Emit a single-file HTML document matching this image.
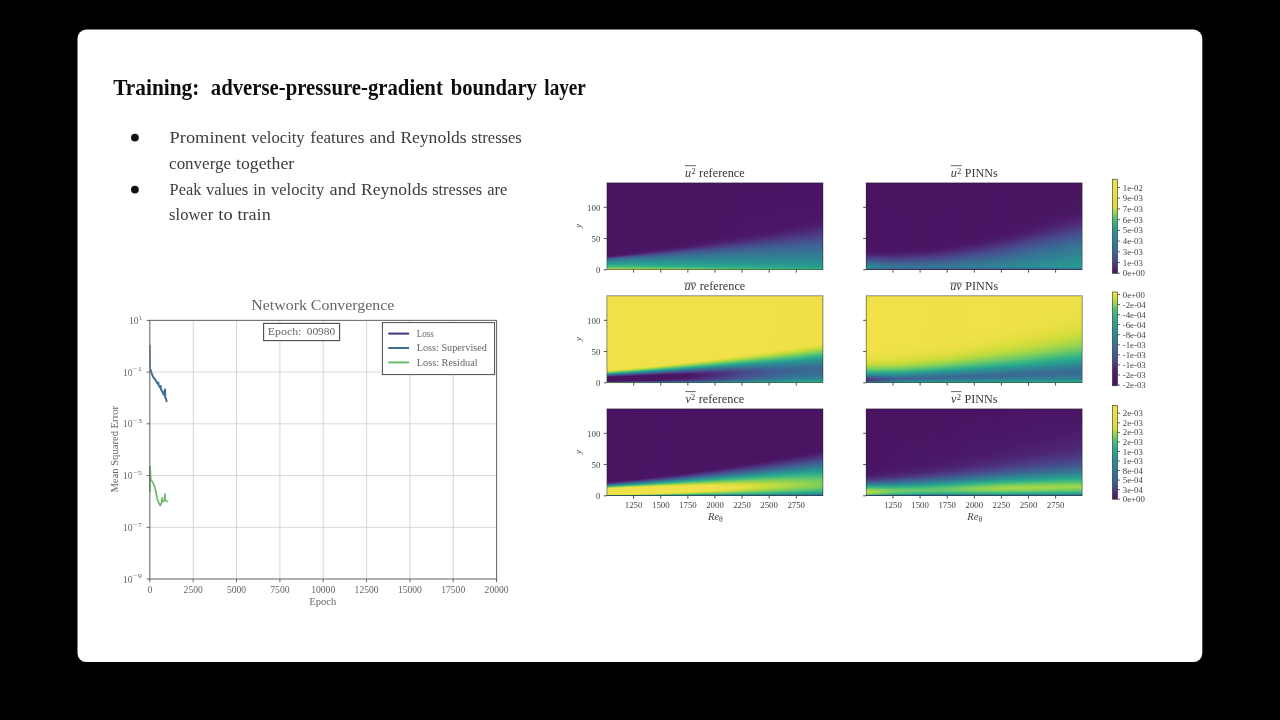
<!DOCTYPE html>
<html lang="en"><head><meta charset="utf-8"><title>Training: adverse-pressure-gradient boundary layer</title>
<style>
html,body{margin:0;padding:0;background:#000;}
body{width:1280px;height:720px;overflow:hidden;position:relative;font-family:"Liberation Serif",serif;}
svg{position:absolute;left:0;top:0;}
text{font-family:"Liberation Serif",serif;}
.b{font-weight:bold;fill:#0c0c0c;font-size:22.2px;}
.p{fill:#3c3c3c;font-size:17.6px;}
.cm{fill:#666;}
.tk{fill:#444;font-size:8.8px;}
.tt{fill:#363636;font-size:12.2px;}
</style></head><body>
<svg width="1280" height="720" viewBox="0 0 1280 720">
<rect x="77.5" y="29.6" width="1124.8" height="632.4" rx="8.8" ry="8.8" fill="#fff"/>
<text y="94.5" class="b"><tspan x="113.2" textLength="86.2" lengthAdjust="spacingAndGlyphs">Training:</tspan> <tspan x="210.8" textLength="232.0" lengthAdjust="spacingAndGlyphs">adverse-pressure-gradient</tspan> <tspan x="450.8" textLength="86.1" lengthAdjust="spacingAndGlyphs">boundary</tspan> <tspan x="544.3" textLength="41.6" lengthAdjust="spacingAndGlyphs">layer</tspan></text>
<circle cx="134.9" cy="137.6" r="3.9" fill="#111"/>
<circle cx="134.9" cy="189.6" r="3.9" fill="#111"/>
<text y="142.9" class="p"><tspan x="169.6" textLength="76.5" lengthAdjust="spacingAndGlyphs">Prominent</tspan> <tspan x="251.2" textLength="53.5" lengthAdjust="spacingAndGlyphs">velocity</tspan> <tspan x="310.2" textLength="54.1" lengthAdjust="spacingAndGlyphs">features</tspan> <tspan x="369.4" textLength="25.7" lengthAdjust="spacingAndGlyphs">and</tspan> <tspan x="400.4" textLength="66.2" lengthAdjust="spacingAndGlyphs">Reynolds</tspan> <tspan x="471.3" textLength="50.5" lengthAdjust="spacingAndGlyphs">stresses</tspan></text>
<text y="169.0" class="p"><tspan x="169.1" textLength="61.9" lengthAdjust="spacingAndGlyphs">converge</tspan> <tspan x="236.0" textLength="58.2" lengthAdjust="spacingAndGlyphs">together</tspan></text>
<text y="194.8" class="p"><tspan x="169.6" textLength="31.7" lengthAdjust="spacingAndGlyphs">Peak</tspan> <tspan x="206.0" textLength="42.3" lengthAdjust="spacingAndGlyphs">values</tspan> <tspan x="253.3" textLength="12.6" lengthAdjust="spacingAndGlyphs">in</tspan> <tspan x="271.0" textLength="53.2" lengthAdjust="spacingAndGlyphs">velocity</tspan> <tspan x="329.6" textLength="26.4" lengthAdjust="spacingAndGlyphs">and</tspan> <tspan x="361.0" textLength="66.6" lengthAdjust="spacingAndGlyphs">Reynolds</tspan> <tspan x="432.2" textLength="50.0" lengthAdjust="spacingAndGlyphs">stresses</tspan> <tspan x="487.2" textLength="20.2" lengthAdjust="spacingAndGlyphs">are</tspan></text>
<text y="220.3" class="p"><tspan x="169.1" textLength="44.1" lengthAdjust="spacingAndGlyphs">slower</tspan> <tspan x="218.3" textLength="14.4" lengthAdjust="spacingAndGlyphs">to</tspan> <tspan x="237.5" textLength="33.2" lengthAdjust="spacingAndGlyphs">train</tspan></text>
<path d="M193.2 320.4V579.0M236.5 320.4V579.0M279.9 320.4V579.0M323.2 320.4V579.0M366.6 320.4V579.0M409.9 320.4V579.0M453.2 320.4V579.0M149.8 372.1H496.6M149.8 423.8H496.6M149.8 475.6H496.6M149.8 527.3H496.6" stroke="#cdcdcd" stroke-width="0.8" fill="none"/>
<path d="M149.8 579.0v3.2M193.2 579.0v3.2M236.5 579.0v3.2M279.9 579.0v3.2M323.2 579.0v3.2M366.6 579.0v3.2M409.9 579.0v3.2M453.2 579.0v3.2M496.6 579.0v3.2M149.8 320.4h-3.2M149.8 372.1h-3.2M149.8 423.8h-3.2M149.8 475.6h-3.2M149.8 527.3h-3.2M149.8 579.0h-3.2" stroke="#555" stroke-width="0.9" fill="none"/>
<path d="M150.0 345.4 L150.2 360.0 L150.3 367.3 L150.8 370.5" stroke="#44709a" stroke-width="1.2" fill="none" stroke-linejoin="round" stroke-linecap="round"/>
<path d="M150.8 370.5 L151.5 372.8 L153.0 376.7 L155.6 380.3 L157.5 383.4 L158.4 382.6 L158.6 385.2 L159.8 387.1 L160.7 386.0 L160.9 389.2 L162.4 391.8 L163.6 394.6 L165.1 389.4 L165.2 397.5 L166.0 398.4 L166.6 401.3" stroke="#426d96" stroke-width="2" fill="none" stroke-linejoin="round" stroke-linecap="round"/>
<path d="M149.9 491.0 L150.0 466.5 L150.4 474.0 L150.9 480.0 L152.5 481.8 L153.8 484.5 L155.1 488.3 L156.2 493.5 L157.2 498.7 L158.8 503.0 L160.3 505.5 L161.5 503.0 L162.1 497.9 L162.5 501.9 L163.4 501.5 L164.5 500.3 L165.0 494.0 L165.4 500.8 L167.1 501.4" stroke="#6cba6b" stroke-width="1.7" fill="none" stroke-linejoin="round" stroke-linecap="round"/>
<rect x="149.8" y="320.4" width="346.8" height="258.6" fill="none" stroke="#555" stroke-opacity="0.85" stroke-width="1.1"/>
<text x="251.3" y="310.4" class="cm" textLength="143.1" lengthAdjust="spacingAndGlyphs" font-size="14.8">Network Convergence</text>
<rect x="263.6" y="323.4" width="76" height="17.2" fill="#fff" stroke="#4a4a4a" stroke-width="1.1"/>
<text y="335.1" class="cm" font-size="11.4"><tspan x="267.8" textLength="33.6" lengthAdjust="spacingAndGlyphs">Epoch:</tspan> <tspan x="306.7" textLength="28.5" lengthAdjust="spacingAndGlyphs">00980</tspan></text>
<rect x="382.4" y="322.6" width="112.2" height="52" fill="#fff" stroke="#4a4a4a" stroke-width="1"/>
<path d="M388.3 333.6H409.1" stroke="#46327e" stroke-width="2"/>
<text x="416.7" y="336.8" class="cm" textLength="17.0" lengthAdjust="spacingAndGlyphs" font-size="9.3">Loss</text>
<path d="M388.3 348.0H409.1" stroke="#3d6c94" stroke-width="2"/>
<text x="416.7" y="351.2" class="cm" textLength="70.2" lengthAdjust="spacingAndGlyphs" font-size="9.3">Loss: Supervised</text>
<path d="M388.3 362.4H409.1" stroke="#6cba6b" stroke-width="2"/>
<text x="416.7" y="365.6" class="cm" textLength="61.0" lengthAdjust="spacingAndGlyphs" font-size="9.3">Loss: Residual</text>
<text x="149.8" y="592.6" class="cm" text-anchor="middle" font-size="9.6">0</text>
<text x="193.2" y="592.6" class="cm" text-anchor="middle" font-size="9.6">2500</text>
<text x="236.5" y="592.6" class="cm" text-anchor="middle" font-size="9.6">5000</text>
<text x="279.9" y="592.6" class="cm" text-anchor="middle" font-size="9.6">7500</text>
<text x="323.2" y="592.6" class="cm" text-anchor="middle" font-size="9.6">10000</text>
<text x="366.6" y="592.6" class="cm" text-anchor="middle" font-size="9.6">12500</text>
<text x="409.9" y="592.6" class="cm" text-anchor="middle" font-size="9.6">15000</text>
<text x="453.2" y="592.6" class="cm" text-anchor="middle" font-size="9.6">17500</text>
<text x="496.6" y="592.6" class="cm" text-anchor="middle" font-size="9.6">20000</text>
<text x="322.8" y="604.9" class="cm" textLength="27.0" lengthAdjust="spacingAndGlyphs" text-anchor="middle" font-size="9.8">Epoch</text>
<text x="128.9" y="323.9" class="cm" font-size="9.6">10<tspan x="138.4" dy="-4.2" font-size="7">1</tspan></text>
<text x="122.9" y="375.6" class="cm" font-size="9.6">10<tspan x="133.1" dy="-4.2" font-size="7" textLength="8.8" lengthAdjust="spacingAndGlyphs">−1</tspan></text>
<text x="122.9" y="427.3" class="cm" font-size="9.6">10<tspan x="133.1" dy="-4.2" font-size="7" textLength="8.8" lengthAdjust="spacingAndGlyphs">−3</tspan></text>
<text x="122.9" y="479.1" class="cm" font-size="9.6">10<tspan x="133.1" dy="-4.2" font-size="7" textLength="8.8" lengthAdjust="spacingAndGlyphs">−5</tspan></text>
<text x="122.9" y="530.8" class="cm" font-size="9.6">10<tspan x="133.1" dy="-4.2" font-size="7" textLength="8.8" lengthAdjust="spacingAndGlyphs">−7</tspan></text>
<text x="122.9" y="582.5" class="cm" font-size="9.6">10<tspan x="133.1" dy="-4.2" font-size="7" textLength="8.8" lengthAdjust="spacingAndGlyphs">−9</tspan></text>
<text transform="translate(117.8 449.3) rotate(-90)" class="cm" text-anchor="middle" font-size="9.6" textLength="86.6" lengthAdjust="spacingAndGlyphs">Mean Squared Error</text>
<defs><linearGradient id="h0" gradientUnits="userSpaceOnUse" x1="0" x2="0" y1="269.5" y2="0"><stop offset="0" stop-color="#dade3c"/><stop offset=".0029" stop-color="#bdda3e"/><stop offset=".0072" stop-color="#99d54d"/><stop offset=".0134" stop-color="#7acd60"/><stop offset=".0193" stop-color="#65c76c"/><stop offset=".0403" stop-color="#3ab582"/><stop offset=".0573" stop-color="#2aa78c"/><stop offset=".0816" stop-color="#2a9393"/><stop offset=".1128" stop-color="#377094"/><stop offset=".1262" stop-color="#435690"/><stop offset=".1345" stop-color="#4c3a83"/><stop offset=".1432" stop-color="#4c206e"/><stop offset=".1491" stop-color="#4a1866"/><stop offset=".1739" stop-color="#491462"/><stop offset="1" stop-color="#491462"/></linearGradient>
<linearGradient id="k1" href="#h0" y2="181"/>
<linearGradient id="k2" href="#h0" y2="179.1"/>
<linearGradient id="k3" href="#h0" y2="177.1"/>
<linearGradient id="k4" href="#h0" y2="175.1"/>
<linearGradient id="k5" href="#h0" y2="173.1"/>
<linearGradient id="k6" href="#h0" y2="171"/>
<linearGradient id="k7" href="#h0" y2="169"/>
<linearGradient id="k8" href="#h0" y2="166.9"/>
<linearGradient id="k9" href="#h0" y2="164.8"/>
<linearGradient id="h10" gradientUnits="userSpaceOnUse" x1="0" x2="0" y1="269.5" y2="0"><stop offset="0" stop-color="#e5df41"/><stop offset=".0018" stop-color="#cedc3a"/><stop offset=".006" stop-color="#a1d64a"/><stop offset=".0109" stop-color="#7acd60"/><stop offset=".0172" stop-color="#5bc471"/><stop offset=".0263" stop-color="#40b87f"/><stop offset=".0403" stop-color="#2eac8a"/><stop offset=".0611" stop-color="#289b91"/><stop offset=".1052" stop-color="#367394"/><stop offset=".1234" stop-color="#445590"/><stop offset=".1345" stop-color="#4c3982"/><stop offset=".1432" stop-color="#4c2471"/><stop offset=".1551" stop-color="#4a1866"/><stop offset=".1804" stop-color="#491462"/><stop offset="1" stop-color="#491462"/></linearGradient>
<linearGradient id="k11" href="#h10" y2="181"/>
<linearGradient id="k12" href="#h10" y2="179.1"/>
<linearGradient id="k13" href="#h10" y2="177.1"/>
<linearGradient id="k14" href="#h10" y2="175.1"/>
<linearGradient id="k15" href="#h10" y2="173.1"/>
<linearGradient id="k16" href="#h10" y2="171"/>
<linearGradient id="k17" href="#h10" y2="169"/>
<linearGradient id="k18" href="#h10" y2="166.9"/>
<linearGradient id="k19" href="#h10" y2="164.8"/>
<linearGradient id="k20" href="#h10" y2="162.6"/>
<linearGradient id="k21" href="#h10" y2="160.5"/>
<linearGradient id="k22" href="#h10" y2="158.3"/>
<linearGradient id="k23" href="#h10" y2="156"/>
<linearGradient id="k24" href="#h10" y2="153.8"/>
<linearGradient id="k25" href="#h10" y2="151.5"/>
<linearGradient id="k26" href="#h10" y2="149.2"/>
<linearGradient id="k27" href="#h10" y2="146.9"/>
<linearGradient id="k28" href="#h10" y2="144.6"/>
<linearGradient id="h29" gradientUnits="userSpaceOnUse" x1="0" x2="0" y1="269.5" y2="0"><stop offset="0" stop-color="#c9dc3b"/><stop offset=".0034" stop-color="#a3d649"/><stop offset=".0066" stop-color="#85d059"/><stop offset=".0117" stop-color="#65c76c"/><stop offset=".0162" stop-color="#50c077"/><stop offset=".0251" stop-color="#3ab582"/><stop offset=".0403" stop-color="#2ba88c"/><stop offset=".071" stop-color="#299592"/><stop offset=".1234" stop-color="#386f94"/><stop offset=".1491" stop-color="#464f8e"/><stop offset=".1707" stop-color="#4d2a77"/><stop offset=".187" stop-color="#4b1967"/><stop offset=".2255" stop-color="#491462"/><stop offset="1" stop-color="#491462"/></linearGradient>
<linearGradient id="k30" href="#h29" y2="181"/>
<linearGradient id="k31" href="#h29" y2="179.2"/>
<linearGradient id="k32" href="#h29" y2="177.4"/>
<linearGradient id="k33" href="#h29" y2="175.6"/>
<linearGradient id="k34" href="#h29" y2="173.7"/>
<linearGradient id="k35" href="#h29" y2="171.8"/>
<linearGradient id="k36" href="#h29" y2="169.9"/>
<linearGradient id="k37" href="#h29" y2="168"/>
<linearGradient id="k38" href="#h29" y2="166.1"/>
<linearGradient id="k39" href="#h29" y2="164.1"/>
<linearGradient id="k40" href="#h29" y2="162.1"/>
<linearGradient id="k41" href="#h29" y2="160.1"/>
<linearGradient id="k42" href="#h29" y2="158.1"/>
<linearGradient id="k43" href="#h29" y2="156.1"/>
<linearGradient id="k44" href="#h29" y2="154"/>
<linearGradient id="k45" href="#h29" y2="151.9"/>
<linearGradient id="k46" href="#h29" y2="149.8"/>
<linearGradient id="k47" href="#h29" y2="147.7"/>
<linearGradient id="h48" gradientUnits="userSpaceOnUse" x1="0" x2="0" y1="269.5" y2="0"><stop offset="0" stop-color="#add845"/><stop offset=".0043" stop-color="#82d05b"/><stop offset=".0093" stop-color="#61c66e"/><stop offset=".0162" stop-color="#44bb7d"/><stop offset=".0263" stop-color="#32b087"/><stop offset=".0451" stop-color="#28a38e"/><stop offset=".1027" stop-color="#2f8594"/><stop offset=".1551" stop-color="#3e6293"/><stop offset=".1837" stop-color="#4a4389"/><stop offset=".2111" stop-color="#4c2270"/><stop offset=".2329" stop-color="#4a1866"/><stop offset=".2922" stop-color="#491462"/><stop offset="1" stop-color="#491462"/></linearGradient>
<linearGradient id="k49" href="#h48" y2="181"/>
<linearGradient id="k50" href="#h48" y2="179.4"/>
<linearGradient id="k51" href="#h48" y2="177.7"/>
<linearGradient id="k52" href="#h48" y2="176"/>
<linearGradient id="k53" href="#h48" y2="174.3"/>
<linearGradient id="k54" href="#h48" y2="172.5"/>
<linearGradient id="k55" href="#h48" y2="170.8"/>
<linearGradient id="k56" href="#h48" y2="169"/>
<linearGradient id="k57" href="#h48" y2="167.2"/>
<linearGradient id="k58" href="#h48" y2="165.4"/>
<linearGradient id="k59" href="#h48" y2="163.6"/>
<linearGradient id="k60" href="#h48" y2="161.8"/>
<linearGradient id="k61" href="#h48" y2="159.9"/>
<linearGradient id="k62" href="#h48" y2="158"/>
<linearGradient id="k63" href="#h48" y2="156.2"/>
<linearGradient id="k64" href="#h48" y2="154.3"/>
<linearGradient id="k65" href="#h48" y2="152.3"/>
<linearGradient id="k66" href="#h48" y2="150.4"/>
<linearGradient id="h67" gradientUnits="userSpaceOnUse" x1="0" x2="0" y1="269.5" y2="0"><stop offset="0" stop-color="#95d44f"/><stop offset=".0038" stop-color="#71cb65"/><stop offset=".0086" stop-color="#55c274"/><stop offset=".0153" stop-color="#3db781"/><stop offset=".0276" stop-color="#2caa8b"/><stop offset=".0592" stop-color="#289a91"/><stop offset=".1551" stop-color="#396e94"/><stop offset=".1971" stop-color="#46508f"/><stop offset=".2292" stop-color="#4d327d"/><stop offset=".2637" stop-color="#4b1c6a"/><stop offset=".3178" stop-color="#491462"/><stop offset="1" stop-color="#491462"/></linearGradient>
<linearGradient id="k68" href="#h67" y2="181"/>
<linearGradient id="k69" href="#h67" y2="179.5"/>
<linearGradient id="k70" href="#h67" y2="177.9"/>
<linearGradient id="k71" href="#h67" y2="176.3"/>
<linearGradient id="k72" href="#h67" y2="174.7"/>
<linearGradient id="k73" href="#h67" y2="173.1"/>
<linearGradient id="k74" href="#h67" y2="171.5"/>
<linearGradient id="k75" href="#h67" y2="169.9"/>
<linearGradient id="k76" href="#h67" y2="168.2"/>
<linearGradient id="k77" href="#h67" y2="166.6"/>
<linearGradient id="k78" href="#h67" y2="164.9"/>
<linearGradient id="k79" href="#h67" y2="163.2"/>
<linearGradient id="k80" href="#h67" y2="161.5"/>
<linearGradient id="k81" href="#h67" y2="159.8"/>
<linearGradient id="k82" href="#h67" y2="158"/>
<linearGradient id="k83" href="#h67" y2="156.3"/>
<linearGradient id="k84" href="#h67" y2="154.5"/>
<linearGradient id="k85" href="#h67" y2="152.7"/>
<linearGradient id="h86" gradientUnits="userSpaceOnUse" x1="0" x2="0" y1="269.5" y2="0"><stop offset="0" stop-color="#7ecf5d"/><stop offset=".0043" stop-color="#5dc570"/><stop offset=".0109" stop-color="#40b87f"/><stop offset=".0204" stop-color="#2ead89"/><stop offset=".0403" stop-color="#279f90"/><stop offset=".1675" stop-color="#386f94"/><stop offset=".2292" stop-color="#474c8d"/><stop offset=".2839" stop-color="#4d2673"/><stop offset=".331" stop-color="#4a1665"/><stop offset="1" stop-color="#491462"/></linearGradient>
<linearGradient id="k87" href="#h86" y2="181"/>
<linearGradient id="k88" href="#h86" y2="179.6"/>
<linearGradient id="k89" href="#h86" y2="178.1"/>
<linearGradient id="k90" href="#h86" y2="176.6"/>
<linearGradient id="k91" href="#h86" y2="175.2"/>
<linearGradient id="k92" href="#h86" y2="173.7"/>
<linearGradient id="k93" href="#h86" y2="172.2"/>
<linearGradient id="k94" href="#h86" y2="170.6"/>
<linearGradient id="k95" href="#h86" y2="169.1"/>
<linearGradient id="k96" href="#h86" y2="167.6"/>
<linearGradient id="k97" href="#h86" y2="166"/>
<linearGradient id="k98" href="#h86" y2="164.4"/>
<linearGradient id="k99" href="#h86" y2="162.9"/>
<linearGradient id="k100" href="#h86" y2="161.3"/>
<linearGradient id="k101" href="#h86" y2="159.7"/>
<linearGradient id="k102" href="#h86" y2="158"/>
<linearGradient id="k103" href="#h86" y2="156.4"/>
<linearGradient id="k104" href="#h86" y2="154.8"/>
<linearGradient id="h105" gradientUnits="userSpaceOnUse" x1="0" x2="0" y1="269.5" y2="0"><stop offset="0" stop-color="#6bc968"/><stop offset=".0043" stop-color="#4ebf78"/><stop offset=".0117" stop-color="#35b285"/><stop offset=".0227" stop-color="#2aa78c"/><stop offset=".0555" stop-color="#299692"/><stop offset=".1971" stop-color="#3b6893"/><stop offset=".2677" stop-color="#49468a"/><stop offset=".3354" stop-color="#4c2270"/><stop offset=".3864" stop-color="#4a1665"/><stop offset="1" stop-color="#491462"/></linearGradient>
<linearGradient id="k106" href="#h105" y2="181"/>
<linearGradient id="k107" href="#h105" y2="179.7"/>
<linearGradient id="k108" href="#h105" y2="178.3"/>
<linearGradient id="k109" href="#h105" y2="176.9"/>
<linearGradient id="k110" href="#h105" y2="175.5"/>
<linearGradient id="k111" href="#h105" y2="174.1"/>
<linearGradient id="k112" href="#h105" y2="172.7"/>
<linearGradient id="k113" href="#h105" y2="171.3"/>
<linearGradient id="k114" href="#h105" y2="169.9"/>
<linearGradient id="k115" href="#h105" y2="168.5"/>
<linearGradient id="k116" href="#h105" y2="167"/>
<linearGradient id="k117" href="#h105" y2="165.5"/>
<linearGradient id="k118" href="#h105" y2="164.1"/>
<linearGradient id="k119" href="#h105" y2="162.6"/>
<linearGradient id="k120" href="#h105" y2="161.1"/>
<linearGradient id="k121" href="#h105" y2="159.6"/>
<linearGradient id="k122" href="#h105" y2="158.1"/>
<linearGradient id="k123" href="#h105" y2="156.5"/>
<linearGradient id="h124" gradientUnits="userSpaceOnUse" x1="0" x2="0" y1="269.5" y2="0"><stop offset="0" stop-color="#5bc471"/><stop offset=".0048" stop-color="#41b97f"/><stop offset=".0117" stop-color="#30ae88"/><stop offset=".0251" stop-color="#28a18f"/><stop offset=".0794" stop-color="#2b8e94"/><stop offset=".2292" stop-color="#3e6393"/><stop offset=".3091" stop-color="#4b4188"/><stop offset=".3864" stop-color="#4c216f"/><stop offset=".4565" stop-color="#4a1665"/><stop offset="1" stop-color="#491462"/></linearGradient>
<linearGradient id="k125" href="#h124" y2="181"/>
<linearGradient id="k126" href="#h124" y2="179.7"/>
<linearGradient id="k127" href="#h124" y2="178.5"/>
<linearGradient id="k128" href="#h124" y2="177.2"/>
<linearGradient id="k129" href="#h124" y2="175.9"/>
<linearGradient id="k130" href="#h124" y2="174.6"/>
<linearGradient id="k131" href="#h124" y2="173.3"/>
<linearGradient id="k132" href="#h124" y2="171.9"/>
<linearGradient id="k133" href="#h124" y2="170.6"/>
<linearGradient id="k134" href="#h124" y2="169.2"/>
<linearGradient id="k135" href="#h124" y2="167.9"/>
<linearGradient id="k136" href="#h124" y2="166.5"/>
<linearGradient id="k137" href="#h124" y2="165.1"/>
<linearGradient id="k138" href="#h124" y2="163.8"/>
<linearGradient id="k139" href="#h124" y2="162.4"/>
<linearGradient id="k140" href="#h124" y2="161"/>
<linearGradient id="k141" href="#h124" y2="159.5"/>
<linearGradient id="k142" href="#h124" y2="158.1"/>
<linearGradient id="h143" gradientUnits="userSpaceOnUse" x1="0" x2="0" y1="269.5" y2="0"><stop offset="0" stop-color="#4dbe79"/><stop offset=".006" stop-color="#35b285"/><stop offset=".0153" stop-color="#29a68d"/><stop offset=".0435" stop-color="#299692"/><stop offset=".2637" stop-color="#405e92"/><stop offset=".3535" stop-color="#4c3d85"/><stop offset=".4462" stop-color="#4c206e"/><stop offset=".5213" stop-color="#4a1665"/><stop offset="1" stop-color="#491462"/></linearGradient>
<linearGradient id="k144" href="#h143" y2="181"/>
<linearGradient id="k145" href="#h143" y2="179.8"/>
<linearGradient id="k146" href="#h143" y2="178.6"/>
<linearGradient id="k147" href="#h143" y2="177.4"/>
<linearGradient id="k148" href="#h143" y2="176.2"/>
<linearGradient id="k149" href="#h143" y2="174.9"/>
<linearGradient id="k150" href="#h143" y2="173.7"/>
<linearGradient id="k151" href="#h143" y2="172.5"/>
<linearGradient id="k152" href="#h143" y2="171.2"/>
<linearGradient id="h153" gradientUnits="userSpaceOnUse" x1="0" x2="0" y1="269.5" y2="0"><stop offset="0" stop-color="#484b8d"/><stop offset=".0038" stop-color="#3b6893"/><stop offset=".0093" stop-color="#317f94"/><stop offset=".0183" stop-color="#2c8d94"/><stop offset=".0343" stop-color="#2c8c94"/><stop offset=".1027" stop-color="#435791"/><stop offset=".1403" stop-color="#4c3782"/><stop offset=".1837" stop-color="#4b1a69"/><stop offset=".2329" stop-color="#491462"/><stop offset="1" stop-color="#491462"/></linearGradient>
<linearGradient id="k154" href="#h153" y2="181"/>
<linearGradient id="k155" href="#h153" y2="180.9"/>
<linearGradient id="k156" href="#h153" y2="180.7"/>
<linearGradient id="k157" href="#h153" y2="180.4"/>
<linearGradient id="k158" href="#h153" y2="180.1"/>
<linearGradient id="k159" href="#h153" y2="179.7"/>
<linearGradient id="k160" href="#h153" y2="179.3"/>
<linearGradient id="k161" href="#h153" y2="178.8"/>
<linearGradient id="k162" href="#h153" y2="178.3"/>
<linearGradient id="h163" gradientUnits="userSpaceOnUse" x1="0" x2="0" y1="269.5" y2="0"><stop offset="0" stop-color="#4b3f87"/><stop offset=".0043" stop-color="#425a91"/><stop offset=".0117" stop-color="#386f94"/><stop offset=".0227" stop-color="#347794"/><stop offset=".0484" stop-color="#396e94"/><stop offset=".1077" stop-color="#49468a"/><stop offset=".1675" stop-color="#4c206e"/><stop offset=".2006" stop-color="#4a1564"/><stop offset="1" stop-color="#491462"/></linearGradient>
<linearGradient id="k164" href="#h163" y2="181"/>
<linearGradient id="k165" href="#h163" y2="180.9"/>
<linearGradient id="k166" href="#h163" y2="180.7"/>
<linearGradient id="k167" href="#h163" y2="180.4"/>
<linearGradient id="k168" href="#h163" y2="180.1"/>
<linearGradient id="k169" href="#h163" y2="179.7"/>
<linearGradient id="k170" href="#h163" y2="179.3"/>
<linearGradient id="k171" href="#h163" y2="178.8"/>
<linearGradient id="k172" href="#h163" y2="178.3"/>
<linearGradient id="k173" href="#h163" y2="177.7"/>
<linearGradient id="k174" href="#h163" y2="177.1"/>
<linearGradient id="k175" href="#h163" y2="176.4"/>
<linearGradient id="k176" href="#h163" y2="175.7"/>
<linearGradient id="k177" href="#h163" y2="174.9"/>
<linearGradient id="k178" href="#h163" y2="174"/>
<linearGradient id="k179" href="#h163" y2="173.1"/>
<linearGradient id="k180" href="#h163" y2="172.2"/>
<linearGradient id="k181" href="#h163" y2="171.2"/>
<linearGradient id="h182" gradientUnits="userSpaceOnUse" x1="0" x2="0" y1="269.5" y2="0"><stop offset="0" stop-color="#4c3d85"/><stop offset=".0048" stop-color="#425a91"/><stop offset=".0117" stop-color="#396d94"/><stop offset=".0239" stop-color="#357594"/><stop offset=".0592" stop-color="#3c6693"/><stop offset=".1181" stop-color="#4b4188"/><stop offset=".1837" stop-color="#4b1c6a"/><stop offset=".2292" stop-color="#491462"/><stop offset="1" stop-color="#491462"/></linearGradient>
<linearGradient id="k183" href="#h182" y2="181"/>
<linearGradient id="k184" href="#h182" y2="180.4"/>
<linearGradient id="k185" href="#h182" y2="179.7"/>
<linearGradient id="k186" href="#h182" y2="179"/>
<linearGradient id="k187" href="#h182" y2="178.3"/>
<linearGradient id="k188" href="#h182" y2="177.4"/>
<linearGradient id="k189" href="#h182" y2="176.6"/>
<linearGradient id="k190" href="#h182" y2="175.7"/>
<linearGradient id="k191" href="#h182" y2="174.7"/>
<linearGradient id="k192" href="#h182" y2="173.7"/>
<linearGradient id="k193" href="#h182" y2="172.6"/>
<linearGradient id="k194" href="#h182" y2="171.5"/>
<linearGradient id="k195" href="#h182" y2="170.3"/>
<linearGradient id="k196" href="#h182" y2="169"/>
<linearGradient id="k197" href="#h182" y2="167.8"/>
<linearGradient id="k198" href="#h182" y2="166.4"/>
<linearGradient id="k199" href="#h182" y2="165"/>
<linearGradient id="k200" href="#h182" y2="163.6"/>
<linearGradient id="h201" gradientUnits="userSpaceOnUse" x1="0" x2="0" y1="269.5" y2="0"><stop offset="0" stop-color="#4c3d85"/><stop offset=".0043" stop-color="#425991"/><stop offset=".0109" stop-color="#396e94"/><stop offset=".0215" stop-color="#347794"/><stop offset=".0484" stop-color="#377194"/><stop offset=".1234" stop-color="#49498c"/><stop offset=".1904" stop-color="#4c2270"/><stop offset=".2329" stop-color="#4a1564"/><stop offset="1" stop-color="#491462"/></linearGradient>
<linearGradient id="k202" href="#h201" y2="181"/>
<linearGradient id="k203" href="#h201" y2="180"/>
<linearGradient id="k204" href="#h201" y2="179"/>
<linearGradient id="k205" href="#h201" y2="177.9"/>
<linearGradient id="k206" href="#h201" y2="176.8"/>
<linearGradient id="k207" href="#h201" y2="175.6"/>
<linearGradient id="k208" href="#h201" y2="174.3"/>
<linearGradient id="k209" href="#h201" y2="173"/>
<linearGradient id="k210" href="#h201" y2="171.7"/>
<linearGradient id="k211" href="#h201" y2="170.3"/>
<linearGradient id="k212" href="#h201" y2="168.9"/>
<linearGradient id="k213" href="#h201" y2="167.4"/>
<linearGradient id="k214" href="#h201" y2="165.9"/>
<linearGradient id="k215" href="#h201" y2="164.4"/>
<linearGradient id="k216" href="#h201" y2="162.7"/>
<linearGradient id="k217" href="#h201" y2="161.1"/>
<linearGradient id="k218" href="#h201" y2="159.4"/>
<linearGradient id="k219" href="#h201" y2="157.6"/>
<linearGradient id="h220" gradientUnits="userSpaceOnUse" x1="0" x2="0" y1="269.5" y2="0"><stop offset="0" stop-color="#4b3e86"/><stop offset=".0038" stop-color="#425991"/><stop offset=".0093" stop-color="#396e94"/><stop offset=".0193" stop-color="#337b94"/><stop offset=".0435" stop-color="#337b94"/><stop offset=".1461" stop-color="#474d8d"/><stop offset=".2147" stop-color="#4d2976"/><stop offset=".2597" stop-color="#4a1866"/><stop offset=".3581" stop-color="#491462"/><stop offset="1" stop-color="#491462"/></linearGradient>
<linearGradient id="k221" href="#h220" y2="181"/>
<linearGradient id="k222" href="#h220" y2="179.7"/>
<linearGradient id="k223" href="#h220" y2="178.4"/>
<linearGradient id="k224" href="#h220" y2="177.1"/>
<linearGradient id="k225" href="#h220" y2="175.7"/>
<linearGradient id="k226" href="#h220" y2="174.2"/>
<linearGradient id="k227" href="#h220" y2="172.7"/>
<linearGradient id="k228" href="#h220" y2="171.2"/>
<linearGradient id="k229" href="#h220" y2="169.6"/>
<linearGradient id="k230" href="#h220" y2="168"/>
<linearGradient id="k231" href="#h220" y2="166.4"/>
<linearGradient id="k232" href="#h220" y2="164.7"/>
<linearGradient id="k233" href="#h220" y2="162.9"/>
<linearGradient id="k234" href="#h220" y2="161.1"/>
<linearGradient id="k235" href="#h220" y2="159.3"/>
<linearGradient id="k236" href="#h220" y2="157.4"/>
<linearGradient id="k237" href="#h220" y2="155.5"/>
<linearGradient id="k238" href="#h220" y2="153.6"/>
<linearGradient id="h239" gradientUnits="userSpaceOnUse" x1="0" x2="0" y1="269.5" y2="0"><stop offset="0" stop-color="#4b4087"/><stop offset=".0043" stop-color="#3f5f92"/><stop offset=".0109" stop-color="#357594"/><stop offset=".0215" stop-color="#308294"/><stop offset=".0484" stop-color="#308194"/><stop offset=".1739" stop-color="#445490"/><stop offset=".2404" stop-color="#4d337e"/><stop offset=".2964" stop-color="#4b1d6b"/><stop offset=".349" stop-color="#4a1564"/><stop offset="1" stop-color="#491462"/></linearGradient>
<linearGradient id="k240" href="#h239" y2="181"/>
<linearGradient id="k241" href="#h239" y2="179.6"/>
<linearGradient id="k242" href="#h239" y2="178.1"/>
<linearGradient id="k243" href="#h239" y2="176.6"/>
<linearGradient id="k244" href="#h239" y2="175"/>
<linearGradient id="k245" href="#h239" y2="173.4"/>
<linearGradient id="k246" href="#h239" y2="171.8"/>
<linearGradient id="k247" href="#h239" y2="170.1"/>
<linearGradient id="k248" href="#h239" y2="168.4"/>
<linearGradient id="k249" href="#h239" y2="166.7"/>
<linearGradient id="k250" href="#h239" y2="164.9"/>
<linearGradient id="k251" href="#h239" y2="163.1"/>
<linearGradient id="k252" href="#h239" y2="161.2"/>
<linearGradient id="k253" href="#h239" y2="159.3"/>
<linearGradient id="k254" href="#h239" y2="157.4"/>
<linearGradient id="k255" href="#h239" y2="155.4"/>
<linearGradient id="k256" href="#h239" y2="153.4"/>
<linearGradient id="k257" href="#h239" y2="151.4"/>
<linearGradient id="h258" gradientUnits="userSpaceOnUse" x1="0" x2="0" y1="269.5" y2="0"><stop offset="0" stop-color="#4a4389"/><stop offset=".0038" stop-color="#3f6092"/><stop offset=".0101" stop-color="#347894"/><stop offset=".0193" stop-color="#2e8694"/><stop offset=".0373" stop-color="#2c8b94"/><stop offset=".1675" stop-color="#3a6a94"/><stop offset=".2597" stop-color="#49468a"/><stop offset=".3399" stop-color="#4c2471"/><stop offset=".3961" stop-color="#4a1866"/><stop offset=".5611" stop-color="#491462"/><stop offset="1" stop-color="#491462"/></linearGradient>
<linearGradient id="k259" href="#h258" y2="181"/>
<linearGradient id="k260" href="#h258" y2="179.5"/>
<linearGradient id="k261" href="#h258" y2="177.9"/>
<linearGradient id="k262" href="#h258" y2="176.3"/>
<linearGradient id="k263" href="#h258" y2="174.7"/>
<linearGradient id="k264" href="#h258" y2="173"/>
<linearGradient id="k265" href="#h258" y2="171.3"/>
<linearGradient id="k266" href="#h258" y2="169.6"/>
<linearGradient id="k267" href="#h258" y2="167.9"/>
<linearGradient id="k268" href="#h258" y2="166.1"/>
<linearGradient id="k269" href="#h258" y2="164.3"/>
<linearGradient id="k270" href="#h258" y2="162.4"/>
<linearGradient id="k271" href="#h258" y2="160.5"/>
<linearGradient id="k272" href="#h258" y2="158.6"/>
<linearGradient id="k273" href="#h258" y2="156.7"/>
<linearGradient id="k274" href="#h258" y2="154.7"/>
<linearGradient id="k275" href="#h258" y2="152.7"/>
<linearGradient id="k276" href="#h258" y2="150.6"/>
<linearGradient id="h277" gradientUnits="userSpaceOnUse" x1="0" x2="0" y1="269.5" y2="0"><stop offset="0" stop-color="#4a458a"/><stop offset=".0034" stop-color="#3f6092"/><stop offset=".0086" stop-color="#347994"/><stop offset=".0183" stop-color="#2c8c94"/><stop offset=".0388" stop-color="#2a9393"/><stop offset=".2041" stop-color="#386f94"/><stop offset=".3091" stop-color="#484b8d"/><stop offset=".3961" stop-color="#4d2976"/><stop offset=".4723" stop-color="#4b1967"/><stop offset=".6388" stop-color="#491462"/><stop offset="1" stop-color="#491462"/></linearGradient>
<linearGradient id="k278" href="#h277" y2="181"/>
<linearGradient id="k279" href="#h277" y2="179.5"/>
<linearGradient id="k280" href="#h277" y2="177.9"/>
<linearGradient id="k281" href="#h277" y2="176.3"/>
<linearGradient id="k282" href="#h277" y2="174.6"/>
<linearGradient id="k283" href="#h277" y2="173"/>
<linearGradient id="k284" href="#h277" y2="171.3"/>
<linearGradient id="k285" href="#h277" y2="169.5"/>
<linearGradient id="k286" href="#h277" y2="167.8"/>
<linearGradient id="k287" href="#h277" y2="166"/>
<linearGradient id="k288" href="#h277" y2="164.2"/>
<linearGradient id="k289" href="#h277" y2="162.4"/>
<linearGradient id="k290" href="#h277" y2="160.5"/>
<linearGradient id="k291" href="#h277" y2="158.6"/>
<linearGradient id="k292" href="#h277" y2="156.7"/>
<linearGradient id="k293" href="#h277" y2="154.8"/>
<linearGradient id="k294" href="#h277" y2="152.8"/>
<linearGradient id="k295" href="#h277" y2="150.8"/>
<linearGradient id="h296" gradientUnits="userSpaceOnUse" x1="0" x2="0" y1="269.5" y2="0"><stop offset="0" stop-color="#49478b"/><stop offset=".0034" stop-color="#3d6593"/><stop offset=".0093" stop-color="#318094"/><stop offset=".0193" stop-color="#299493"/><stop offset=".0403" stop-color="#289a91"/><stop offset=".2442" stop-color="#377294"/><stop offset=".3675" stop-color="#474c8d"/><stop offset=".4723" stop-color="#4d2774"/><stop offset=".5669" stop-color="#4a1866"/><stop offset=".8163" stop-color="#491462"/><stop offset="1" stop-color="#491462"/></linearGradient>
<linearGradient id="k297" href="#h296" y2="181"/>
<linearGradient id="k298" href="#h296" y2="179.5"/>
<linearGradient id="k299" href="#h296" y2="177.9"/>
<linearGradient id="k300" href="#h296" y2="176.3"/>
<linearGradient id="k301" href="#h296" y2="174.7"/>
<linearGradient id="k302" href="#h296" y2="173.1"/>
<linearGradient id="k303" href="#h296" y2="171.4"/>
<linearGradient id="k304" href="#h296" y2="169.7"/>
<linearGradient id="k305" href="#h296" y2="168"/>
<linearGradient id="h306" gradientUnits="userSpaceOnUse" x1="0" x2="0" y1="382.5" y2="0"><stop offset="0" stop-color="#6fca66"/><stop offset=".0005" stop-color="#49bd7b"/><stop offset=".001" stop-color="#35b285"/><stop offset=".0015" stop-color="#28a48e"/><stop offset=".0029" stop-color="#2f8494"/><stop offset=".006" stop-color="#45518f"/><stop offset=".0093" stop-color="#4d2b78"/><stop offset=".0117" stop-color="#4a1866"/><stop offset=".0134" stop-color="#491462"/><stop offset=".063" stop-color="#491462"/><stop offset=".0669" stop-color="#4c206e"/><stop offset=".0751" stop-color="#4b4188"/><stop offset=".0839" stop-color="#3c6693"/><stop offset=".0978" stop-color="#289b91"/><stop offset=".1002" stop-color="#29a48e"/><stop offset=".1027" stop-color="#2fad89"/><stop offset=".1077" stop-color="#4bbe7a"/><stop offset=".1181" stop-color="#99d54d"/><stop offset=".1234" stop-color="#c0db3d"/><stop offset=".1262" stop-color="#cedc3a"/><stop offset=".1289" stop-color="#dcde3d"/><stop offset=".1374" stop-color="#f0e14a"/><stop offset="1" stop-color="#f0e14a"/></linearGradient>
<linearGradient id="k307" href="#h306" y2="294"/>
<linearGradient id="k308" href="#h306" y2="292.1"/>
<linearGradient id="k309" href="#h306" y2="290.1"/>
<linearGradient id="k310" href="#h306" y2="288.1"/>
<linearGradient id="k311" href="#h306" y2="286.1"/>
<linearGradient id="k312" href="#h306" y2="284"/>
<linearGradient id="k313" href="#h306" y2="282"/>
<linearGradient id="k314" href="#h306" y2="279.9"/>
<linearGradient id="k315" href="#h306" y2="277.8"/>
<linearGradient id="h316" gradientUnits="userSpaceOnUse" x1="0" x2="0" y1="382.5" y2="0"><stop offset="0" stop-color="#55c274"/><stop offset=".0005" stop-color="#39b583"/><stop offset=".001" stop-color="#2caa8b"/><stop offset=".0018" stop-color="#289792"/><stop offset=".0043" stop-color="#3a6b94"/><stop offset=".0079" stop-color="#4b3f87"/><stop offset=".0117" stop-color="#4c2471"/><stop offset=".0153" stop-color="#491462"/><stop offset=".0611" stop-color="#491462"/><stop offset=".071" stop-color="#4d3681"/><stop offset=".0794" stop-color="#425891"/><stop offset=".093" stop-color="#2c8c94"/><stop offset=".0978" stop-color="#279e90"/><stop offset=".1027" stop-color="#31af87"/><stop offset=".1103" stop-color="#61c66e"/><stop offset=".1207" stop-color="#afd844"/><stop offset=".1262" stop-color="#d0dd3a"/><stop offset=".1317" stop-color="#e5df41"/><stop offset=".1374" stop-color="#f0e14a"/><stop offset="1" stop-color="#f0e14a"/></linearGradient>
<linearGradient id="k317" href="#h316" y2="294"/>
<linearGradient id="k318" href="#h316" y2="292.1"/>
<linearGradient id="k319" href="#h316" y2="290.1"/>
<linearGradient id="k320" href="#h316" y2="288.1"/>
<linearGradient id="k321" href="#h316" y2="286.1"/>
<linearGradient id="k322" href="#h316" y2="284"/>
<linearGradient id="k323" href="#h316" y2="282"/>
<linearGradient id="k324" href="#h316" y2="279.9"/>
<linearGradient id="k325" href="#h316" y2="277.8"/>
<linearGradient id="k326" href="#h316" y2="275.6"/>
<linearGradient id="k327" href="#h316" y2="273.5"/>
<linearGradient id="k328" href="#h316" y2="271.3"/>
<linearGradient id="k329" href="#h316" y2="269"/>
<linearGradient id="k330" href="#h316" y2="266.8"/>
<linearGradient id="k331" href="#h316" y2="264.5"/>
<linearGradient id="k332" href="#h316" y2="262.2"/>
<linearGradient id="k333" href="#h316" y2="259.9"/>
<linearGradient id="k334" href="#h316" y2="257.6"/>
<linearGradient id="h335" gradientUnits="userSpaceOnUse" x1="0" x2="0" y1="382.5" y2="0"><stop offset="0" stop-color="#41b97f"/><stop offset=".0007" stop-color="#2dab8a"/><stop offset=".0015" stop-color="#279e90"/><stop offset=".0043" stop-color="#357594"/><stop offset=".0086" stop-color="#474c8d"/><stop offset=".0125" stop-color="#4d337e"/><stop offset=".0204" stop-color="#4b1967"/><stop offset=".0263" stop-color="#491462"/><stop offset=".071" stop-color="#491462"/><stop offset=".0861" stop-color="#4c3c85"/><stop offset=".0978" stop-color="#3e6293"/><stop offset=".1154" stop-color="#289792"/><stop offset=".1207" stop-color="#2aa78c"/><stop offset=".1234" stop-color="#30ae88"/><stop offset=".1317" stop-color="#59c372"/><stop offset=".1461" stop-color="#b1d943"/><stop offset=".1491" stop-color="#c2db3d"/><stop offset=".1551" stop-color="#dade3c"/><stop offset=".1612" stop-color="#ece046"/><stop offset=".1675" stop-color="#f0e14a"/><stop offset="1" stop-color="#f0e14a"/></linearGradient>
<linearGradient id="k336" href="#h335" y2="294"/>
<linearGradient id="k337" href="#h335" y2="292.2"/>
<linearGradient id="k338" href="#h335" y2="290.4"/>
<linearGradient id="k339" href="#h335" y2="288.6"/>
<linearGradient id="k340" href="#h335" y2="286.7"/>
<linearGradient id="k341" href="#h335" y2="284.8"/>
<linearGradient id="k342" href="#h335" y2="282.9"/>
<linearGradient id="k343" href="#h335" y2="281"/>
<linearGradient id="k344" href="#h335" y2="279.1"/>
<linearGradient id="k345" href="#h335" y2="277.1"/>
<linearGradient id="k346" href="#h335" y2="275.1"/>
<linearGradient id="k347" href="#h335" y2="273.1"/>
<linearGradient id="k348" href="#h335" y2="271.1"/>
<linearGradient id="k349" href="#h335" y2="269.1"/>
<linearGradient id="k350" href="#h335" y2="267"/>
<linearGradient id="k351" href="#h335" y2="264.9"/>
<linearGradient id="k352" href="#h335" y2="262.8"/>
<linearGradient id="k353" href="#h335" y2="260.7"/>
<linearGradient id="h354" gradientUnits="userSpaceOnUse" x1="0" x2="0" y1="382.5" y2="0"><stop offset="0" stop-color="#38b484"/><stop offset=".001" stop-color="#29a68d"/><stop offset=".0025" stop-color="#2a9393"/><stop offset=".0066" stop-color="#396e94"/><stop offset=".0117" stop-color="#474e8e"/><stop offset=".0204" stop-color="#4d327d"/><stop offset=".0358" stop-color="#4c1e6c"/><stop offset=".0592" stop-color="#491462"/><stop offset=".0773" stop-color="#4a1564"/><stop offset=".0954" stop-color="#4d3580"/><stop offset=".1103" stop-color="#425891"/><stop offset=".1345" stop-color="#299493"/><stop offset=".1403" stop-color="#28a28f"/><stop offset=".1461" stop-color="#32b087"/><stop offset=".1551" stop-color="#55c274"/><stop offset=".1707" stop-color="#a5d748"/><stop offset=".1804" stop-color="#cedc3a"/><stop offset=".1904" stop-color="#e7df43"/><stop offset=".1971" stop-color="#f0e14a"/><stop offset="1" stop-color="#f0e14a"/></linearGradient>
<linearGradient id="k355" href="#h354" y2="294"/>
<linearGradient id="k356" href="#h354" y2="292.4"/>
<linearGradient id="k357" href="#h354" y2="290.7"/>
<linearGradient id="k358" href="#h354" y2="289"/>
<linearGradient id="k359" href="#h354" y2="287.3"/>
<linearGradient id="k360" href="#h354" y2="285.5"/>
<linearGradient id="k361" href="#h354" y2="283.8"/>
<linearGradient id="k362" href="#h354" y2="282"/>
<linearGradient id="k363" href="#h354" y2="280.2"/>
<linearGradient id="k364" href="#h354" y2="278.4"/>
<linearGradient id="k365" href="#h354" y2="276.6"/>
<linearGradient id="k366" href="#h354" y2="274.8"/>
<linearGradient id="k367" href="#h354" y2="272.9"/>
<linearGradient id="k368" href="#h354" y2="271"/>
<linearGradient id="k369" href="#h354" y2="269.2"/>
<linearGradient id="k370" href="#h354" y2="267.3"/>
<linearGradient id="k371" href="#h354" y2="265.3"/>
<linearGradient id="k372" href="#h354" y2="263.4"/>
<linearGradient id="h373" gradientUnits="userSpaceOnUse" x1="0" x2="0" y1="382.5" y2="0"><stop offset="0" stop-color="#37b384"/><stop offset=".0015" stop-color="#29a48e"/><stop offset=".0048" stop-color="#2d8a94"/><stop offset=".0117" stop-color="#3b6893"/><stop offset=".0204" stop-color="#46508f"/><stop offset=".0373" stop-color="#4c3c85"/><stop offset=".0751" stop-color="#4d2a77"/><stop offset=".0907" stop-color="#4d2d7a"/><stop offset=".1103" stop-color="#4a458a"/><stop offset=".1345" stop-color="#386f94"/><stop offset=".1582" stop-color="#279c91"/><stop offset=".1675" stop-color="#2fad89"/><stop offset=".1771" stop-color="#4bbe7a"/><stop offset=".1937" stop-color="#8ed254"/><stop offset=".2076" stop-color="#c2db3d"/><stop offset=".2147" stop-color="#d7de3b"/><stop offset=".2255" stop-color="#ece046"/><stop offset=".2404" stop-color="#f0e14a"/><stop offset="1" stop-color="#f0e14a"/></linearGradient>
<linearGradient id="k374" href="#h373" y2="294"/>
<linearGradient id="k375" href="#h373" y2="292.5"/>
<linearGradient id="k376" href="#h373" y2="290.9"/>
<linearGradient id="k377" href="#h373" y2="289.3"/>
<linearGradient id="k378" href="#h373" y2="287.7"/>
<linearGradient id="k379" href="#h373" y2="286.1"/>
<linearGradient id="k380" href="#h373" y2="284.5"/>
<linearGradient id="k381" href="#h373" y2="282.9"/>
<linearGradient id="k382" href="#h373" y2="281.2"/>
<linearGradient id="k383" href="#h373" y2="279.6"/>
<linearGradient id="k384" href="#h373" y2="277.9"/>
<linearGradient id="k385" href="#h373" y2="276.2"/>
<linearGradient id="k386" href="#h373" y2="274.5"/>
<linearGradient id="k387" href="#h373" y2="272.8"/>
<linearGradient id="k388" href="#h373" y2="271"/>
<linearGradient id="k389" href="#h373" y2="269.3"/>
<linearGradient id="k390" href="#h373" y2="267.5"/>
<linearGradient id="k391" href="#h373" y2="265.7"/>
<linearGradient id="h392" gradientUnits="userSpaceOnUse" x1="0" x2="0" y1="382.5" y2="0"><stop offset="0" stop-color="#3cb682"/><stop offset=".0021" stop-color="#2aa88c"/><stop offset=".006" stop-color="#299493"/><stop offset=".0143" stop-color="#347894"/><stop offset=".0289" stop-color="#3f6192"/><stop offset=".063" stop-color="#484b8d"/><stop offset=".0954" stop-color="#4a4489"/><stop offset=".1181" stop-color="#464f8e"/><stop offset=".1582" stop-color="#318094"/><stop offset=".1804" stop-color="#28a08f"/><stop offset=".1904" stop-color="#31af87"/><stop offset=".2076" stop-color="#5dc570"/><stop offset=".2292" stop-color="#a5d748"/><stop offset=".2442" stop-color="#cedc3a"/><stop offset=".2558" stop-color="#e5df41"/><stop offset=".2677" stop-color="#f0e14a"/><stop offset="1" stop-color="#f0e14a"/></linearGradient>
<linearGradient id="k393" href="#h392" y2="294"/>
<linearGradient id="k394" href="#h392" y2="292.6"/>
<linearGradient id="k395" href="#h392" y2="291.1"/>
<linearGradient id="k396" href="#h392" y2="289.6"/>
<linearGradient id="k397" href="#h392" y2="288.2"/>
<linearGradient id="k398" href="#h392" y2="286.7"/>
<linearGradient id="k399" href="#h392" y2="285.2"/>
<linearGradient id="k400" href="#h392" y2="283.6"/>
<linearGradient id="k401" href="#h392" y2="282.1"/>
<linearGradient id="k402" href="#h392" y2="280.6"/>
<linearGradient id="k403" href="#h392" y2="279"/>
<linearGradient id="k404" href="#h392" y2="277.4"/>
<linearGradient id="k405" href="#h392" y2="275.9"/>
<linearGradient id="k406" href="#h392" y2="274.3"/>
<linearGradient id="k407" href="#h392" y2="272.7"/>
<linearGradient id="k408" href="#h392" y2="271"/>
<linearGradient id="k409" href="#h392" y2="269.4"/>
<linearGradient id="k410" href="#h392" y2="267.8"/>
<linearGradient id="h411" gradientUnits="userSpaceOnUse" x1="0" x2="0" y1="382.5" y2="0"><stop offset="0" stop-color="#44bb7d"/><stop offset=".0029" stop-color="#2fad89"/><stop offset=".0072" stop-color="#279f90"/><stop offset=".0172" stop-color="#2e8794"/><stop offset=".0358" stop-color="#377294"/><stop offset=".0816" stop-color="#405d92"/><stop offset=".1103" stop-color="#425891"/><stop offset=".1403" stop-color="#3c6693"/><stop offset=".1804" stop-color="#2d8a94"/><stop offset=".2006" stop-color="#28a28f"/><stop offset=".2111" stop-color="#2fad89"/><stop offset=".2255" stop-color="#49bd7b"/><stop offset=".2558" stop-color="#97d44e"/><stop offset=".2717" stop-color="#c0db3d"/><stop offset=".2839" stop-color="#d7de3b"/><stop offset=".3006" stop-color="#ece046"/><stop offset=".3178" stop-color="#f0e14a"/><stop offset="1" stop-color="#f0e14a"/></linearGradient>
<linearGradient id="k412" href="#h411" y2="294"/>
<linearGradient id="k413" href="#h411" y2="292.7"/>
<linearGradient id="k414" href="#h411" y2="291.3"/>
<linearGradient id="k415" href="#h411" y2="289.9"/>
<linearGradient id="k416" href="#h411" y2="288.5"/>
<linearGradient id="k417" href="#h411" y2="287.1"/>
<linearGradient id="k418" href="#h411" y2="285.7"/>
<linearGradient id="k419" href="#h411" y2="284.3"/>
<linearGradient id="k420" href="#h411" y2="282.9"/>
<linearGradient id="k421" href="#h411" y2="281.5"/>
<linearGradient id="k422" href="#h411" y2="280"/>
<linearGradient id="k423" href="#h411" y2="278.5"/>
<linearGradient id="k424" href="#h411" y2="277.1"/>
<linearGradient id="k425" href="#h411" y2="275.6"/>
<linearGradient id="k426" href="#h411" y2="274.1"/>
<linearGradient id="k427" href="#h411" y2="272.6"/>
<linearGradient id="k428" href="#h411" y2="271.1"/>
<linearGradient id="k429" href="#h411" y2="269.5"/>
<linearGradient id="h430" gradientUnits="userSpaceOnUse" x1="0" x2="0" y1="382.5" y2="0"><stop offset="0" stop-color="#4bbe7a"/><stop offset=".0043" stop-color="#33b186"/><stop offset=".0101" stop-color="#28a38e"/><stop offset=".0251" stop-color="#2c8b94"/><stop offset=".0573" stop-color="#357594"/><stop offset=".1154" stop-color="#3c6693"/><stop offset=".1461" stop-color="#3a6b94"/><stop offset=".187" stop-color="#2f8494"/><stop offset=".2219" stop-color="#28a28f"/><stop offset=".2367" stop-color="#32b087"/><stop offset=".2558" stop-color="#50c077"/><stop offset=".2922" stop-color="#a1d64a"/><stop offset=".3134" stop-color="#c9dc3b"/><stop offset=".331" stop-color="#e1df3f"/><stop offset=".349" stop-color="#eee048"/><stop offset="1" stop-color="#f0e14a"/></linearGradient>
<linearGradient id="k431" href="#h430" y2="294"/>
<linearGradient id="k432" href="#h430" y2="292.7"/>
<linearGradient id="k433" href="#h430" y2="291.5"/>
<linearGradient id="k434" href="#h430" y2="290.2"/>
<linearGradient id="k435" href="#h430" y2="288.9"/>
<linearGradient id="k436" href="#h430" y2="287.6"/>
<linearGradient id="k437" href="#h430" y2="286.3"/>
<linearGradient id="k438" href="#h430" y2="284.9"/>
<linearGradient id="k439" href="#h430" y2="283.6"/>
<linearGradient id="k440" href="#h430" y2="282.2"/>
<linearGradient id="k441" href="#h430" y2="280.9"/>
<linearGradient id="k442" href="#h430" y2="279.5"/>
<linearGradient id="k443" href="#h430" y2="278.1"/>
<linearGradient id="k444" href="#h430" y2="276.8"/>
<linearGradient id="k445" href="#h430" y2="275.4"/>
<linearGradient id="k446" href="#h430" y2="274"/>
<linearGradient id="k447" href="#h430" y2="272.5"/>
<linearGradient id="k448" href="#h430" y2="271.1"/>
<linearGradient id="h449" gradientUnits="userSpaceOnUse" x1="0" x2="0" y1="382.5" y2="0"><stop offset="0" stop-color="#4ebf78"/><stop offset=".0054" stop-color="#35b285"/><stop offset=".0125" stop-color="#29a48e"/><stop offset=".0329" stop-color="#2c8b94"/><stop offset=".0751" stop-color="#367494"/><stop offset=".1345" stop-color="#3c6693"/><stop offset=".1804" stop-color="#367494"/><stop offset=".2367" stop-color="#289892"/><stop offset=".2558" stop-color="#2aa88c"/><stop offset=".2757" stop-color="#3db781"/><stop offset=".3048" stop-color="#6fca66"/><stop offset=".3354" stop-color="#aad746"/><stop offset=".3581" stop-color="#cedc3a"/><stop offset=".3816" stop-color="#e7df43"/><stop offset=".4009" stop-color="#f0e14a"/><stop offset="1" stop-color="#f0e14a"/></linearGradient>
<linearGradient id="k450" href="#h449" y2="294"/>
<linearGradient id="k451" href="#h449" y2="292.8"/>
<linearGradient id="k452" href="#h449" y2="291.6"/>
<linearGradient id="k453" href="#h449" y2="290.4"/>
<linearGradient id="k454" href="#h449" y2="289.2"/>
<linearGradient id="k455" href="#h449" y2="287.9"/>
<linearGradient id="k456" href="#h449" y2="286.7"/>
<linearGradient id="k457" href="#h449" y2="285.5"/>
<linearGradient id="k458" href="#h449" y2="284.2"/>
<linearGradient id="h459" gradientUnits="userSpaceOnUse" x1="0" x2="0" y1="382.5" y2="0"><stop offset="0" stop-color="#29a68d"/><stop offset=".0015" stop-color="#2a9193"/><stop offset=".0054" stop-color="#396c94"/><stop offset=".0101" stop-color="#464f8e"/><stop offset=".0162" stop-color="#4c3c85"/><stop offset=".0263" stop-color="#4d317d"/><stop offset=".0343" stop-color="#4d347f"/><stop offset=".0573" stop-color="#425a91"/><stop offset=".093" stop-color="#299493"/><stop offset=".1077" stop-color="#2aa78c"/><stop offset=".1207" stop-color="#3ab582"/><stop offset=".1521" stop-color="#7acd60"/><stop offset=".1771" stop-color="#a3d649"/><stop offset=".1971" stop-color="#bdda3e"/><stop offset=".2292" stop-color="#d7de3b"/><stop offset=".2717" stop-color="#e7df43"/><stop offset=".3581" stop-color="#f0e14a"/><stop offset="1" stop-color="#f0e14a"/></linearGradient>
<linearGradient id="k460" href="#h459" y2="294"/>
<linearGradient id="k461" href="#h459" y2="293.6"/>
<linearGradient id="k462" href="#h459" y2="293.1"/>
<linearGradient id="k463" href="#h459" y2="292.6"/>
<linearGradient id="k464" href="#h459" y2="292.1"/>
<linearGradient id="k465" href="#h459" y2="291.5"/>
<linearGradient id="k466" href="#h459" y2="290.9"/>
<linearGradient id="k467" href="#h459" y2="290.2"/>
<linearGradient id="k468" href="#h459" y2="289.5"/>
<linearGradient id="h469" gradientUnits="userSpaceOnUse" x1="0" x2="0" y1="382.5" y2="0"><stop offset="0" stop-color="#39b583"/><stop offset=".0018" stop-color="#2aa78c"/><stop offset=".0054" stop-color="#2a9293"/><stop offset=".0125" stop-color="#347794"/><stop offset=".0239" stop-color="#3d6493"/><stop offset=".0388" stop-color="#415c92"/><stop offset=".0611" stop-color="#367394"/><stop offset=".0954" stop-color="#279f90"/><stop offset=".1103" stop-color="#31af87"/><stop offset=".1432" stop-color="#6dca67"/><stop offset=".1707" stop-color="#9ed54b"/><stop offset=".2006" stop-color="#c2db3d"/><stop offset=".2329" stop-color="#dade3c"/><stop offset=".2839" stop-color="#e9e045"/><stop offset=".3721" stop-color="#f0e14a"/><stop offset="1" stop-color="#f0e14a"/></linearGradient>
<linearGradient id="k470" href="#h469" y2="294"/>
<linearGradient id="k471" href="#h469" y2="293.6"/>
<linearGradient id="k472" href="#h469" y2="293.1"/>
<linearGradient id="k473" href="#h469" y2="292.6"/>
<linearGradient id="k474" href="#h469" y2="292.1"/>
<linearGradient id="k475" href="#h469" y2="291.5"/>
<linearGradient id="k476" href="#h469" y2="290.9"/>
<linearGradient id="k477" href="#h469" y2="290.2"/>
<linearGradient id="k478" href="#h469" y2="289.5"/>
<linearGradient id="k479" href="#h469" y2="288.7"/>
<linearGradient id="k480" href="#h469" y2="287.9"/>
<linearGradient id="k481" href="#h469" y2="287.1"/>
<linearGradient id="k482" href="#h469" y2="286.2"/>
<linearGradient id="k483" href="#h469" y2="285.3"/>
<linearGradient id="k484" href="#h469" y2="284.3"/>
<linearGradient id="k485" href="#h469" y2="283.3"/>
<linearGradient id="k486" href="#h469" y2="282.3"/>
<linearGradient id="k487" href="#h469" y2="281.2"/>
<linearGradient id="h488" gradientUnits="userSpaceOnUse" x1="0" x2="0" y1="382.5" y2="0"><stop offset="0" stop-color="#3fb880"/><stop offset=".0025" stop-color="#2caa8b"/><stop offset=".0066" stop-color="#289992"/><stop offset=".0162" stop-color="#317f94"/><stop offset=".0302" stop-color="#396d94"/><stop offset=".0484" stop-color="#3c6693"/><stop offset=".073" stop-color="#337b94"/><stop offset=".1052" stop-color="#28a08f"/><stop offset=".1207" stop-color="#32b087"/><stop offset=".1582" stop-color="#73cc64"/><stop offset=".1904" stop-color="#a5d748"/><stop offset=".2147" stop-color="#c0db3d"/><stop offset=".2519" stop-color="#dade3c"/><stop offset=".3048" stop-color="#e9e045"/><stop offset=".4059" stop-color="#f0e14a"/><stop offset="1" stop-color="#f0e14a"/></linearGradient>
<linearGradient id="k489" href="#h488" y2="294"/>
<linearGradient id="k490" href="#h488" y2="293.3"/>
<linearGradient id="k491" href="#h488" y2="292.5"/>
<linearGradient id="k492" href="#h488" y2="291.6"/>
<linearGradient id="k493" href="#h488" y2="290.8"/>
<linearGradient id="k494" href="#h488" y2="289.9"/>
<linearGradient id="k495" href="#h488" y2="288.9"/>
<linearGradient id="k496" href="#h488" y2="287.9"/>
<linearGradient id="k497" href="#h488" y2="286.9"/>
<linearGradient id="k498" href="#h488" y2="285.8"/>
<linearGradient id="k499" href="#h488" y2="284.7"/>
<linearGradient id="k500" href="#h488" y2="283.6"/>
<linearGradient id="k501" href="#h488" y2="282.4"/>
<linearGradient id="k502" href="#h488" y2="281.2"/>
<linearGradient id="k503" href="#h488" y2="279.9"/>
<linearGradient id="k504" href="#h488" y2="278.6"/>
<linearGradient id="k505" href="#h488" y2="277.2"/>
<linearGradient id="k506" href="#h488" y2="275.9"/>
<linearGradient id="h507" gradientUnits="userSpaceOnUse" x1="0" x2="0" y1="382.5" y2="0"><stop offset="0" stop-color="#3fb880"/><stop offset=".0034" stop-color="#2caa8b"/><stop offset=".0086" stop-color="#289992"/><stop offset=".0215" stop-color="#327e94"/><stop offset=".0403" stop-color="#396d94"/><stop offset=".0592" stop-color="#3b6893"/><stop offset=".093" stop-color="#2f8594"/><stop offset=".1207" stop-color="#28a38e"/><stop offset=".1374" stop-color="#35b285"/><stop offset=".1707" stop-color="#69c96a"/><stop offset=".2076" stop-color="#a1d64a"/><stop offset=".2329" stop-color="#bbda3f"/><stop offset=".2597" stop-color="#d0dd3a"/><stop offset=".3048" stop-color="#e3df40"/><stop offset=".3769" stop-color="#eee048"/><stop offset="1" stop-color="#f0e14a"/></linearGradient>
<linearGradient id="k508" href="#h507" y2="294"/>
<linearGradient id="k509" href="#h507" y2="293"/>
<linearGradient id="k510" href="#h507" y2="292"/>
<linearGradient id="k511" href="#h507" y2="290.9"/>
<linearGradient id="k512" href="#h507" y2="289.7"/>
<linearGradient id="k513" href="#h507" y2="288.6"/>
<linearGradient id="k514" href="#h507" y2="287.4"/>
<linearGradient id="k515" href="#h507" y2="286.2"/>
<linearGradient id="k516" href="#h507" y2="284.9"/>
<linearGradient id="k517" href="#h507" y2="283.6"/>
<linearGradient id="k518" href="#h507" y2="282.2"/>
<linearGradient id="k519" href="#h507" y2="280.9"/>
<linearGradient id="k520" href="#h507" y2="279.5"/>
<linearGradient id="k521" href="#h507" y2="278"/>
<linearGradient id="k522" href="#h507" y2="276.5"/>
<linearGradient id="k523" href="#h507" y2="275"/>
<linearGradient id="k524" href="#h507" y2="273.4"/>
<linearGradient id="k525" href="#h507" y2="271.9"/>
<linearGradient id="h526" gradientUnits="userSpaceOnUse" x1="0" x2="0" y1="382.5" y2="0"><stop offset="0" stop-color="#40b87f"/><stop offset=".0038" stop-color="#2dab8a"/><stop offset=".0093" stop-color="#289b91"/><stop offset=".0239" stop-color="#318094"/><stop offset=".0467" stop-color="#396e94"/><stop offset=".0689" stop-color="#3b6993"/><stop offset=".1103" stop-color="#2d8a94"/><stop offset=".1374" stop-color="#28a38e"/><stop offset=".1551" stop-color="#34b186"/><stop offset=".1904" stop-color="#65c76c"/><stop offset=".2367" stop-color="#a3d649"/><stop offset=".2717" stop-color="#c2db3d"/><stop offset=".3221" stop-color="#dcde3d"/><stop offset=".3816" stop-color="#e9e045"/><stop offset=".4938" stop-color="#f0e14a"/><stop offset="1" stop-color="#f0e14a"/></linearGradient>
<linearGradient id="k527" href="#h526" y2="294"/>
<linearGradient id="k528" href="#h526" y2="292.8"/>
<linearGradient id="k529" href="#h526" y2="291.6"/>
<linearGradient id="k530" href="#h526" y2="290.3"/>
<linearGradient id="k531" href="#h526" y2="289"/>
<linearGradient id="k532" href="#h526" y2="287.7"/>
<linearGradient id="k533" href="#h526" y2="286.3"/>
<linearGradient id="k534" href="#h526" y2="284.9"/>
<linearGradient id="k535" href="#h526" y2="283.5"/>
<linearGradient id="k536" href="#h526" y2="282.1"/>
<linearGradient id="k537" href="#h526" y2="280.6"/>
<linearGradient id="k538" href="#h526" y2="279"/>
<linearGradient id="k539" href="#h526" y2="277.5"/>
<linearGradient id="k540" href="#h526" y2="275.9"/>
<linearGradient id="k541" href="#h526" y2="274.3"/>
<linearGradient id="k542" href="#h526" y2="272.6"/>
<linearGradient id="k543" href="#h526" y2="271"/>
<linearGradient id="k544" href="#h526" y2="269.2"/>
<linearGradient id="h545" gradientUnits="userSpaceOnUse" x1="0" x2="0" y1="382.5" y2="0"><stop offset="0" stop-color="#40b87f"/><stop offset=".0038" stop-color="#2fad89"/><stop offset=".0101" stop-color="#279e90"/><stop offset=".0263" stop-color="#308394"/><stop offset=".0501" stop-color="#386f94"/><stop offset=".0773" stop-color="#3b6993"/><stop offset=".1181" stop-color="#2f8494"/><stop offset=".1551" stop-color="#28a28f"/><stop offset=".1739" stop-color="#32b087"/><stop offset=".2183" stop-color="#67c86b"/><stop offset=".2677" stop-color="#a1d64a"/><stop offset=".3048" stop-color="#c0db3d"/><stop offset=".3581" stop-color="#dade3c"/><stop offset=".4308" stop-color="#e9e045"/><stop offset=".5669" stop-color="#f0e14a"/><stop offset="1" stop-color="#f0e14a"/></linearGradient>
<linearGradient id="k546" href="#h545" y2="294"/>
<linearGradient id="k547" href="#h545" y2="292.7"/>
<linearGradient id="k548" href="#h545" y2="291.4"/>
<linearGradient id="k549" href="#h545" y2="290"/>
<linearGradient id="k550" href="#h545" y2="288.6"/>
<linearGradient id="k551" href="#h545" y2="287.2"/>
<linearGradient id="k552" href="#h545" y2="285.7"/>
<linearGradient id="k553" href="#h545" y2="284.2"/>
<linearGradient id="k554" href="#h545" y2="282.7"/>
<linearGradient id="k555" href="#h545" y2="281.2"/>
<linearGradient id="k556" href="#h545" y2="279.6"/>
<linearGradient id="k557" href="#h545" y2="278"/>
<linearGradient id="k558" href="#h545" y2="276.4"/>
<linearGradient id="k559" href="#h545" y2="274.7"/>
<linearGradient id="k560" href="#h545" y2="273"/>
<linearGradient id="k561" href="#h545" y2="271.3"/>
<linearGradient id="k562" href="#h545" y2="269.6"/>
<linearGradient id="k563" href="#h545" y2="267.8"/>
<linearGradient id="h564" gradientUnits="userSpaceOnUse" x1="0" x2="0" y1="382.5" y2="0"><stop offset="0" stop-color="#40b87f"/><stop offset=".0048" stop-color="#2eac8a"/><stop offset=".0125" stop-color="#289b91"/><stop offset=".0329" stop-color="#318094"/><stop offset=".0649" stop-color="#396d94"/><stop offset=".0884" stop-color="#3a6a94"/><stop offset=".1317" stop-color="#308294"/><stop offset=".1739" stop-color="#28a08f"/><stop offset=".1971" stop-color="#32b087"/><stop offset=".2329" stop-color="#55c274"/><stop offset=".288" stop-color="#92d351"/><stop offset=".3354" stop-color="#b9da40"/><stop offset=".3961" stop-color="#d5dd3b"/><stop offset=".4618" stop-color="#e5df41"/><stop offset=".5611" stop-color="#eee048"/><stop offset="1" stop-color="#f0e14a"/></linearGradient>
<linearGradient id="k565" href="#h564" y2="294"/>
<linearGradient id="k566" href="#h564" y2="292.6"/>
<linearGradient id="k567" href="#h564" y2="291.2"/>
<linearGradient id="k568" href="#h564" y2="289.8"/>
<linearGradient id="k569" href="#h564" y2="288.4"/>
<linearGradient id="k570" href="#h564" y2="286.9"/>
<linearGradient id="k571" href="#h564" y2="285.4"/>
<linearGradient id="k572" href="#h564" y2="283.9"/>
<linearGradient id="k573" href="#h564" y2="282.4"/>
<linearGradient id="k574" href="#h564" y2="280.8"/>
<linearGradient id="k575" href="#h564" y2="279.2"/>
<linearGradient id="k576" href="#h564" y2="277.6"/>
<linearGradient id="k577" href="#h564" y2="275.9"/>
<linearGradient id="k578" href="#h564" y2="274.3"/>
<linearGradient id="k579" href="#h564" y2="272.6"/>
<linearGradient id="k580" href="#h564" y2="270.8"/>
<linearGradient id="k581" href="#h564" y2="269.1"/>
<linearGradient id="k582" href="#h564" y2="267.3"/>
<linearGradient id="h583" gradientUnits="userSpaceOnUse" x1="0" x2="0" y1="382.5" y2="0"><stop offset="0" stop-color="#40b87f"/><stop offset=".006" stop-color="#2dab8a"/><stop offset=".0143" stop-color="#289b91"/><stop offset=".0358" stop-color="#308194"/><stop offset=".0649" stop-color="#377094"/><stop offset=".0954" stop-color="#3b6993"/><stop offset=".1403" stop-color="#327d94"/><stop offset=".1971" stop-color="#28a08f"/><stop offset=".2219" stop-color="#30ae88"/><stop offset=".2597" stop-color="#50c077"/><stop offset=".3178" stop-color="#89d156"/><stop offset=".3675" stop-color="#afd844"/><stop offset=".4207" stop-color="#ccdc3b"/><stop offset=".4938" stop-color="#e1df3f"/><stop offset=".5963" stop-color="#ece046"/><stop offset=".7682" stop-color="#f0e14a"/><stop offset="1" stop-color="#f0e14a"/></linearGradient>
<linearGradient id="k584" href="#h583" y2="294"/>
<linearGradient id="k585" href="#h583" y2="292.6"/>
<linearGradient id="k586" href="#h583" y2="291.2"/>
<linearGradient id="k587" href="#h583" y2="289.8"/>
<linearGradient id="k588" href="#h583" y2="288.3"/>
<linearGradient id="k589" href="#h583" y2="286.9"/>
<linearGradient id="k590" href="#h583" y2="285.4"/>
<linearGradient id="k591" href="#h583" y2="283.8"/>
<linearGradient id="k592" href="#h583" y2="282.3"/>
<linearGradient id="k593" href="#h583" y2="280.7"/>
<linearGradient id="k594" href="#h583" y2="279.2"/>
<linearGradient id="k595" href="#h583" y2="277.6"/>
<linearGradient id="k596" href="#h583" y2="275.9"/>
<linearGradient id="k597" href="#h583" y2="274.3"/>
<linearGradient id="k598" href="#h583" y2="272.6"/>
<linearGradient id="k599" href="#h583" y2="270.9"/>
<linearGradient id="k600" href="#h583" y2="269.2"/>
<linearGradient id="k601" href="#h583" y2="267.5"/>
<linearGradient id="h602" gradientUnits="userSpaceOnUse" x1="0" x2="0" y1="382.5" y2="0"><stop offset="0" stop-color="#40b87f"/><stop offset=".0066" stop-color="#2dab8a"/><stop offset=".0162" stop-color="#289b91"/><stop offset=".0403" stop-color="#318094"/><stop offset=".0839" stop-color="#396d94"/><stop offset=".1103" stop-color="#3a6a94"/><stop offset=".1739" stop-color="#2e8694"/><stop offset=".2255" stop-color="#28a28f"/><stop offset=".2597" stop-color="#35b285"/><stop offset=".3444" stop-color="#7cce5e"/><stop offset=".4009" stop-color="#a5d748"/><stop offset=".467" stop-color="#c7db3b"/><stop offset=".5325" stop-color="#dade3c"/><stop offset=".6265" stop-color="#e7df43"/><stop offset=".748" stop-color="#eee048"/><stop offset="1" stop-color="#f0e14a"/></linearGradient>
<linearGradient id="k603" href="#h602" y2="294"/>
<linearGradient id="k604" href="#h602" y2="292.6"/>
<linearGradient id="k605" href="#h602" y2="291.2"/>
<linearGradient id="k606" href="#h602" y2="289.8"/>
<linearGradient id="k607" href="#h602" y2="288.4"/>
<linearGradient id="k608" href="#h602" y2="286.9"/>
<linearGradient id="k609" href="#h602" y2="285.5"/>
<linearGradient id="k610" href="#h602" y2="284"/>
<linearGradient id="k611" href="#h602" y2="282.5"/>
<linearGradient id="h612" gradientUnits="userSpaceOnUse" x1="0" x2="0" y1="495.5" y2="0"><stop offset="0" stop-color="#2a9193"/><stop offset=".0005" stop-color="#28a38e"/><stop offset=".0012" stop-color="#3ab582"/><stop offset=".0025" stop-color="#82d05b"/><stop offset=".0034" stop-color="#b1d943"/><stop offset=".0038" stop-color="#c9dc3b"/><stop offset=".0043" stop-color="#e1df3f"/><stop offset=".0048" stop-color="#f0e14a"/><stop offset=".0816" stop-color="#f0e14a"/><stop offset=".0839" stop-color="#e9e045"/><stop offset=".0861" stop-color="#d3dd3a"/><stop offset=".0884" stop-color="#bbda3f"/><stop offset=".0954" stop-color="#6fca66"/><stop offset=".1002" stop-color="#44bb7d"/><stop offset=".1052" stop-color="#2ba88c"/><stop offset=".1103" stop-color="#299592"/><stop offset=".1262" stop-color="#415b91"/><stop offset=".1374" stop-color="#4d3580"/><stop offset=".1491" stop-color="#4b1967"/><stop offset=".1582" stop-color="#491462"/><stop offset="1" stop-color="#491462"/></linearGradient>
<linearGradient id="k613" href="#h612" y2="407"/>
<linearGradient id="k614" href="#h612" y2="405.1"/>
<linearGradient id="k615" href="#h612" y2="403.2"/>
<linearGradient id="k616" href="#h612" y2="401.2"/>
<linearGradient id="k617" href="#h612" y2="399.3"/>
<linearGradient id="k618" href="#h612" y2="397.2"/>
<linearGradient id="k619" href="#h612" y2="395.2"/>
<linearGradient id="k620" href="#h612" y2="393.1"/>
<linearGradient id="k621" href="#h612" y2="391"/>
<linearGradient id="h622" gradientUnits="userSpaceOnUse" x1="0" x2="0" y1="495.5" y2="0"><stop offset="0" stop-color="#2c8c94"/><stop offset=".0015" stop-color="#28a48e"/><stop offset=".0025" stop-color="#35b285"/><stop offset=".0043" stop-color="#5fc56f"/><stop offset=".0066" stop-color="#9ed54b"/><stop offset=".0086" stop-color="#cedc3a"/><stop offset=".0093" stop-color="#dcde3d"/><stop offset=".0101" stop-color="#ece046"/><stop offset=".0117" stop-color="#f0e14a"/><stop offset=".0773" stop-color="#f0e14a"/><stop offset=".0794" stop-color="#e9e045"/><stop offset=".0816" stop-color="#d5dd3b"/><stop offset=".0839" stop-color="#c0db3d"/><stop offset=".0907" stop-color="#7cce5e"/><stop offset=".0978" stop-color="#41b97f"/><stop offset=".1002" stop-color="#33b186"/><stop offset=".1027" stop-color="#2aa88c"/><stop offset=".1077" stop-color="#299692"/><stop offset=".1234" stop-color="#3f5f92"/><stop offset=".1345" stop-color="#4c3b84"/><stop offset=".1461" stop-color="#4b1d6b"/><stop offset=".1551" stop-color="#491462"/><stop offset="1" stop-color="#491462"/></linearGradient>
<linearGradient id="k623" href="#h622" y2="407"/>
<linearGradient id="k624" href="#h622" y2="405.1"/>
<linearGradient id="k625" href="#h622" y2="403.2"/>
<linearGradient id="k626" href="#h622" y2="401.2"/>
<linearGradient id="k627" href="#h622" y2="399.3"/>
<linearGradient id="k628" href="#h622" y2="397.2"/>
<linearGradient id="k629" href="#h622" y2="395.2"/>
<linearGradient id="k630" href="#h622" y2="393.1"/>
<linearGradient id="k631" href="#h622" y2="391"/>
<linearGradient id="k632" href="#h622" y2="388.9"/>
<linearGradient id="k633" href="#h622" y2="386.7"/>
<linearGradient id="k634" href="#h622" y2="384.5"/>
<linearGradient id="k635" href="#h622" y2="382.3"/>
<linearGradient id="k636" href="#h622" y2="380"/>
<linearGradient id="k637" href="#h622" y2="377.8"/>
<linearGradient id="k638" href="#h622" y2="375.4"/>
<linearGradient id="k639" href="#h622" y2="373.1"/>
<linearGradient id="k640" href="#h622" y2="370.7"/>
<linearGradient id="h641" gradientUnits="userSpaceOnUse" x1="0" x2="0" y1="495.5" y2="0"><stop offset="0" stop-color="#2e8694"/><stop offset=".0029" stop-color="#28a38e"/><stop offset=".0048" stop-color="#35b285"/><stop offset=".0079" stop-color="#5fc56f"/><stop offset=".0125" stop-color="#a5d748"/><stop offset=".0153" stop-color="#c9dc3b"/><stop offset=".0172" stop-color="#dede3e"/><stop offset=".0193" stop-color="#f0e14a"/><stop offset=".0884" stop-color="#f0e14a"/><stop offset=".0907" stop-color="#e1df3f"/><stop offset=".093" stop-color="#d0dd3a"/><stop offset=".0978" stop-color="#afd844"/><stop offset=".1077" stop-color="#67c86b"/><stop offset=".1128" stop-color="#48bc7b"/><stop offset=".1181" stop-color="#30ae88"/><stop offset=".1234" stop-color="#279f90"/><stop offset=".1403" stop-color="#377194"/><stop offset=".1551" stop-color="#49498c"/><stop offset=".1707" stop-color="#4d2673"/><stop offset=".1837" stop-color="#4a1564"/><stop offset="1" stop-color="#491462"/></linearGradient>
<linearGradient id="k642" href="#h641" y2="407"/>
<linearGradient id="k643" href="#h641" y2="405.2"/>
<linearGradient id="k644" href="#h641" y2="403.4"/>
<linearGradient id="k645" href="#h641" y2="401.6"/>
<linearGradient id="k646" href="#h641" y2="399.7"/>
<linearGradient id="k647" href="#h641" y2="397.8"/>
<linearGradient id="k648" href="#h641" y2="395.9"/>
<linearGradient id="k649" href="#h641" y2="393.9"/>
<linearGradient id="k650" href="#h641" y2="391.9"/>
<linearGradient id="k651" href="#h641" y2="390"/>
<linearGradient id="k652" href="#h641" y2="387.9"/>
<linearGradient id="k653" href="#h641" y2="385.9"/>
<linearGradient id="k654" href="#h641" y2="383.8"/>
<linearGradient id="k655" href="#h641" y2="381.7"/>
<linearGradient id="k656" href="#h641" y2="379.6"/>
<linearGradient id="k657" href="#h641" y2="377.5"/>
<linearGradient id="k658" href="#h641" y2="375.3"/>
<linearGradient id="k659" href="#h641" y2="373.1"/>
<linearGradient id="h660" gradientUnits="userSpaceOnUse" x1="0" x2="0" y1="495.5" y2="0"><stop offset="0" stop-color="#308194"/><stop offset=".0043" stop-color="#279f90"/><stop offset=".0072" stop-color="#31af87"/><stop offset=".0117" stop-color="#57c373"/><stop offset=".0193" stop-color="#a1d64a"/><stop offset=".0239" stop-color="#c7db3b"/><stop offset=".0276" stop-color="#dede3e"/><stop offset=".0315" stop-color="#f0e14a"/><stop offset=".0954" stop-color="#f0e14a"/><stop offset=".1002" stop-color="#dede3e"/><stop offset=".1052" stop-color="#c5db3c"/><stop offset=".1154" stop-color="#8ed254"/><stop offset=".1289" stop-color="#49bd7b"/><stop offset=".1345" stop-color="#34b186"/><stop offset=".1403" stop-color="#29a58d"/><stop offset=".1521" stop-color="#2c8b94"/><stop offset=".1771" stop-color="#445590"/><stop offset=".1937" stop-color="#4d347f"/><stop offset=".2111" stop-color="#4b1a69"/><stop offset=".2255" stop-color="#491462"/><stop offset="1" stop-color="#491462"/></linearGradient>
<linearGradient id="k661" href="#h660" y2="407"/>
<linearGradient id="k662" href="#h660" y2="405.3"/>
<linearGradient id="k663" href="#h660" y2="403.6"/>
<linearGradient id="k664" href="#h660" y2="401.9"/>
<linearGradient id="k665" href="#h660" y2="400.1"/>
<linearGradient id="k666" href="#h660" y2="398.3"/>
<linearGradient id="k667" href="#h660" y2="396.5"/>
<linearGradient id="k668" href="#h660" y2="394.7"/>
<linearGradient id="k669" href="#h660" y2="392.9"/>
<linearGradient id="k670" href="#h660" y2="391"/>
<linearGradient id="k671" href="#h660" y2="389.2"/>
<linearGradient id="k672" href="#h660" y2="387.2"/>
<linearGradient id="k673" href="#h660" y2="385.3"/>
<linearGradient id="k674" href="#h660" y2="383.4"/>
<linearGradient id="k675" href="#h660" y2="381.4"/>
<linearGradient id="k676" href="#h660" y2="379.4"/>
<linearGradient id="k677" href="#h660" y2="377.4"/>
<linearGradient id="k678" href="#h660" y2="375.4"/>
<linearGradient id="h679" gradientUnits="userSpaceOnUse" x1="0" x2="0" y1="495.5" y2="0"><stop offset="0" stop-color="#327c94"/><stop offset=".0072" stop-color="#28a08f"/><stop offset=".0109" stop-color="#31af87"/><stop offset=".0183" stop-color="#5fc56f"/><stop offset=".0289" stop-color="#a3d649"/><stop offset=".0373" stop-color="#ccdc3b"/><stop offset=".0435" stop-color="#e3df40"/><stop offset=".0484" stop-color="#f0e14a"/><stop offset=".1002" stop-color="#eee048"/><stop offset=".1077" stop-color="#d7de3b"/><stop offset=".1154" stop-color="#bdda3e"/><stop offset=".1289" stop-color="#87d158"/><stop offset=".1461" stop-color="#46bb7c"/><stop offset=".1551" stop-color="#2fad89"/><stop offset=".1644" stop-color="#279e90"/><stop offset=".1937" stop-color="#3a6b94"/><stop offset=".2183" stop-color="#4b4188"/><stop offset=".2481" stop-color="#4b1a69"/><stop offset=".2637" stop-color="#491462"/><stop offset="1" stop-color="#491462"/></linearGradient>
<linearGradient id="k680" href="#h679" y2="407"/>
<linearGradient id="k681" href="#h679" y2="405.4"/>
<linearGradient id="k682" href="#h679" y2="403.8"/>
<linearGradient id="k683" href="#h679" y2="402.2"/>
<linearGradient id="k684" href="#h679" y2="400.5"/>
<linearGradient id="k685" href="#h679" y2="398.9"/>
<linearGradient id="k686" href="#h679" y2="397.2"/>
<linearGradient id="k687" href="#h679" y2="395.5"/>
<linearGradient id="k688" href="#h679" y2="393.8"/>
<linearGradient id="k689" href="#h679" y2="392.1"/>
<linearGradient id="k690" href="#h679" y2="390.3"/>
<linearGradient id="k691" href="#h679" y2="388.5"/>
<linearGradient id="k692" href="#h679" y2="386.7"/>
<linearGradient id="k693" href="#h679" y2="384.9"/>
<linearGradient id="k694" href="#h679" y2="383.1"/>
<linearGradient id="k695" href="#h679" y2="381.3"/>
<linearGradient id="k696" href="#h679" y2="379.4"/>
<linearGradient id="k697" href="#h679" y2="377.6"/>
<linearGradient id="h698" gradientUnits="userSpaceOnUse" x1="0" x2="0" y1="495.5" y2="0"><stop offset="0" stop-color="#347794"/><stop offset=".0101" stop-color="#279f90"/><stop offset=".0153" stop-color="#30ae88"/><stop offset=".0263" stop-color="#61c66e"/><stop offset=".0388" stop-color="#97d44e"/><stop offset=".0519" stop-color="#c2db3d"/><stop offset=".0649" stop-color="#dcde3d"/><stop offset=".0773" stop-color="#e9e045"/><stop offset=".0907" stop-color="#e9e045"/><stop offset=".1027" stop-color="#dede3e"/><stop offset=".1154" stop-color="#c7db3b"/><stop offset=".1374" stop-color="#8ed254"/><stop offset=".1612" stop-color="#48bc7b"/><stop offset=".1771" stop-color="#2ba88c"/><stop offset=".1904" stop-color="#299692"/><stop offset=".2329" stop-color="#415c92"/><stop offset=".2597" stop-color="#4c3982"/><stop offset=".288" stop-color="#4b1c6a"/><stop offset=".3091" stop-color="#491462"/><stop offset="1" stop-color="#491462"/></linearGradient>
<linearGradient id="k699" href="#h698" y2="407"/>
<linearGradient id="k700" href="#h698" y2="405.5"/>
<linearGradient id="k701" href="#h698" y2="404"/>
<linearGradient id="k702" href="#h698" y2="402.5"/>
<linearGradient id="k703" href="#h698" y2="400.9"/>
<linearGradient id="k704" href="#h698" y2="399.4"/>
<linearGradient id="k705" href="#h698" y2="397.8"/>
<linearGradient id="k706" href="#h698" y2="396.2"/>
<linearGradient id="k707" href="#h698" y2="394.6"/>
<linearGradient id="k708" href="#h698" y2="393"/>
<linearGradient id="k709" href="#h698" y2="391.4"/>
<linearGradient id="k710" href="#h698" y2="389.7"/>
<linearGradient id="k711" href="#h698" y2="388.1"/>
<linearGradient id="k712" href="#h698" y2="386.4"/>
<linearGradient id="k713" href="#h698" y2="384.7"/>
<linearGradient id="k714" href="#h698" y2="383"/>
<linearGradient id="k715" href="#h698" y2="381.3"/>
<linearGradient id="k716" href="#h698" y2="379.5"/>
<linearGradient id="h717" gradientUnits="userSpaceOnUse" x1="0" x2="0" y1="495.5" y2="0"><stop offset="0" stop-color="#377294"/><stop offset=".0134" stop-color="#279d90"/><stop offset=".0204" stop-color="#2fad89"/><stop offset=".0373" stop-color="#63c76d"/><stop offset=".0519" stop-color="#8ed254"/><stop offset=".0669" stop-color="#afd844"/><stop offset=".0816" stop-color="#c2db3d"/><stop offset=".0978" stop-color="#c7db3b"/><stop offset=".1128" stop-color="#bdda3e"/><stop offset=".1317" stop-color="#a1d64a"/><stop offset=".1521" stop-color="#7acd60"/><stop offset=".1804" stop-color="#3fb880"/><stop offset=".1971" stop-color="#2aa78c"/><stop offset=".2147" stop-color="#299493"/><stop offset=".2677" stop-color="#425991"/><stop offset=".3048" stop-color="#4d327d"/><stop offset=".3399" stop-color="#4a1866"/><stop offset=".3769" stop-color="#491462"/><stop offset="1" stop-color="#491462"/></linearGradient>
<linearGradient id="k718" href="#h717" y2="407"/>
<linearGradient id="k719" href="#h717" y2="405.6"/>
<linearGradient id="k720" href="#h717" y2="404.2"/>
<linearGradient id="k721" href="#h717" y2="402.7"/>
<linearGradient id="k722" href="#h717" y2="401.3"/>
<linearGradient id="k723" href="#h717" y2="399.8"/>
<linearGradient id="k724" href="#h717" y2="398.4"/>
<linearGradient id="k725" href="#h717" y2="396.9"/>
<linearGradient id="k726" href="#h717" y2="395.4"/>
<linearGradient id="k727" href="#h717" y2="393.9"/>
<linearGradient id="k728" href="#h717" y2="392.3"/>
<linearGradient id="k729" href="#h717" y2="390.8"/>
<linearGradient id="k730" href="#h717" y2="389.2"/>
<linearGradient id="k731" href="#h717" y2="387.7"/>
<linearGradient id="k732" href="#h717" y2="386.1"/>
<linearGradient id="k733" href="#h717" y2="384.5"/>
<linearGradient id="k734" href="#h717" y2="382.9"/>
<linearGradient id="k735" href="#h717" y2="381.3"/>
<linearGradient id="h736" gradientUnits="userSpaceOnUse" x1="0" x2="0" y1="495.5" y2="0"><stop offset="0" stop-color="#396e94"/><stop offset=".0153" stop-color="#299692"/><stop offset=".0251" stop-color="#2ba88c"/><stop offset=".0403" stop-color="#49bd7b"/><stop offset=".0592" stop-color="#73cc64"/><stop offset=".0794" stop-color="#92d351"/><stop offset=".0954" stop-color="#a1d64a"/><stop offset=".1181" stop-color="#9ed54b"/><stop offset=".1374" stop-color="#8ed254"/><stop offset=".1675" stop-color="#65c76c"/><stop offset=".1971" stop-color="#39b583"/><stop offset=".2147" stop-color="#2aa78c"/><stop offset=".2367" stop-color="#299493"/><stop offset=".3006" stop-color="#425a91"/><stop offset=".3444" stop-color="#4d347f"/><stop offset=".3864" stop-color="#4b1967"/><stop offset=".4108" stop-color="#491462"/><stop offset="1" stop-color="#491462"/></linearGradient>
<linearGradient id="k737" href="#h736" y2="407"/>
<linearGradient id="k738" href="#h736" y2="405.7"/>
<linearGradient id="k739" href="#h736" y2="404.3"/>
<linearGradient id="k740" href="#h736" y2="403"/>
<linearGradient id="k741" href="#h736" y2="401.6"/>
<linearGradient id="k742" href="#h736" y2="400.3"/>
<linearGradient id="k743" href="#h736" y2="398.9"/>
<linearGradient id="k744" href="#h736" y2="397.5"/>
<linearGradient id="k745" href="#h736" y2="396.1"/>
<linearGradient id="k746" href="#h736" y2="394.6"/>
<linearGradient id="k747" href="#h736" y2="393.2"/>
<linearGradient id="k748" href="#h736" y2="391.8"/>
<linearGradient id="k749" href="#h736" y2="390.3"/>
<linearGradient id="k750" href="#h736" y2="388.9"/>
<linearGradient id="k751" href="#h736" y2="387.4"/>
<linearGradient id="k752" href="#h736" y2="385.9"/>
<linearGradient id="k753" href="#h736" y2="384.4"/>
<linearGradient id="k754" href="#h736" y2="382.9"/>
<linearGradient id="h755" gradientUnits="userSpaceOnUse" x1="0" x2="0" y1="495.5" y2="0"><stop offset="0" stop-color="#3b6893"/><stop offset=".0153" stop-color="#2c8c94"/><stop offset=".0302" stop-color="#29a48e"/><stop offset=".0519" stop-color="#44bb7d"/><stop offset=".0773" stop-color="#69c96a"/><stop offset=".0978" stop-color="#7cce5e"/><stop offset=".1207" stop-color="#80cf5c"/><stop offset=".1491" stop-color="#71cb65"/><stop offset=".1937" stop-color="#46bb7c"/><stop offset=".2219" stop-color="#2dab8a"/><stop offset=".2481" stop-color="#289a91"/><stop offset=".3265" stop-color="#3f6192"/><stop offset=".3769" stop-color="#4c3c85"/><stop offset=".4308" stop-color="#4b1c6a"/><stop offset=".467" stop-color="#491462"/><stop offset="1" stop-color="#491462"/></linearGradient>
<linearGradient id="k756" href="#h755" y2="407"/>
<linearGradient id="k757" href="#h755" y2="405.8"/>
<linearGradient id="k758" href="#h755" y2="404.5"/>
<linearGradient id="k759" href="#h755" y2="403.2"/>
<linearGradient id="k760" href="#h755" y2="401.9"/>
<linearGradient id="k761" href="#h755" y2="400.6"/>
<linearGradient id="k762" href="#h755" y2="399.3"/>
<linearGradient id="k763" href="#h755" y2="398"/>
<linearGradient id="k764" href="#h755" y2="396.7"/>
<linearGradient id="h765" gradientUnits="userSpaceOnUse" x1="0" x2="0" y1="495.5" y2="0"><stop offset="0" stop-color="#396d94"/><stop offset=".0029" stop-color="#2a9293"/><stop offset=".0048" stop-color="#29a48e"/><stop offset=".0072" stop-color="#3ab582"/><stop offset=".0117" stop-color="#69c96a"/><stop offset=".0153" stop-color="#87d158"/><stop offset=".0215" stop-color="#a5d748"/><stop offset=".0302" stop-color="#b9da40"/><stop offset=".0403" stop-color="#bdda3e"/><stop offset=".0501" stop-color="#b6d941"/><stop offset=".063" stop-color="#99d54d"/><stop offset=".0839" stop-color="#54c175"/><stop offset=".0954" stop-color="#33b186"/><stop offset=".1052" stop-color="#28a18f"/><stop offset=".1317" stop-color="#357594"/><stop offset=".1644" stop-color="#49478b"/><stop offset=".1971" stop-color="#4d2976"/><stop offset=".2367" stop-color="#4a1866"/><stop offset=".331" stop-color="#491462"/><stop offset="1" stop-color="#491462"/></linearGradient>
<linearGradient id="k766" href="#h765" y2="407"/>
<linearGradient id="k767" href="#h765" y2="406.1"/>
<linearGradient id="k768" href="#h765" y2="405.3"/>
<linearGradient id="k769" href="#h765" y2="404.4"/>
<linearGradient id="k770" href="#h765" y2="403.5"/>
<linearGradient id="k771" href="#h765" y2="402.6"/>
<linearGradient id="k772" href="#h765" y2="401.8"/>
<linearGradient id="k773" href="#h765" y2="400.9"/>
<linearGradient id="k774" href="#h765" y2="400"/>
<linearGradient id="h775" gradientUnits="userSpaceOnUse" x1="0" x2="0" y1="495.5" y2="0"><stop offset="0" stop-color="#3d6493"/><stop offset=".0043" stop-color="#2f8594"/><stop offset=".0093" stop-color="#28a08f"/><stop offset=".0143" stop-color="#34b186"/><stop offset=".0239" stop-color="#57c373"/><stop offset=".0343" stop-color="#6dca67"/><stop offset=".0435" stop-color="#75cc62"/><stop offset=".0537" stop-color="#71cb65"/><stop offset=".063" stop-color="#63c76d"/><stop offset=".0861" stop-color="#34b186"/><stop offset=".0954" stop-color="#29a58d"/><stop offset=".1103" stop-color="#2b8f93"/><stop offset=".1551" stop-color="#445490"/><stop offset=".187" stop-color="#4d347f"/><stop offset=".2292" stop-color="#4c1e6c"/><stop offset=".2839" stop-color="#4a1665"/><stop offset="1" stop-color="#491462"/></linearGradient>
<linearGradient id="k776" href="#h775" y2="407"/>
<linearGradient id="k777" href="#h775" y2="406.1"/>
<linearGradient id="k778" href="#h775" y2="405.3"/>
<linearGradient id="k779" href="#h775" y2="404.4"/>
<linearGradient id="k780" href="#h775" y2="403.5"/>
<linearGradient id="k781" href="#h775" y2="402.6"/>
<linearGradient id="k782" href="#h775" y2="401.8"/>
<linearGradient id="k783" href="#h775" y2="400.9"/>
<linearGradient id="k784" href="#h775" y2="400"/>
<linearGradient id="k785" href="#h775" y2="399.2"/>
<linearGradient id="k786" href="#h775" y2="398.3"/>
<linearGradient id="k787" href="#h775" y2="397.4"/>
<linearGradient id="k788" href="#h775" y2="396.5"/>
<linearGradient id="k789" href="#h775" y2="395.7"/>
<linearGradient id="k790" href="#h775" y2="394.8"/>
<linearGradient id="k791" href="#h775" y2="393.9"/>
<linearGradient id="k792" href="#h775" y2="393"/>
<linearGradient id="k793" href="#h775" y2="392.2"/>
<linearGradient id="h794" gradientUnits="userSpaceOnUse" x1="0" x2="0" y1="495.5" y2="0"><stop offset="0" stop-color="#3e6293"/><stop offset=".0066" stop-color="#2f8594"/><stop offset=".0143" stop-color="#28a08f"/><stop offset=".0227" stop-color="#35b285"/><stop offset=".0358" stop-color="#52c176"/><stop offset=".0501" stop-color="#63c76d"/><stop offset=".0592" stop-color="#63c76d"/><stop offset=".0773" stop-color="#4dbe79"/><stop offset=".0978" stop-color="#2dab8a"/><stop offset=".1128" stop-color="#289a91"/><stop offset=".1582" stop-color="#3d6593"/><stop offset=".2041" stop-color="#4c3a83"/><stop offset=".2481" stop-color="#4c2471"/><stop offset=".3134" stop-color="#4a1866"/><stop offset="1" stop-color="#491462"/></linearGradient>
<linearGradient id="k795" href="#h794" y2="407"/>
<linearGradient id="k796" href="#h794" y2="406.2"/>
<linearGradient id="k797" href="#h794" y2="405.4"/>
<linearGradient id="k798" href="#h794" y2="404.6"/>
<linearGradient id="k799" href="#h794" y2="403.8"/>
<linearGradient id="k800" href="#h794" y2="403"/>
<linearGradient id="k801" href="#h794" y2="402.2"/>
<linearGradient id="k802" href="#h794" y2="401.4"/>
<linearGradient id="k803" href="#h794" y2="400.6"/>
<linearGradient id="k804" href="#h794" y2="399.8"/>
<linearGradient id="k805" href="#h794" y2="399"/>
<linearGradient id="k806" href="#h794" y2="398.2"/>
<linearGradient id="k807" href="#h794" y2="397.4"/>
<linearGradient id="k808" href="#h794" y2="396.6"/>
<linearGradient id="k809" href="#h794" y2="395.8"/>
<linearGradient id="k810" href="#h794" y2="395"/>
<linearGradient id="k811" href="#h794" y2="394.2"/>
<linearGradient id="k812" href="#h794" y2="393.4"/>
<linearGradient id="h813" gradientUnits="userSpaceOnUse" x1="0" x2="0" y1="495.5" y2="0"><stop offset="0" stop-color="#3d6493"/><stop offset=".0079" stop-color="#2e8794"/><stop offset=".0172" stop-color="#28a28f"/><stop offset=".0276" stop-color="#39b583"/><stop offset=".0435" stop-color="#5bc471"/><stop offset=".0592" stop-color="#6dca67"/><stop offset=".073" stop-color="#65c76c"/><stop offset=".0861" stop-color="#54c175"/><stop offset=".1077" stop-color="#31af87"/><stop offset=".1207" stop-color="#28a18f"/><stop offset=".1612" stop-color="#357594"/><stop offset=".2147" stop-color="#49468a"/><stop offset=".2637" stop-color="#4d2b78"/><stop offset=".3221" stop-color="#4b1d6b"/><stop offset=".4618" stop-color="#4a1665"/><stop offset="1" stop-color="#491462"/></linearGradient>
<linearGradient id="k814" href="#h813" y2="407"/>
<linearGradient id="k815" href="#h813" y2="406.3"/>
<linearGradient id="k816" href="#h813" y2="405.5"/>
<linearGradient id="k817" href="#h813" y2="404.8"/>
<linearGradient id="k818" href="#h813" y2="404"/>
<linearGradient id="k819" href="#h813" y2="403.3"/>
<linearGradient id="k820" href="#h813" y2="402.6"/>
<linearGradient id="k821" href="#h813" y2="401.8"/>
<linearGradient id="k822" href="#h813" y2="401.1"/>
<linearGradient id="k823" href="#h813" y2="400.3"/>
<linearGradient id="k824" href="#h813" y2="399.6"/>
<linearGradient id="k825" href="#h813" y2="398.9"/>
<linearGradient id="k826" href="#h813" y2="398.1"/>
<linearGradient id="k827" href="#h813" y2="397.4"/>
<linearGradient id="k828" href="#h813" y2="396.6"/>
<linearGradient id="k829" href="#h813" y2="395.9"/>
<linearGradient id="k830" href="#h813" y2="395.1"/>
<linearGradient id="k831" href="#h813" y2="394.4"/>
<linearGradient id="h832" gradientUnits="userSpaceOnUse" x1="0" x2="0" y1="495.5" y2="0"><stop offset="0" stop-color="#3b6993"/><stop offset=".0101" stop-color="#2a9093"/><stop offset=".0183" stop-color="#29a68d"/><stop offset=".0302" stop-color="#44bb7d"/><stop offset=".0451" stop-color="#6bc968"/><stop offset=".0611" stop-color="#85d059"/><stop offset=".0689" stop-color="#89d156"/><stop offset=".0773" stop-color="#85d059"/><stop offset=".093" stop-color="#6fca66"/><stop offset=".1207" stop-color="#39b583"/><stop offset=".1345" stop-color="#2aa78c"/><stop offset=".1521" stop-color="#299493"/><stop offset=".2183" stop-color="#425891"/><stop offset=".2677" stop-color="#4c3a83"/><stop offset=".3221" stop-color="#4d2673"/><stop offset=".4207" stop-color="#4b1a69"/><stop offset=".977" stop-color="#491462"/><stop offset="1" stop-color="#491462"/></linearGradient>
<linearGradient id="k833" href="#h832" y2="407"/>
<linearGradient id="k834" href="#h832" y2="406.3"/>
<linearGradient id="k835" href="#h832" y2="405.6"/>
<linearGradient id="k836" href="#h832" y2="404.9"/>
<linearGradient id="k837" href="#h832" y2="404.3"/>
<linearGradient id="k838" href="#h832" y2="403.6"/>
<linearGradient id="k839" href="#h832" y2="402.9"/>
<linearGradient id="k840" href="#h832" y2="402.2"/>
<linearGradient id="k841" href="#h832" y2="401.5"/>
<linearGradient id="k842" href="#h832" y2="400.8"/>
<linearGradient id="k843" href="#h832" y2="400.1"/>
<linearGradient id="k844" href="#h832" y2="399.4"/>
<linearGradient id="k845" href="#h832" y2="398.7"/>
<linearGradient id="k846" href="#h832" y2="398"/>
<linearGradient id="k847" href="#h832" y2="397.4"/>
<linearGradient id="k848" href="#h832" y2="396.7"/>
<linearGradient id="k849" href="#h832" y2="396"/>
<linearGradient id="k850" href="#h832" y2="395.3"/>
<linearGradient id="h851" gradientUnits="userSpaceOnUse" x1="0" x2="0" y1="495.5" y2="0"><stop offset="0" stop-color="#396e94"/><stop offset=".0109" stop-color="#299493"/><stop offset=".0183" stop-color="#2aa78c"/><stop offset=".0289" stop-color="#44bb7d"/><stop offset=".0467" stop-color="#77cd61"/><stop offset=".0592" stop-color="#92d351"/><stop offset=".073" stop-color="#a5d748"/><stop offset=".0861" stop-color="#9ed54b"/><stop offset=".1027" stop-color="#82d05b"/><stop offset=".1345" stop-color="#40b87f"/><stop offset=".1491" stop-color="#2caa8b"/><stop offset=".1644" stop-color="#289b91"/><stop offset=".2255" stop-color="#3c6693"/><stop offset=".288" stop-color="#4b4087"/><stop offset=".3535" stop-color="#4d2b78"/><stop offset=".4462" stop-color="#4b1d6b"/><stop offset=".715" stop-color="#4a1665"/><stop offset="1" stop-color="#491462"/></linearGradient>
<linearGradient id="k852" href="#h851" y2="407"/>
<linearGradient id="k853" href="#h851" y2="406.4"/>
<linearGradient id="k854" href="#h851" y2="405.7"/>
<linearGradient id="k855" href="#h851" y2="405.1"/>
<linearGradient id="k856" href="#h851" y2="404.4"/>
<linearGradient id="k857" href="#h851" y2="403.8"/>
<linearGradient id="k858" href="#h851" y2="403.1"/>
<linearGradient id="k859" href="#h851" y2="402.5"/>
<linearGradient id="k860" href="#h851" y2="401.9"/>
<linearGradient id="k861" href="#h851" y2="401.2"/>
<linearGradient id="k862" href="#h851" y2="400.6"/>
<linearGradient id="k863" href="#h851" y2="399.9"/>
<linearGradient id="k864" href="#h851" y2="399.3"/>
<linearGradient id="k865" href="#h851" y2="398.6"/>
<linearGradient id="k866" href="#h851" y2="398"/>
<linearGradient id="k867" href="#h851" y2="397.3"/>
<linearGradient id="k868" href="#h851" y2="396.7"/>
<linearGradient id="k869" href="#h851" y2="396.1"/>
<linearGradient id="h870" gradientUnits="userSpaceOnUse" x1="0" x2="0" y1="495.5" y2="0"><stop offset="0" stop-color="#386f94"/><stop offset=".0134" stop-color="#289892"/><stop offset=".0215" stop-color="#2ca98b"/><stop offset=".0343" stop-color="#4bbe7a"/><stop offset=".0537" stop-color="#7ecf5d"/><stop offset=".073" stop-color="#a1d64a"/><stop offset=".0816" stop-color="#a8d747"/><stop offset=".0907" stop-color="#a3d649"/><stop offset=".1128" stop-color="#7ecf5d"/><stop offset=".1432" stop-color="#41b97f"/><stop offset=".1612" stop-color="#2ca98b"/><stop offset=".1804" stop-color="#289992"/><stop offset=".2519" stop-color="#3d6493"/><stop offset=".3265" stop-color="#4b3e86"/><stop offset=".4308" stop-color="#4c2572"/><stop offset=".5727" stop-color="#4b1a69"/><stop offset="1" stop-color="#4a1564"/></linearGradient>
<linearGradient id="k871" href="#h870" y2="407"/>
<linearGradient id="k872" href="#h870" y2="406.4"/>
<linearGradient id="k873" href="#h870" y2="405.8"/>
<linearGradient id="k874" href="#h870" y2="405.2"/>
<linearGradient id="k875" href="#h870" y2="404.6"/>
<linearGradient id="k876" href="#h870" y2="404"/>
<linearGradient id="k877" href="#h870" y2="403.4"/>
<linearGradient id="k878" href="#h870" y2="402.8"/>
<linearGradient id="k879" href="#h870" y2="402.2"/>
<linearGradient id="k880" href="#h870" y2="401.6"/>
<linearGradient id="k881" href="#h870" y2="401"/>
<linearGradient id="k882" href="#h870" y2="400.4"/>
<linearGradient id="k883" href="#h870" y2="399.8"/>
<linearGradient id="k884" href="#h870" y2="399.2"/>
<linearGradient id="k885" href="#h870" y2="398.5"/>
<linearGradient id="k886" href="#h870" y2="397.9"/>
<linearGradient id="k887" href="#h870" y2="397.3"/>
<linearGradient id="k888" href="#h870" y2="396.7"/>
<linearGradient id="h889" gradientUnits="userSpaceOnUse" x1="0" x2="0" y1="495.5" y2="0"><stop offset="0" stop-color="#386f94"/><stop offset=".0153" stop-color="#289892"/><stop offset=".0239" stop-color="#2ba88c"/><stop offset=".0358" stop-color="#43ba7e"/><stop offset=".0592" stop-color="#7acd60"/><stop offset=".0773" stop-color="#99d54d"/><stop offset=".0884" stop-color="#a3d649"/><stop offset=".1052" stop-color="#92d351"/><stop offset=".1491" stop-color="#44bb7d"/><stop offset=".1675" stop-color="#2eac8a"/><stop offset=".187" stop-color="#279c91"/><stop offset=".2637" stop-color="#3b6993"/><stop offset=".349" stop-color="#4a4389"/><stop offset=".467" stop-color="#4d2774"/><stop offset=".645" stop-color="#4b1a69"/><stop offset="1" stop-color="#4a1564"/></linearGradient>
<linearGradient id="k890" href="#h889" y2="407"/>
<linearGradient id="k891" href="#h889" y2="406.4"/>
<linearGradient id="k892" href="#h889" y2="405.9"/>
<linearGradient id="k893" href="#h889" y2="405.3"/>
<linearGradient id="k894" href="#h889" y2="404.7"/>
<linearGradient id="k895" href="#h889" y2="404.2"/>
<linearGradient id="k896" href="#h889" y2="403.6"/>
<linearGradient id="k897" href="#h889" y2="403"/>
<linearGradient id="k898" href="#h889" y2="402.5"/>
<linearGradient id="k899" href="#h889" y2="401.9"/>
<linearGradient id="k900" href="#h889" y2="401.3"/>
<linearGradient id="k901" href="#h889" y2="400.7"/>
<linearGradient id="k902" href="#h889" y2="400.2"/>
<linearGradient id="k903" href="#h889" y2="399.6"/>
<linearGradient id="k904" href="#h889" y2="399"/>
<linearGradient id="k905" href="#h889" y2="398.5"/>
<linearGradient id="k906" href="#h889" y2="397.9"/>
<linearGradient id="k907" href="#h889" y2="397.3"/>
<linearGradient id="h908" gradientUnits="userSpaceOnUse" x1="0" x2="0" y1="495.5" y2="0"><stop offset="0" stop-color="#386f94"/><stop offset=".0193" stop-color="#279c91"/><stop offset=".0289" stop-color="#2eac8a"/><stop offset=".0501" stop-color="#59c372"/><stop offset=".071" stop-color="#82d05b"/><stop offset=".093" stop-color="#a1d64a"/><stop offset=".1103" stop-color="#90d352"/><stop offset=".1521" stop-color="#49bd7b"/><stop offset=".1707" stop-color="#32b087"/><stop offset=".1904" stop-color="#28a18f"/><stop offset=".2597" stop-color="#357694"/><stop offset=".349" stop-color="#474e8e"/><stop offset=".4513" stop-color="#4d337e"/><stop offset=".5903" stop-color="#4c216f"/><stop offset=".8163" stop-color="#4a1866"/><stop offset="1" stop-color="#4a1564"/></linearGradient>
<linearGradient id="k909" href="#h908" y2="407"/>
<linearGradient id="k910" href="#h908" y2="406.5"/>
<linearGradient id="k911" href="#h908" y2="405.9"/>
<linearGradient id="k912" href="#h908" y2="405.4"/>
<linearGradient id="k913" href="#h908" y2="404.9"/>
<linearGradient id="k914" href="#h908" y2="404.3"/>
<linearGradient id="k915" href="#h908" y2="403.8"/>
<linearGradient id="k916" href="#h908" y2="403.2"/>
<linearGradient id="k917" href="#h908" y2="402.7"/></defs>
<g shape-rendering="crispEdges"><path d="M607 182.75h3.5v86.75h-3.5z" fill="url(#k1)"/>
<path d="M610 182.75h3.5v86.75h-3.5z" fill="url(#k2)"/>
<path d="M613 182.75h3.5v86.75h-3.5z" fill="url(#k3)"/>
<path d="M616 182.75h3.5v86.75h-3.5z" fill="url(#k4)"/>
<path d="M619 182.75h3.5v86.75h-3.5z" fill="url(#k5)"/>
<path d="M622 182.75h3.5v86.75h-3.5z" fill="url(#k6)"/>
<path d="M625 182.75h3.5v86.75h-3.5z" fill="url(#k7)"/>
<path d="M628 182.75h3.5v86.75h-3.5z" fill="url(#k8)"/>
<path d="M631 182.75h3.5v86.75h-3.5z" fill="url(#k9)"/>
<path d="M634 182.75h3.5v86.75h-3.5z" fill="url(#k30)"/>
<path d="M637 182.75h3.5v86.75h-3.5z" fill="url(#k31)"/>
<path d="M640 182.75h3.5v86.75h-3.5z" fill="url(#k32)"/>
<path d="M643 182.75h3.5v86.75h-3.5z" fill="url(#k33)"/>
<path d="M646 182.75h3.5v86.75h-3.5z" fill="url(#k34)"/>
<path d="M649 182.75h3.5v86.75h-3.5z" fill="url(#k35)"/>
<path d="M652 182.75h3.5v86.75h-3.5z" fill="url(#k36)"/>
<path d="M655 182.75h3.5v86.75h-3.5z" fill="url(#k37)"/>
<path d="M658 182.75h3.5v86.75h-3.5z" fill="url(#k38)"/>
<path d="M661 182.75h3.5v86.75h-3.5z" fill="url(#k39)"/>
<path d="M664 182.75h3.5v86.75h-3.5z" fill="url(#k40)"/>
<path d="M667 182.75h3.5v86.75h-3.5z" fill="url(#k41)"/>
<path d="M670 182.75h3.5v86.75h-3.5z" fill="url(#k42)"/>
<path d="M673 182.75h3.5v86.75h-3.5z" fill="url(#k43)"/>
<path d="M676 182.75h3.5v86.75h-3.5z" fill="url(#k44)"/>
<path d="M679 182.75h3.5v86.75h-3.5z" fill="url(#k45)"/>
<path d="M682 182.75h3.5v86.75h-3.5z" fill="url(#k46)"/>
<path d="M685 182.75h3.5v86.75h-3.5z" fill="url(#k47)"/>
<path d="M688 182.75h3.5v86.75h-3.5z" fill="url(#k68)"/>
<path d="M691 182.75h3.5v86.75h-3.5z" fill="url(#k69)"/>
<path d="M694 182.75h3.5v86.75h-3.5z" fill="url(#k70)"/>
<path d="M697 182.75h3.5v86.75h-3.5z" fill="url(#k71)"/>
<path d="M700 182.75h3.5v86.75h-3.5z" fill="url(#k72)"/>
<path d="M703 182.75h3.5v86.75h-3.5z" fill="url(#k73)"/>
<path d="M706 182.75h3.5v86.75h-3.5z" fill="url(#k74)"/>
<path d="M709 182.75h3.5v86.75h-3.5z" fill="url(#k75)"/>
<path d="M712 182.75h3.5v86.75h-3.5z" fill="url(#k76)"/>
<path d="M715 182.75h3.5v86.75h-3.5z" fill="url(#k77)"/>
<path d="M718 182.75h3.5v86.75h-3.5z" fill="url(#k78)"/>
<path d="M721 182.75h3.5v86.75h-3.5z" fill="url(#k79)"/>
<path d="M724 182.75h3.5v86.75h-3.5z" fill="url(#k80)"/>
<path d="M727 182.75h3.5v86.75h-3.5z" fill="url(#k81)"/>
<path d="M730 182.75h3.5v86.75h-3.5z" fill="url(#k82)"/>
<path d="M733 182.75h3.5v86.75h-3.5z" fill="url(#k83)"/>
<path d="M736 182.75h3.5v86.75h-3.5z" fill="url(#k84)"/>
<path d="M739 182.75h3.5v86.75h-3.5z" fill="url(#k85)"/>
<path d="M742 182.75h3.5v86.75h-3.5z" fill="url(#k106)"/>
<path d="M745 182.75h3.5v86.75h-3.5z" fill="url(#k107)"/>
<path d="M748 182.75h3.5v86.75h-3.5z" fill="url(#k108)"/>
<path d="M751 182.75h3.5v86.75h-3.5z" fill="url(#k109)"/>
<path d="M754 182.75h3.5v86.75h-3.5z" fill="url(#k110)"/>
<path d="M757 182.75h3.5v86.75h-3.5z" fill="url(#k111)"/>
<path d="M760 182.75h3.5v86.75h-3.5z" fill="url(#k112)"/>
<path d="M763 182.75h3.5v86.75h-3.5z" fill="url(#k113)"/>
<path d="M766 182.75h3.5v86.75h-3.5z" fill="url(#k114)"/>
<path d="M769 182.75h3.5v86.75h-3.5z" fill="url(#k115)"/>
<path d="M772 182.75h3.5v86.75h-3.5z" fill="url(#k116)"/>
<path d="M775 182.75h3.5v86.75h-3.5z" fill="url(#k117)"/>
<path d="M778 182.75h3.5v86.75h-3.5z" fill="url(#k118)"/>
<path d="M781 182.75h3.5v86.75h-3.5z" fill="url(#k119)"/>
<path d="M784 182.75h3.5v86.75h-3.5z" fill="url(#k120)"/>
<path d="M787 182.75h3.5v86.75h-3.5z" fill="url(#k121)"/>
<path d="M790 182.75h3.5v86.75h-3.5z" fill="url(#k122)"/>
<path d="M793 182.75h3.5v86.75h-3.5z" fill="url(#k123)"/>
<path d="M796 182.75h3.5v86.75h-3.5z" fill="url(#k144)"/>
<path d="M799 182.75h3.5v86.75h-3.5z" fill="url(#k145)"/>
<path d="M802 182.75h3.5v86.75h-3.5z" fill="url(#k146)"/>
<path d="M805 182.75h3.5v86.75h-3.5z" fill="url(#k147)"/>
<path d="M808 182.75h3.5v86.75h-3.5z" fill="url(#k148)"/>
<path d="M811 182.75h3.5v86.75h-3.5z" fill="url(#k149)"/>
<path d="M814 182.75h3.5v86.75h-3.5z" fill="url(#k150)"/>
<path d="M817 182.75h3.5v86.75h-3.5z" fill="url(#k151)"/>
<path d="M820 182.75h3v86.75h-3z" fill="url(#k152)"/>
<path d="M866 182.75h3.5v86.75h-3.5z" fill="url(#k154)"/>
<path d="M869 182.75h3.5v86.75h-3.5z" fill="url(#k155)"/>
<path d="M872 182.75h3.5v86.75h-3.5z" fill="url(#k156)"/>
<path d="M875 182.75h3.5v86.75h-3.5z" fill="url(#k157)"/>
<path d="M878 182.75h3.5v86.75h-3.5z" fill="url(#k158)"/>
<path d="M881 182.75h3.5v86.75h-3.5z" fill="url(#k159)"/>
<path d="M884 182.75h3.5v86.75h-3.5z" fill="url(#k160)"/>
<path d="M887 182.75h3.5v86.75h-3.5z" fill="url(#k161)"/>
<path d="M890 182.75h3.5v86.75h-3.5z" fill="url(#k162)"/>
<path d="M893 182.75h3.5v86.75h-3.5z" fill="url(#k183)"/>
<path d="M896 182.75h3.5v86.75h-3.5z" fill="url(#k184)"/>
<path d="M899 182.75h3.5v86.75h-3.5z" fill="url(#k185)"/>
<path d="M902 182.75h3.5v86.75h-3.5z" fill="url(#k186)"/>
<path d="M905 182.75h3.5v86.75h-3.5z" fill="url(#k187)"/>
<path d="M908 182.75h3.5v86.75h-3.5z" fill="url(#k188)"/>
<path d="M911 182.75h3.5v86.75h-3.5z" fill="url(#k189)"/>
<path d="M914 182.75h3.5v86.75h-3.5z" fill="url(#k190)"/>
<path d="M917 182.75h3.5v86.75h-3.5z" fill="url(#k191)"/>
<path d="M920 182.75h3.5v86.75h-3.5z" fill="url(#k192)"/>
<path d="M923 182.75h3.5v86.75h-3.5z" fill="url(#k193)"/>
<path d="M926 182.75h3.5v86.75h-3.5z" fill="url(#k194)"/>
<path d="M929 182.75h3.5v86.75h-3.5z" fill="url(#k195)"/>
<path d="M932 182.75h3.5v86.75h-3.5z" fill="url(#k196)"/>
<path d="M935 182.75h3.5v86.75h-3.5z" fill="url(#k197)"/>
<path d="M938 182.75h3.5v86.75h-3.5z" fill="url(#k198)"/>
<path d="M941 182.75h3.5v86.75h-3.5z" fill="url(#k199)"/>
<path d="M944 182.75h3.5v86.75h-3.5z" fill="url(#k200)"/>
<path d="M947 182.75h3.5v86.75h-3.5z" fill="url(#k221)"/>
<path d="M950 182.75h3.5v86.75h-3.5z" fill="url(#k222)"/>
<path d="M953 182.75h3.5v86.75h-3.5z" fill="url(#k223)"/>
<path d="M956 182.75h3.5v86.75h-3.5z" fill="url(#k224)"/>
<path d="M959 182.75h3.5v86.75h-3.5z" fill="url(#k225)"/>
<path d="M962 182.75h3.5v86.75h-3.5z" fill="url(#k226)"/>
<path d="M965 182.75h3.5v86.75h-3.5z" fill="url(#k227)"/>
<path d="M968 182.75h3.5v86.75h-3.5z" fill="url(#k228)"/>
<path d="M971 182.75h3.5v86.75h-3.5z" fill="url(#k229)"/>
<path d="M974 182.75h3.5v86.75h-3.5z" fill="url(#k230)"/>
<path d="M977 182.75h3.5v86.75h-3.5z" fill="url(#k231)"/>
<path d="M980 182.75h3.5v86.75h-3.5z" fill="url(#k232)"/>
<path d="M983 182.75h3.5v86.75h-3.5z" fill="url(#k233)"/>
<path d="M986 182.75h3.5v86.75h-3.5z" fill="url(#k234)"/>
<path d="M989 182.75h3.5v86.75h-3.5z" fill="url(#k235)"/>
<path d="M992 182.75h3.5v86.75h-3.5z" fill="url(#k236)"/>
<path d="M995 182.75h3.5v86.75h-3.5z" fill="url(#k237)"/>
<path d="M998 182.75h3.5v86.75h-3.5z" fill="url(#k238)"/>
<path d="M1001 182.75h3.5v86.75h-3.5z" fill="url(#k259)"/>
<path d="M1004 182.75h3.5v86.75h-3.5z" fill="url(#k260)"/>
<path d="M1007 182.75h3.5v86.75h-3.5z" fill="url(#k261)"/>
<path d="M1010 182.75h3.5v86.75h-3.5z" fill="url(#k262)"/>
<path d="M1013 182.75h3.5v86.75h-3.5z" fill="url(#k263)"/>
<path d="M1016 182.75h3.5v86.75h-3.5z" fill="url(#k264)"/>
<path d="M1019 182.75h3.5v86.75h-3.5z" fill="url(#k265)"/>
<path d="M1022 182.75h3.5v86.75h-3.5z" fill="url(#k266)"/>
<path d="M1025 182.75h3.5v86.75h-3.5z" fill="url(#k267)"/>
<path d="M1028 182.75h3.5v86.75h-3.5z" fill="url(#k268)"/>
<path d="M1031 182.75h3.5v86.75h-3.5z" fill="url(#k269)"/>
<path d="M1034 182.75h3.5v86.75h-3.5z" fill="url(#k270)"/>
<path d="M1037 182.75h3.5v86.75h-3.5z" fill="url(#k271)"/>
<path d="M1040 182.75h3.5v86.75h-3.5z" fill="url(#k272)"/>
<path d="M1043 182.75h3.5v86.75h-3.5z" fill="url(#k273)"/>
<path d="M1046 182.75h3.5v86.75h-3.5z" fill="url(#k274)"/>
<path d="M1049 182.75h3.5v86.75h-3.5z" fill="url(#k275)"/>
<path d="M1052 182.75h3.5v86.75h-3.5z" fill="url(#k276)"/>
<path d="M1055 182.75h3.5v86.75h-3.5z" fill="url(#k297)"/>
<path d="M1058 182.75h3.5v86.75h-3.5z" fill="url(#k298)"/>
<path d="M1061 182.75h3.5v86.75h-3.5z" fill="url(#k299)"/>
<path d="M1064 182.75h3.5v86.75h-3.5z" fill="url(#k300)"/>
<path d="M1067 182.75h3.5v86.75h-3.5z" fill="url(#k301)"/>
<path d="M1070 182.75h3.5v86.75h-3.5z" fill="url(#k302)"/>
<path d="M1073 182.75h3.5v86.75h-3.5z" fill="url(#k303)"/>
<path d="M1076 182.75h3.5v86.75h-3.5z" fill="url(#k304)"/>
<path d="M1079 182.75h3v86.75h-3z" fill="url(#k305)"/>
<path d="M607 295.75h3.5v86.75h-3.5z" fill="url(#k307)"/>
<path d="M610 295.75h3.5v86.75h-3.5z" fill="url(#k308)"/>
<path d="M613 295.75h3.5v86.75h-3.5z" fill="url(#k309)"/>
<path d="M616 295.75h3.5v86.75h-3.5z" fill="url(#k310)"/>
<path d="M619 295.75h3.5v86.75h-3.5z" fill="url(#k311)"/>
<path d="M622 295.75h3.5v86.75h-3.5z" fill="url(#k312)"/>
<path d="M625 295.75h3.5v86.75h-3.5z" fill="url(#k313)"/>
<path d="M628 295.75h3.5v86.75h-3.5z" fill="url(#k314)"/>
<path d="M631 295.75h3.5v86.75h-3.5z" fill="url(#k315)"/>
<path d="M634 295.75h3.5v86.75h-3.5z" fill="url(#k336)"/>
<path d="M637 295.75h3.5v86.75h-3.5z" fill="url(#k337)"/>
<path d="M640 295.75h3.5v86.75h-3.5z" fill="url(#k338)"/>
<path d="M643 295.75h3.5v86.75h-3.5z" fill="url(#k339)"/>
<path d="M646 295.75h3.5v86.75h-3.5z" fill="url(#k340)"/>
<path d="M649 295.75h3.5v86.75h-3.5z" fill="url(#k341)"/>
<path d="M652 295.75h3.5v86.75h-3.5z" fill="url(#k342)"/>
<path d="M655 295.75h3.5v86.75h-3.5z" fill="url(#k343)"/>
<path d="M658 295.75h3.5v86.75h-3.5z" fill="url(#k344)"/>
<path d="M661 295.75h3.5v86.75h-3.5z" fill="url(#k345)"/>
<path d="M664 295.75h3.5v86.75h-3.5z" fill="url(#k346)"/>
<path d="M667 295.75h3.5v86.75h-3.5z" fill="url(#k347)"/>
<path d="M670 295.75h3.5v86.75h-3.5z" fill="url(#k348)"/>
<path d="M673 295.75h3.5v86.75h-3.5z" fill="url(#k349)"/>
<path d="M676 295.75h3.5v86.75h-3.5z" fill="url(#k350)"/>
<path d="M679 295.75h3.5v86.75h-3.5z" fill="url(#k351)"/>
<path d="M682 295.75h3.5v86.75h-3.5z" fill="url(#k352)"/>
<path d="M685 295.75h3.5v86.75h-3.5z" fill="url(#k353)"/>
<path d="M688 295.75h3.5v86.75h-3.5z" fill="url(#k374)"/>
<path d="M691 295.75h3.5v86.75h-3.5z" fill="url(#k375)"/>
<path d="M694 295.75h3.5v86.75h-3.5z" fill="url(#k376)"/>
<path d="M697 295.75h3.5v86.75h-3.5z" fill="url(#k377)"/>
<path d="M700 295.75h3.5v86.75h-3.5z" fill="url(#k378)"/>
<path d="M703 295.75h3.5v86.75h-3.5z" fill="url(#k379)"/>
<path d="M706 295.75h3.5v86.75h-3.5z" fill="url(#k380)"/>
<path d="M709 295.75h3.5v86.75h-3.5z" fill="url(#k381)"/>
<path d="M712 295.75h3.5v86.75h-3.5z" fill="url(#k382)"/>
<path d="M715 295.75h3.5v86.75h-3.5z" fill="url(#k383)"/>
<path d="M718 295.75h3.5v86.75h-3.5z" fill="url(#k384)"/>
<path d="M721 295.75h3.5v86.75h-3.5z" fill="url(#k385)"/>
<path d="M724 295.75h3.5v86.75h-3.5z" fill="url(#k386)"/>
<path d="M727 295.75h3.5v86.75h-3.5z" fill="url(#k387)"/>
<path d="M730 295.75h3.5v86.75h-3.5z" fill="url(#k388)"/>
<path d="M733 295.75h3.5v86.75h-3.5z" fill="url(#k389)"/>
<path d="M736 295.75h3.5v86.75h-3.5z" fill="url(#k390)"/>
<path d="M739 295.75h3.5v86.75h-3.5z" fill="url(#k391)"/>
<path d="M742 295.75h3.5v86.75h-3.5z" fill="url(#k412)"/>
<path d="M745 295.75h3.5v86.75h-3.5z" fill="url(#k413)"/>
<path d="M748 295.75h3.5v86.75h-3.5z" fill="url(#k414)"/>
<path d="M751 295.75h3.5v86.75h-3.5z" fill="url(#k415)"/>
<path d="M754 295.75h3.5v86.75h-3.5z" fill="url(#k416)"/>
<path d="M757 295.75h3.5v86.75h-3.5z" fill="url(#k417)"/>
<path d="M760 295.75h3.5v86.75h-3.5z" fill="url(#k418)"/>
<path d="M763 295.75h3.5v86.75h-3.5z" fill="url(#k419)"/>
<path d="M766 295.75h3.5v86.75h-3.5z" fill="url(#k420)"/>
<path d="M769 295.75h3.5v86.75h-3.5z" fill="url(#k421)"/>
<path d="M772 295.75h3.5v86.75h-3.5z" fill="url(#k422)"/>
<path d="M775 295.75h3.5v86.75h-3.5z" fill="url(#k423)"/>
<path d="M778 295.75h3.5v86.75h-3.5z" fill="url(#k424)"/>
<path d="M781 295.75h3.5v86.75h-3.5z" fill="url(#k425)"/>
<path d="M784 295.75h3.5v86.75h-3.5z" fill="url(#k426)"/>
<path d="M787 295.75h3.5v86.75h-3.5z" fill="url(#k427)"/>
<path d="M790 295.75h3.5v86.75h-3.5z" fill="url(#k428)"/>
<path d="M793 295.75h3.5v86.75h-3.5z" fill="url(#k429)"/>
<path d="M796 295.75h3.5v86.75h-3.5z" fill="url(#k450)"/>
<path d="M799 295.75h3.5v86.75h-3.5z" fill="url(#k451)"/>
<path d="M802 295.75h3.5v86.75h-3.5z" fill="url(#k452)"/>
<path d="M805 295.75h3.5v86.75h-3.5z" fill="url(#k453)"/>
<path d="M808 295.75h3.5v86.75h-3.5z" fill="url(#k454)"/>
<path d="M811 295.75h3.5v86.75h-3.5z" fill="url(#k455)"/>
<path d="M814 295.75h3.5v86.75h-3.5z" fill="url(#k456)"/>
<path d="M817 295.75h3.5v86.75h-3.5z" fill="url(#k457)"/>
<path d="M820 295.75h3v86.75h-3z" fill="url(#k458)"/>
<path d="M866 295.75h3.5v86.75h-3.5z" fill="url(#k460)"/>
<path d="M869 295.75h3.5v86.75h-3.5z" fill="url(#k461)"/>
<path d="M872 295.75h3.5v86.75h-3.5z" fill="url(#k462)"/>
<path d="M875 295.75h3.5v86.75h-3.5z" fill="url(#k463)"/>
<path d="M878 295.75h3.5v86.75h-3.5z" fill="url(#k464)"/>
<path d="M881 295.75h3.5v86.75h-3.5z" fill="url(#k465)"/>
<path d="M884 295.75h3.5v86.75h-3.5z" fill="url(#k466)"/>
<path d="M887 295.75h3.5v86.75h-3.5z" fill="url(#k467)"/>
<path d="M890 295.75h3.5v86.75h-3.5z" fill="url(#k468)"/>
<path d="M893 295.75h3.5v86.75h-3.5z" fill="url(#k489)"/>
<path d="M896 295.75h3.5v86.75h-3.5z" fill="url(#k490)"/>
<path d="M899 295.75h3.5v86.75h-3.5z" fill="url(#k491)"/>
<path d="M902 295.75h3.5v86.75h-3.5z" fill="url(#k492)"/>
<path d="M905 295.75h3.5v86.75h-3.5z" fill="url(#k493)"/>
<path d="M908 295.75h3.5v86.75h-3.5z" fill="url(#k494)"/>
<path d="M911 295.75h3.5v86.75h-3.5z" fill="url(#k495)"/>
<path d="M914 295.75h3.5v86.75h-3.5z" fill="url(#k496)"/>
<path d="M917 295.75h3.5v86.75h-3.5z" fill="url(#k497)"/>
<path d="M920 295.75h3.5v86.75h-3.5z" fill="url(#k498)"/>
<path d="M923 295.75h3.5v86.75h-3.5z" fill="url(#k499)"/>
<path d="M926 295.75h3.5v86.75h-3.5z" fill="url(#k500)"/>
<path d="M929 295.75h3.5v86.75h-3.5z" fill="url(#k501)"/>
<path d="M932 295.75h3.5v86.75h-3.5z" fill="url(#k502)"/>
<path d="M935 295.75h3.5v86.75h-3.5z" fill="url(#k503)"/>
<path d="M938 295.75h3.5v86.75h-3.5z" fill="url(#k504)"/>
<path d="M941 295.75h3.5v86.75h-3.5z" fill="url(#k505)"/>
<path d="M944 295.75h3.5v86.75h-3.5z" fill="url(#k506)"/>
<path d="M947 295.75h3.5v86.75h-3.5z" fill="url(#k527)"/>
<path d="M950 295.75h3.5v86.75h-3.5z" fill="url(#k528)"/>
<path d="M953 295.75h3.5v86.75h-3.5z" fill="url(#k529)"/>
<path d="M956 295.75h3.5v86.75h-3.5z" fill="url(#k530)"/>
<path d="M959 295.75h3.5v86.75h-3.5z" fill="url(#k531)"/>
<path d="M962 295.75h3.5v86.75h-3.5z" fill="url(#k532)"/>
<path d="M965 295.75h3.5v86.75h-3.5z" fill="url(#k533)"/>
<path d="M968 295.75h3.5v86.75h-3.5z" fill="url(#k534)"/>
<path d="M971 295.75h3.5v86.75h-3.5z" fill="url(#k535)"/>
<path d="M974 295.75h3.5v86.75h-3.5z" fill="url(#k536)"/>
<path d="M977 295.75h3.5v86.75h-3.5z" fill="url(#k537)"/>
<path d="M980 295.75h3.5v86.75h-3.5z" fill="url(#k538)"/>
<path d="M983 295.75h3.5v86.75h-3.5z" fill="url(#k539)"/>
<path d="M986 295.75h3.5v86.75h-3.5z" fill="url(#k540)"/>
<path d="M989 295.75h3.5v86.75h-3.5z" fill="url(#k541)"/>
<path d="M992 295.75h3.5v86.75h-3.5z" fill="url(#k542)"/>
<path d="M995 295.75h3.5v86.75h-3.5z" fill="url(#k543)"/>
<path d="M998 295.75h3.5v86.75h-3.5z" fill="url(#k544)"/>
<path d="M1001 295.75h3.5v86.75h-3.5z" fill="url(#k565)"/>
<path d="M1004 295.75h3.5v86.75h-3.5z" fill="url(#k566)"/>
<path d="M1007 295.75h3.5v86.75h-3.5z" fill="url(#k567)"/>
<path d="M1010 295.75h3.5v86.75h-3.5z" fill="url(#k568)"/>
<path d="M1013 295.75h3.5v86.75h-3.5z" fill="url(#k569)"/>
<path d="M1016 295.75h3.5v86.75h-3.5z" fill="url(#k570)"/>
<path d="M1019 295.75h3.5v86.75h-3.5z" fill="url(#k571)"/>
<path d="M1022 295.75h3.5v86.75h-3.5z" fill="url(#k572)"/>
<path d="M1025 295.75h3.5v86.75h-3.5z" fill="url(#k573)"/>
<path d="M1028 295.75h3.5v86.75h-3.5z" fill="url(#k574)"/>
<path d="M1031 295.75h3.5v86.75h-3.5z" fill="url(#k575)"/>
<path d="M1034 295.75h3.5v86.75h-3.5z" fill="url(#k576)"/>
<path d="M1037 295.75h3.5v86.75h-3.5z" fill="url(#k577)"/>
<path d="M1040 295.75h3.5v86.75h-3.5z" fill="url(#k578)"/>
<path d="M1043 295.75h3.5v86.75h-3.5z" fill="url(#k579)"/>
<path d="M1046 295.75h3.5v86.75h-3.5z" fill="url(#k580)"/>
<path d="M1049 295.75h3.5v86.75h-3.5z" fill="url(#k581)"/>
<path d="M1052 295.75h3.5v86.75h-3.5z" fill="url(#k582)"/>
<path d="M1055 295.75h3.5v86.75h-3.5z" fill="url(#k603)"/>
<path d="M1058 295.75h3.5v86.75h-3.5z" fill="url(#k604)"/>
<path d="M1061 295.75h3.5v86.75h-3.5z" fill="url(#k605)"/>
<path d="M1064 295.75h3.5v86.75h-3.5z" fill="url(#k606)"/>
<path d="M1067 295.75h3.5v86.75h-3.5z" fill="url(#k607)"/>
<path d="M1070 295.75h3.5v86.75h-3.5z" fill="url(#k608)"/>
<path d="M1073 295.75h3.5v86.75h-3.5z" fill="url(#k609)"/>
<path d="M1076 295.75h3.5v86.75h-3.5z" fill="url(#k610)"/>
<path d="M1079 295.75h3v86.75h-3z" fill="url(#k611)"/>
<path d="M607 408.75h3.5v86.75h-3.5z" fill="url(#k613)"/>
<path d="M610 408.75h3.5v86.75h-3.5z" fill="url(#k614)"/>
<path d="M613 408.75h3.5v86.75h-3.5z" fill="url(#k615)"/>
<path d="M616 408.75h3.5v86.75h-3.5z" fill="url(#k616)"/>
<path d="M619 408.75h3.5v86.75h-3.5z" fill="url(#k617)"/>
<path d="M622 408.75h3.5v86.75h-3.5z" fill="url(#k618)"/>
<path d="M625 408.75h3.5v86.75h-3.5z" fill="url(#k619)"/>
<path d="M628 408.75h3.5v86.75h-3.5z" fill="url(#k620)"/>
<path d="M631 408.75h3.5v86.75h-3.5z" fill="url(#k621)"/>
<path d="M634 408.75h3.5v86.75h-3.5z" fill="url(#k642)"/>
<path d="M637 408.75h3.5v86.75h-3.5z" fill="url(#k643)"/>
<path d="M640 408.75h3.5v86.75h-3.5z" fill="url(#k644)"/>
<path d="M643 408.75h3.5v86.75h-3.5z" fill="url(#k645)"/>
<path d="M646 408.75h3.5v86.75h-3.5z" fill="url(#k646)"/>
<path d="M649 408.75h3.5v86.75h-3.5z" fill="url(#k647)"/>
<path d="M652 408.75h3.5v86.75h-3.5z" fill="url(#k648)"/>
<path d="M655 408.75h3.5v86.75h-3.5z" fill="url(#k649)"/>
<path d="M658 408.75h3.5v86.75h-3.5z" fill="url(#k650)"/>
<path d="M661 408.75h3.5v86.75h-3.5z" fill="url(#k651)"/>
<path d="M664 408.75h3.5v86.75h-3.5z" fill="url(#k652)"/>
<path d="M667 408.75h3.5v86.75h-3.5z" fill="url(#k653)"/>
<path d="M670 408.75h3.5v86.75h-3.5z" fill="url(#k654)"/>
<path d="M673 408.75h3.5v86.75h-3.5z" fill="url(#k655)"/>
<path d="M676 408.75h3.5v86.75h-3.5z" fill="url(#k656)"/>
<path d="M679 408.75h3.5v86.75h-3.5z" fill="url(#k657)"/>
<path d="M682 408.75h3.5v86.75h-3.5z" fill="url(#k658)"/>
<path d="M685 408.75h3.5v86.75h-3.5z" fill="url(#k659)"/>
<path d="M688 408.75h3.5v86.75h-3.5z" fill="url(#k680)"/>
<path d="M691 408.75h3.5v86.75h-3.5z" fill="url(#k681)"/>
<path d="M694 408.75h3.5v86.75h-3.5z" fill="url(#k682)"/>
<path d="M697 408.75h3.5v86.75h-3.5z" fill="url(#k683)"/>
<path d="M700 408.75h3.5v86.75h-3.5z" fill="url(#k684)"/>
<path d="M703 408.75h3.5v86.75h-3.5z" fill="url(#k685)"/>
<path d="M706 408.75h3.5v86.75h-3.5z" fill="url(#k686)"/>
<path d="M709 408.75h3.5v86.75h-3.5z" fill="url(#k687)"/>
<path d="M712 408.75h3.5v86.75h-3.5z" fill="url(#k688)"/>
<path d="M715 408.75h3.5v86.75h-3.5z" fill="url(#k689)"/>
<path d="M718 408.75h3.5v86.75h-3.5z" fill="url(#k690)"/>
<path d="M721 408.75h3.5v86.75h-3.5z" fill="url(#k691)"/>
<path d="M724 408.75h3.5v86.75h-3.5z" fill="url(#k692)"/>
<path d="M727 408.75h3.5v86.75h-3.5z" fill="url(#k693)"/>
<path d="M730 408.75h3.5v86.75h-3.5z" fill="url(#k694)"/>
<path d="M733 408.75h3.5v86.75h-3.5z" fill="url(#k695)"/>
<path d="M736 408.75h3.5v86.75h-3.5z" fill="url(#k696)"/>
<path d="M739 408.75h3.5v86.75h-3.5z" fill="url(#k697)"/>
<path d="M742 408.75h3.5v86.75h-3.5z" fill="url(#k718)"/>
<path d="M745 408.75h3.5v86.75h-3.5z" fill="url(#k719)"/>
<path d="M748 408.75h3.5v86.75h-3.5z" fill="url(#k720)"/>
<path d="M751 408.75h3.5v86.75h-3.5z" fill="url(#k721)"/>
<path d="M754 408.75h3.5v86.75h-3.5z" fill="url(#k722)"/>
<path d="M757 408.75h3.5v86.75h-3.5z" fill="url(#k723)"/>
<path d="M760 408.75h3.5v86.75h-3.5z" fill="url(#k724)"/>
<path d="M763 408.75h3.5v86.75h-3.5z" fill="url(#k725)"/>
<path d="M766 408.75h3.5v86.75h-3.5z" fill="url(#k726)"/>
<path d="M769 408.75h3.5v86.75h-3.5z" fill="url(#k727)"/>
<path d="M772 408.75h3.5v86.75h-3.5z" fill="url(#k728)"/>
<path d="M775 408.75h3.5v86.75h-3.5z" fill="url(#k729)"/>
<path d="M778 408.75h3.5v86.75h-3.5z" fill="url(#k730)"/>
<path d="M781 408.75h3.5v86.75h-3.5z" fill="url(#k731)"/>
<path d="M784 408.75h3.5v86.75h-3.5z" fill="url(#k732)"/>
<path d="M787 408.75h3.5v86.75h-3.5z" fill="url(#k733)"/>
<path d="M790 408.75h3.5v86.75h-3.5z" fill="url(#k734)"/>
<path d="M793 408.75h3.5v86.75h-3.5z" fill="url(#k735)"/>
<path d="M796 408.75h3.5v86.75h-3.5z" fill="url(#k756)"/>
<path d="M799 408.75h3.5v86.75h-3.5z" fill="url(#k757)"/>
<path d="M802 408.75h3.5v86.75h-3.5z" fill="url(#k758)"/>
<path d="M805 408.75h3.5v86.75h-3.5z" fill="url(#k759)"/>
<path d="M808 408.75h3.5v86.75h-3.5z" fill="url(#k760)"/>
<path d="M811 408.75h3.5v86.75h-3.5z" fill="url(#k761)"/>
<path d="M814 408.75h3.5v86.75h-3.5z" fill="url(#k762)"/>
<path d="M817 408.75h3.5v86.75h-3.5z" fill="url(#k763)"/>
<path d="M820 408.75h3v86.75h-3z" fill="url(#k764)"/>
<path d="M866 408.75h3.5v86.75h-3.5z" fill="url(#k766)"/>
<path d="M869 408.75h3.5v86.75h-3.5z" fill="url(#k767)"/>
<path d="M872 408.75h3.5v86.75h-3.5z" fill="url(#k768)"/>
<path d="M875 408.75h3.5v86.75h-3.5z" fill="url(#k769)"/>
<path d="M878 408.75h3.5v86.75h-3.5z" fill="url(#k770)"/>
<path d="M881 408.75h3.5v86.75h-3.5z" fill="url(#k771)"/>
<path d="M884 408.75h3.5v86.75h-3.5z" fill="url(#k772)"/>
<path d="M887 408.75h3.5v86.75h-3.5z" fill="url(#k773)"/>
<path d="M890 408.75h3.5v86.75h-3.5z" fill="url(#k774)"/>
<path d="M893 408.75h3.5v86.75h-3.5z" fill="url(#k795)"/>
<path d="M896 408.75h3.5v86.75h-3.5z" fill="url(#k796)"/>
<path d="M899 408.75h3.5v86.75h-3.5z" fill="url(#k797)"/>
<path d="M902 408.75h3.5v86.75h-3.5z" fill="url(#k798)"/>
<path d="M905 408.75h3.5v86.75h-3.5z" fill="url(#k799)"/>
<path d="M908 408.75h3.5v86.75h-3.5z" fill="url(#k800)"/>
<path d="M911 408.75h3.5v86.75h-3.5z" fill="url(#k801)"/>
<path d="M914 408.75h3.5v86.75h-3.5z" fill="url(#k802)"/>
<path d="M917 408.75h3.5v86.75h-3.5z" fill="url(#k803)"/>
<path d="M920 408.75h3.5v86.75h-3.5z" fill="url(#k804)"/>
<path d="M923 408.75h3.5v86.75h-3.5z" fill="url(#k805)"/>
<path d="M926 408.75h3.5v86.75h-3.5z" fill="url(#k806)"/>
<path d="M929 408.75h3.5v86.75h-3.5z" fill="url(#k807)"/>
<path d="M932 408.75h3.5v86.75h-3.5z" fill="url(#k808)"/>
<path d="M935 408.75h3.5v86.75h-3.5z" fill="url(#k809)"/>
<path d="M938 408.75h3.5v86.75h-3.5z" fill="url(#k810)"/>
<path d="M941 408.75h3.5v86.75h-3.5z" fill="url(#k811)"/>
<path d="M944 408.75h3.5v86.75h-3.5z" fill="url(#k812)"/>
<path d="M947 408.75h3.5v86.75h-3.5z" fill="url(#k833)"/>
<path d="M950 408.75h3.5v86.75h-3.5z" fill="url(#k834)"/>
<path d="M953 408.75h3.5v86.75h-3.5z" fill="url(#k835)"/>
<path d="M956 408.75h3.5v86.75h-3.5z" fill="url(#k836)"/>
<path d="M959 408.75h3.5v86.75h-3.5z" fill="url(#k837)"/>
<path d="M962 408.75h3.5v86.75h-3.5z" fill="url(#k838)"/>
<path d="M965 408.75h3.5v86.75h-3.5z" fill="url(#k839)"/>
<path d="M968 408.75h3.5v86.75h-3.5z" fill="url(#k840)"/>
<path d="M971 408.75h3.5v86.75h-3.5z" fill="url(#k841)"/>
<path d="M974 408.75h3.5v86.75h-3.5z" fill="url(#k842)"/>
<path d="M977 408.75h3.5v86.75h-3.5z" fill="url(#k843)"/>
<path d="M980 408.75h3.5v86.75h-3.5z" fill="url(#k844)"/>
<path d="M983 408.75h3.5v86.75h-3.5z" fill="url(#k845)"/>
<path d="M986 408.75h3.5v86.75h-3.5z" fill="url(#k846)"/>
<path d="M989 408.75h3.5v86.75h-3.5z" fill="url(#k847)"/>
<path d="M992 408.75h3.5v86.75h-3.5z" fill="url(#k848)"/>
<path d="M995 408.75h3.5v86.75h-3.5z" fill="url(#k849)"/>
<path d="M998 408.75h3.5v86.75h-3.5z" fill="url(#k850)"/>
<path d="M1001 408.75h3.5v86.75h-3.5z" fill="url(#k871)"/>
<path d="M1004 408.75h3.5v86.75h-3.5z" fill="url(#k872)"/>
<path d="M1007 408.75h3.5v86.75h-3.5z" fill="url(#k873)"/>
<path d="M1010 408.75h3.5v86.75h-3.5z" fill="url(#k874)"/>
<path d="M1013 408.75h3.5v86.75h-3.5z" fill="url(#k875)"/>
<path d="M1016 408.75h3.5v86.75h-3.5z" fill="url(#k876)"/>
<path d="M1019 408.75h3.5v86.75h-3.5z" fill="url(#k877)"/>
<path d="M1022 408.75h3.5v86.75h-3.5z" fill="url(#k878)"/>
<path d="M1025 408.75h3.5v86.75h-3.5z" fill="url(#k879)"/>
<path d="M1028 408.75h3.5v86.75h-3.5z" fill="url(#k880)"/>
<path d="M1031 408.75h3.5v86.75h-3.5z" fill="url(#k881)"/>
<path d="M1034 408.75h3.5v86.75h-3.5z" fill="url(#k882)"/>
<path d="M1037 408.75h3.5v86.75h-3.5z" fill="url(#k883)"/>
<path d="M1040 408.75h3.5v86.75h-3.5z" fill="url(#k884)"/>
<path d="M1043 408.75h3.5v86.75h-3.5z" fill="url(#k885)"/>
<path d="M1046 408.75h3.5v86.75h-3.5z" fill="url(#k886)"/>
<path d="M1049 408.75h3.5v86.75h-3.5z" fill="url(#k887)"/>
<path d="M1052 408.75h3.5v86.75h-3.5z" fill="url(#k888)"/>
<path d="M1055 408.75h3.5v86.75h-3.5z" fill="url(#k909)"/>
<path d="M1058 408.75h3.5v86.75h-3.5z" fill="url(#k910)"/>
<path d="M1061 408.75h3.5v86.75h-3.5z" fill="url(#k911)"/>
<path d="M1064 408.75h3.5v86.75h-3.5z" fill="url(#k912)"/>
<path d="M1067 408.75h3.5v86.75h-3.5z" fill="url(#k913)"/>
<path d="M1070 408.75h3.5v86.75h-3.5z" fill="url(#k914)"/>
<path d="M1073 408.75h3.5v86.75h-3.5z" fill="url(#k915)"/>
<path d="M1076 408.75h3.5v86.75h-3.5z" fill="url(#k916)"/>
<path d="M1079 408.75h3v86.75h-3z" fill="url(#k917)"/>
<path d="M607 182.75h3v86.75h-3z" fill="url(#k11)" opacity=".056"/>
<path d="M610 182.75h3v86.75h-3z" fill="url(#k12)" opacity=".167"/>
<path d="M613 182.75h3v86.75h-3z" fill="url(#k13)" opacity=".278"/>
<path d="M616 182.75h3v86.75h-3z" fill="url(#k14)" opacity=".389"/>
<path d="M619 182.75h3v86.75h-3z" fill="url(#k15)" opacity=".5"/>
<path d="M622 182.75h3v86.75h-3z" fill="url(#k16)" opacity=".611"/>
<path d="M625 182.75h3v86.75h-3z" fill="url(#k17)" opacity=".722"/>
<path d="M628 182.75h3v86.75h-3z" fill="url(#k18)" opacity=".833"/>
<path d="M631 182.75h3v86.75h-3z" fill="url(#k19)" opacity=".944"/>
<path d="M634 182.75h3v86.75h-3z" fill="url(#k20)" opacity=".944"/>
<path d="M637 182.75h3v86.75h-3z" fill="url(#k21)" opacity=".833"/>
<path d="M640 182.75h3v86.75h-3z" fill="url(#k22)" opacity=".722"/>
<path d="M643 182.75h3v86.75h-3z" fill="url(#k23)" opacity=".611"/>
<path d="M646 182.75h3v86.75h-3z" fill="url(#k24)" opacity=".5"/>
<path d="M649 182.75h3v86.75h-3z" fill="url(#k25)" opacity=".389"/>
<path d="M652 182.75h3v86.75h-3z" fill="url(#k26)" opacity=".278"/>
<path d="M655 182.75h3v86.75h-3z" fill="url(#k27)" opacity=".167"/>
<path d="M658 182.75h3v86.75h-3z" fill="url(#k28)" opacity=".056"/>
<path d="M661 182.75h3v86.75h-3z" fill="url(#k49)" opacity=".056"/>
<path d="M664 182.75h3v86.75h-3z" fill="url(#k50)" opacity=".167"/>
<path d="M667 182.75h3v86.75h-3z" fill="url(#k51)" opacity=".278"/>
<path d="M670 182.75h3v86.75h-3z" fill="url(#k52)" opacity=".389"/>
<path d="M673 182.75h3v86.75h-3z" fill="url(#k53)" opacity=".5"/>
<path d="M676 182.75h3v86.75h-3z" fill="url(#k54)" opacity=".611"/>
<path d="M679 182.75h3v86.75h-3z" fill="url(#k55)" opacity=".722"/>
<path d="M682 182.75h3v86.75h-3z" fill="url(#k56)" opacity=".833"/>
<path d="M685 182.75h3v86.75h-3z" fill="url(#k57)" opacity=".944"/>
<path d="M688 182.75h3v86.75h-3z" fill="url(#k58)" opacity=".944"/>
<path d="M691 182.75h3v86.75h-3z" fill="url(#k59)" opacity=".833"/>
<path d="M694 182.75h3v86.75h-3z" fill="url(#k60)" opacity=".722"/>
<path d="M697 182.75h3v86.75h-3z" fill="url(#k61)" opacity=".611"/>
<path d="M700 182.75h3v86.75h-3z" fill="url(#k62)" opacity=".5"/>
<path d="M703 182.75h3v86.75h-3z" fill="url(#k63)" opacity=".389"/>
<path d="M706 182.75h3v86.75h-3z" fill="url(#k64)" opacity=".278"/>
<path d="M709 182.75h3v86.75h-3z" fill="url(#k65)" opacity=".167"/>
<path d="M712 182.75h3v86.75h-3z" fill="url(#k66)" opacity=".056"/>
<path d="M715 182.75h3v86.75h-3z" fill="url(#k87)" opacity=".056"/>
<path d="M718 182.75h3v86.75h-3z" fill="url(#k88)" opacity=".167"/>
<path d="M721 182.75h3v86.75h-3z" fill="url(#k89)" opacity=".278"/>
<path d="M724 182.75h3v86.75h-3z" fill="url(#k90)" opacity=".389"/>
<path d="M727 182.75h3v86.75h-3z" fill="url(#k91)" opacity=".5"/>
<path d="M730 182.75h3v86.75h-3z" fill="url(#k92)" opacity=".611"/>
<path d="M733 182.75h3v86.75h-3z" fill="url(#k93)" opacity=".722"/>
<path d="M736 182.75h3v86.75h-3z" fill="url(#k94)" opacity=".833"/>
<path d="M739 182.75h3v86.75h-3z" fill="url(#k95)" opacity=".944"/>
<path d="M742 182.75h3v86.75h-3z" fill="url(#k96)" opacity=".944"/>
<path d="M745 182.75h3v86.75h-3z" fill="url(#k97)" opacity=".833"/>
<path d="M748 182.75h3v86.75h-3z" fill="url(#k98)" opacity=".722"/>
<path d="M751 182.75h3v86.75h-3z" fill="url(#k99)" opacity=".611"/>
<path d="M754 182.75h3v86.75h-3z" fill="url(#k100)" opacity=".5"/>
<path d="M757 182.75h3v86.75h-3z" fill="url(#k101)" opacity=".389"/>
<path d="M760 182.75h3v86.75h-3z" fill="url(#k102)" opacity=".278"/>
<path d="M763 182.75h3v86.75h-3z" fill="url(#k103)" opacity=".167"/>
<path d="M766 182.75h3v86.75h-3z" fill="url(#k104)" opacity=".056"/>
<path d="M769 182.75h3v86.75h-3z" fill="url(#k125)" opacity=".056"/>
<path d="M772 182.75h3v86.75h-3z" fill="url(#k126)" opacity=".167"/>
<path d="M775 182.75h3v86.75h-3z" fill="url(#k127)" opacity=".278"/>
<path d="M778 182.75h3v86.75h-3z" fill="url(#k128)" opacity=".389"/>
<path d="M781 182.75h3v86.75h-3z" fill="url(#k129)" opacity=".5"/>
<path d="M784 182.75h3v86.75h-3z" fill="url(#k130)" opacity=".611"/>
<path d="M787 182.75h3v86.75h-3z" fill="url(#k131)" opacity=".722"/>
<path d="M790 182.75h3v86.75h-3z" fill="url(#k132)" opacity=".833"/>
<path d="M793 182.75h3v86.75h-3z" fill="url(#k133)" opacity=".944"/>
<path d="M796 182.75h3v86.75h-3z" fill="url(#k134)" opacity=".944"/>
<path d="M799 182.75h3v86.75h-3z" fill="url(#k135)" opacity=".833"/>
<path d="M802 182.75h3v86.75h-3z" fill="url(#k136)" opacity=".722"/>
<path d="M805 182.75h3v86.75h-3z" fill="url(#k137)" opacity=".611"/>
<path d="M808 182.75h3v86.75h-3z" fill="url(#k138)" opacity=".5"/>
<path d="M811 182.75h3v86.75h-3z" fill="url(#k139)" opacity=".389"/>
<path d="M814 182.75h3v86.75h-3z" fill="url(#k140)" opacity=".278"/>
<path d="M817 182.75h3v86.75h-3z" fill="url(#k141)" opacity=".167"/>
<path d="M820 182.75h3v86.75h-3z" fill="url(#k142)" opacity=".056"/>
<path d="M866 182.75h3v86.75h-3z" fill="url(#k164)" opacity=".056"/>
<path d="M869 182.75h3v86.75h-3z" fill="url(#k165)" opacity=".167"/>
<path d="M872 182.75h3v86.75h-3z" fill="url(#k166)" opacity=".278"/>
<path d="M875 182.75h3v86.75h-3z" fill="url(#k167)" opacity=".389"/>
<path d="M878 182.75h3v86.75h-3z" fill="url(#k168)" opacity=".5"/>
<path d="M881 182.75h3v86.75h-3z" fill="url(#k169)" opacity=".611"/>
<path d="M884 182.75h3v86.75h-3z" fill="url(#k170)" opacity=".722"/>
<path d="M887 182.75h3v86.75h-3z" fill="url(#k171)" opacity=".833"/>
<path d="M890 182.75h3v86.75h-3z" fill="url(#k172)" opacity=".944"/>
<path d="M893 182.75h3v86.75h-3z" fill="url(#k173)" opacity=".944"/>
<path d="M896 182.75h3v86.75h-3z" fill="url(#k174)" opacity=".833"/>
<path d="M899 182.75h3v86.75h-3z" fill="url(#k175)" opacity=".722"/>
<path d="M902 182.75h3v86.75h-3z" fill="url(#k176)" opacity=".611"/>
<path d="M905 182.75h3v86.75h-3z" fill="url(#k177)" opacity=".5"/>
<path d="M908 182.75h3v86.75h-3z" fill="url(#k178)" opacity=".389"/>
<path d="M911 182.75h3v86.75h-3z" fill="url(#k179)" opacity=".278"/>
<path d="M914 182.75h3v86.75h-3z" fill="url(#k180)" opacity=".167"/>
<path d="M917 182.75h3v86.75h-3z" fill="url(#k181)" opacity=".056"/>
<path d="M920 182.75h3v86.75h-3z" fill="url(#k202)" opacity=".056"/>
<path d="M923 182.75h3v86.75h-3z" fill="url(#k203)" opacity=".167"/>
<path d="M926 182.75h3v86.75h-3z" fill="url(#k204)" opacity=".278"/>
<path d="M929 182.75h3v86.75h-3z" fill="url(#k205)" opacity=".389"/>
<path d="M932 182.75h3v86.75h-3z" fill="url(#k206)" opacity=".5"/>
<path d="M935 182.75h3v86.75h-3z" fill="url(#k207)" opacity=".611"/>
<path d="M938 182.75h3v86.75h-3z" fill="url(#k208)" opacity=".722"/>
<path d="M941 182.75h3v86.75h-3z" fill="url(#k209)" opacity=".833"/>
<path d="M944 182.75h3v86.75h-3z" fill="url(#k210)" opacity=".944"/>
<path d="M947 182.75h3v86.75h-3z" fill="url(#k211)" opacity=".944"/>
<path d="M950 182.75h3v86.75h-3z" fill="url(#k212)" opacity=".833"/>
<path d="M953 182.75h3v86.75h-3z" fill="url(#k213)" opacity=".722"/>
<path d="M956 182.75h3v86.75h-3z" fill="url(#k214)" opacity=".611"/>
<path d="M959 182.75h3v86.75h-3z" fill="url(#k215)" opacity=".5"/>
<path d="M962 182.75h3v86.75h-3z" fill="url(#k216)" opacity=".389"/>
<path d="M965 182.75h3v86.75h-3z" fill="url(#k217)" opacity=".278"/>
<path d="M968 182.75h3v86.75h-3z" fill="url(#k218)" opacity=".167"/>
<path d="M971 182.75h3v86.75h-3z" fill="url(#k219)" opacity=".056"/>
<path d="M974 182.75h3v86.75h-3z" fill="url(#k240)" opacity=".056"/>
<path d="M977 182.75h3v86.75h-3z" fill="url(#k241)" opacity=".167"/>
<path d="M980 182.75h3v86.75h-3z" fill="url(#k242)" opacity=".278"/>
<path d="M983 182.75h3v86.75h-3z" fill="url(#k243)" opacity=".389"/>
<path d="M986 182.75h3v86.75h-3z" fill="url(#k244)" opacity=".5"/>
<path d="M989 182.75h3v86.75h-3z" fill="url(#k245)" opacity=".611"/>
<path d="M992 182.75h3v86.75h-3z" fill="url(#k246)" opacity=".722"/>
<path d="M995 182.75h3v86.75h-3z" fill="url(#k247)" opacity=".833"/>
<path d="M998 182.75h3v86.75h-3z" fill="url(#k248)" opacity=".944"/>
<path d="M1001 182.75h3v86.75h-3z" fill="url(#k249)" opacity=".944"/>
<path d="M1004 182.75h3v86.75h-3z" fill="url(#k250)" opacity=".833"/>
<path d="M1007 182.75h3v86.75h-3z" fill="url(#k251)" opacity=".722"/>
<path d="M1010 182.75h3v86.75h-3z" fill="url(#k252)" opacity=".611"/>
<path d="M1013 182.75h3v86.75h-3z" fill="url(#k253)" opacity=".5"/>
<path d="M1016 182.75h3v86.75h-3z" fill="url(#k254)" opacity=".389"/>
<path d="M1019 182.75h3v86.75h-3z" fill="url(#k255)" opacity=".278"/>
<path d="M1022 182.75h3v86.75h-3z" fill="url(#k256)" opacity=".167"/>
<path d="M1025 182.75h3v86.75h-3z" fill="url(#k257)" opacity=".056"/>
<path d="M1028 182.75h3v86.75h-3z" fill="url(#k278)" opacity=".056"/>
<path d="M1031 182.75h3v86.75h-3z" fill="url(#k279)" opacity=".167"/>
<path d="M1034 182.75h3v86.75h-3z" fill="url(#k280)" opacity=".278"/>
<path d="M1037 182.75h3v86.75h-3z" fill="url(#k281)" opacity=".389"/>
<path d="M1040 182.75h3v86.75h-3z" fill="url(#k282)" opacity=".5"/>
<path d="M1043 182.75h3v86.75h-3z" fill="url(#k283)" opacity=".611"/>
<path d="M1046 182.75h3v86.75h-3z" fill="url(#k284)" opacity=".722"/>
<path d="M1049 182.75h3v86.75h-3z" fill="url(#k285)" opacity=".833"/>
<path d="M1052 182.75h3v86.75h-3z" fill="url(#k286)" opacity=".944"/>
<path d="M1055 182.75h3v86.75h-3z" fill="url(#k287)" opacity=".944"/>
<path d="M1058 182.75h3v86.75h-3z" fill="url(#k288)" opacity=".833"/>
<path d="M1061 182.75h3v86.75h-3z" fill="url(#k289)" opacity=".722"/>
<path d="M1064 182.75h3v86.75h-3z" fill="url(#k290)" opacity=".611"/>
<path d="M1067 182.75h3v86.75h-3z" fill="url(#k291)" opacity=".5"/>
<path d="M1070 182.75h3v86.75h-3z" fill="url(#k292)" opacity=".389"/>
<path d="M1073 182.75h3v86.75h-3z" fill="url(#k293)" opacity=".278"/>
<path d="M1076 182.75h3v86.75h-3z" fill="url(#k294)" opacity=".167"/>
<path d="M1079 182.75h3v86.75h-3z" fill="url(#k295)" opacity=".056"/>
<path d="M607 295.75h3v86.75h-3z" fill="url(#k317)" opacity=".056"/>
<path d="M610 295.75h3v86.75h-3z" fill="url(#k318)" opacity=".167"/>
<path d="M613 295.75h3v86.75h-3z" fill="url(#k319)" opacity=".278"/>
<path d="M616 295.75h3v86.75h-3z" fill="url(#k320)" opacity=".389"/>
<path d="M619 295.75h3v86.75h-3z" fill="url(#k321)" opacity=".5"/>
<path d="M622 295.75h3v86.75h-3z" fill="url(#k322)" opacity=".611"/>
<path d="M625 295.75h3v86.75h-3z" fill="url(#k323)" opacity=".722"/>
<path d="M628 295.75h3v86.75h-3z" fill="url(#k324)" opacity=".833"/>
<path d="M631 295.75h3v86.75h-3z" fill="url(#k325)" opacity=".944"/>
<path d="M634 295.75h3v86.75h-3z" fill="url(#k326)" opacity=".944"/>
<path d="M637 295.75h3v86.75h-3z" fill="url(#k327)" opacity=".833"/>
<path d="M640 295.75h3v86.75h-3z" fill="url(#k328)" opacity=".722"/>
<path d="M643 295.75h3v86.75h-3z" fill="url(#k329)" opacity=".611"/>
<path d="M646 295.75h3v86.75h-3z" fill="url(#k330)" opacity=".5"/>
<path d="M649 295.75h3v86.75h-3z" fill="url(#k331)" opacity=".389"/>
<path d="M652 295.75h3v86.75h-3z" fill="url(#k332)" opacity=".278"/>
<path d="M655 295.75h3v86.75h-3z" fill="url(#k333)" opacity=".167"/>
<path d="M658 295.75h3v86.75h-3z" fill="url(#k334)" opacity=".056"/>
<path d="M661 295.75h3v86.75h-3z" fill="url(#k355)" opacity=".056"/>
<path d="M664 295.75h3v86.75h-3z" fill="url(#k356)" opacity=".167"/>
<path d="M667 295.75h3v86.75h-3z" fill="url(#k357)" opacity=".278"/>
<path d="M670 295.75h3v86.75h-3z" fill="url(#k358)" opacity=".389"/>
<path d="M673 295.75h3v86.75h-3z" fill="url(#k359)" opacity=".5"/>
<path d="M676 295.75h3v86.75h-3z" fill="url(#k360)" opacity=".611"/>
<path d="M679 295.75h3v86.75h-3z" fill="url(#k361)" opacity=".722"/>
<path d="M682 295.75h3v86.75h-3z" fill="url(#k362)" opacity=".833"/>
<path d="M685 295.75h3v86.75h-3z" fill="url(#k363)" opacity=".944"/>
<path d="M688 295.75h3v86.75h-3z" fill="url(#k364)" opacity=".944"/>
<path d="M691 295.75h3v86.75h-3z" fill="url(#k365)" opacity=".833"/>
<path d="M694 295.75h3v86.75h-3z" fill="url(#k366)" opacity=".722"/>
<path d="M697 295.75h3v86.75h-3z" fill="url(#k367)" opacity=".611"/>
<path d="M700 295.75h3v86.75h-3z" fill="url(#k368)" opacity=".5"/>
<path d="M703 295.75h3v86.75h-3z" fill="url(#k369)" opacity=".389"/>
<path d="M706 295.75h3v86.75h-3z" fill="url(#k370)" opacity=".278"/>
<path d="M709 295.75h3v86.75h-3z" fill="url(#k371)" opacity=".167"/>
<path d="M712 295.75h3v86.75h-3z" fill="url(#k372)" opacity=".056"/>
<path d="M715 295.75h3v86.75h-3z" fill="url(#k393)" opacity=".056"/>
<path d="M718 295.75h3v86.75h-3z" fill="url(#k394)" opacity=".167"/>
<path d="M721 295.75h3v86.75h-3z" fill="url(#k395)" opacity=".278"/>
<path d="M724 295.75h3v86.75h-3z" fill="url(#k396)" opacity=".389"/>
<path d="M727 295.75h3v86.75h-3z" fill="url(#k397)" opacity=".5"/>
<path d="M730 295.75h3v86.75h-3z" fill="url(#k398)" opacity=".611"/>
<path d="M733 295.75h3v86.75h-3z" fill="url(#k399)" opacity=".722"/>
<path d="M736 295.75h3v86.75h-3z" fill="url(#k400)" opacity=".833"/>
<path d="M739 295.75h3v86.75h-3z" fill="url(#k401)" opacity=".944"/>
<path d="M742 295.75h3v86.75h-3z" fill="url(#k402)" opacity=".944"/>
<path d="M745 295.75h3v86.75h-3z" fill="url(#k403)" opacity=".833"/>
<path d="M748 295.75h3v86.75h-3z" fill="url(#k404)" opacity=".722"/>
<path d="M751 295.75h3v86.75h-3z" fill="url(#k405)" opacity=".611"/>
<path d="M754 295.75h3v86.75h-3z" fill="url(#k406)" opacity=".5"/>
<path d="M757 295.75h3v86.75h-3z" fill="url(#k407)" opacity=".389"/>
<path d="M760 295.75h3v86.75h-3z" fill="url(#k408)" opacity=".278"/>
<path d="M763 295.75h3v86.75h-3z" fill="url(#k409)" opacity=".167"/>
<path d="M766 295.75h3v86.75h-3z" fill="url(#k410)" opacity=".056"/>
<path d="M769 295.75h3v86.75h-3z" fill="url(#k431)" opacity=".056"/>
<path d="M772 295.75h3v86.75h-3z" fill="url(#k432)" opacity=".167"/>
<path d="M775 295.75h3v86.75h-3z" fill="url(#k433)" opacity=".278"/>
<path d="M778 295.75h3v86.75h-3z" fill="url(#k434)" opacity=".389"/>
<path d="M781 295.75h3v86.75h-3z" fill="url(#k435)" opacity=".5"/>
<path d="M784 295.75h3v86.75h-3z" fill="url(#k436)" opacity=".611"/>
<path d="M787 295.75h3v86.75h-3z" fill="url(#k437)" opacity=".722"/>
<path d="M790 295.75h3v86.75h-3z" fill="url(#k438)" opacity=".833"/>
<path d="M793 295.75h3v86.75h-3z" fill="url(#k439)" opacity=".944"/>
<path d="M796 295.75h3v86.75h-3z" fill="url(#k440)" opacity=".944"/>
<path d="M799 295.75h3v86.75h-3z" fill="url(#k441)" opacity=".833"/>
<path d="M802 295.75h3v86.75h-3z" fill="url(#k442)" opacity=".722"/>
<path d="M805 295.75h3v86.75h-3z" fill="url(#k443)" opacity=".611"/>
<path d="M808 295.75h3v86.75h-3z" fill="url(#k444)" opacity=".5"/>
<path d="M811 295.75h3v86.75h-3z" fill="url(#k445)" opacity=".389"/>
<path d="M814 295.75h3v86.75h-3z" fill="url(#k446)" opacity=".278"/>
<path d="M817 295.75h3v86.75h-3z" fill="url(#k447)" opacity=".167"/>
<path d="M820 295.75h3v86.75h-3z" fill="url(#k448)" opacity=".056"/>
<path d="M866 295.75h3v86.75h-3z" fill="url(#k470)" opacity=".056"/>
<path d="M869 295.75h3v86.75h-3z" fill="url(#k471)" opacity=".167"/>
<path d="M872 295.75h3v86.75h-3z" fill="url(#k472)" opacity=".278"/>
<path d="M875 295.75h3v86.75h-3z" fill="url(#k473)" opacity=".389"/>
<path d="M878 295.75h3v86.75h-3z" fill="url(#k474)" opacity=".5"/>
<path d="M881 295.75h3v86.75h-3z" fill="url(#k475)" opacity=".611"/>
<path d="M884 295.75h3v86.75h-3z" fill="url(#k476)" opacity=".722"/>
<path d="M887 295.75h3v86.75h-3z" fill="url(#k477)" opacity=".833"/>
<path d="M890 295.75h3v86.75h-3z" fill="url(#k478)" opacity=".944"/>
<path d="M893 295.75h3v86.75h-3z" fill="url(#k479)" opacity=".944"/>
<path d="M896 295.75h3v86.75h-3z" fill="url(#k480)" opacity=".833"/>
<path d="M899 295.75h3v86.75h-3z" fill="url(#k481)" opacity=".722"/>
<path d="M902 295.75h3v86.75h-3z" fill="url(#k482)" opacity=".611"/>
<path d="M905 295.75h3v86.75h-3z" fill="url(#k483)" opacity=".5"/>
<path d="M908 295.75h3v86.75h-3z" fill="url(#k484)" opacity=".389"/>
<path d="M911 295.75h3v86.75h-3z" fill="url(#k485)" opacity=".278"/>
<path d="M914 295.75h3v86.75h-3z" fill="url(#k486)" opacity=".167"/>
<path d="M917 295.75h3v86.75h-3z" fill="url(#k487)" opacity=".056"/>
<path d="M920 295.75h3v86.75h-3z" fill="url(#k508)" opacity=".056"/>
<path d="M923 295.75h3v86.75h-3z" fill="url(#k509)" opacity=".167"/>
<path d="M926 295.75h3v86.75h-3z" fill="url(#k510)" opacity=".278"/>
<path d="M929 295.75h3v86.75h-3z" fill="url(#k511)" opacity=".389"/>
<path d="M932 295.75h3v86.75h-3z" fill="url(#k512)" opacity=".5"/>
<path d="M935 295.75h3v86.75h-3z" fill="url(#k513)" opacity=".611"/>
<path d="M938 295.75h3v86.75h-3z" fill="url(#k514)" opacity=".722"/>
<path d="M941 295.75h3v86.75h-3z" fill="url(#k515)" opacity=".833"/>
<path d="M944 295.75h3v86.75h-3z" fill="url(#k516)" opacity=".944"/>
<path d="M947 295.75h3v86.75h-3z" fill="url(#k517)" opacity=".944"/>
<path d="M950 295.75h3v86.75h-3z" fill="url(#k518)" opacity=".833"/>
<path d="M953 295.75h3v86.75h-3z" fill="url(#k519)" opacity=".722"/>
<path d="M956 295.75h3v86.75h-3z" fill="url(#k520)" opacity=".611"/>
<path d="M959 295.75h3v86.75h-3z" fill="url(#k521)" opacity=".5"/>
<path d="M962 295.75h3v86.75h-3z" fill="url(#k522)" opacity=".389"/>
<path d="M965 295.75h3v86.75h-3z" fill="url(#k523)" opacity=".278"/>
<path d="M968 295.75h3v86.75h-3z" fill="url(#k524)" opacity=".167"/>
<path d="M971 295.75h3v86.75h-3z" fill="url(#k525)" opacity=".056"/>
<path d="M974 295.75h3v86.75h-3z" fill="url(#k546)" opacity=".056"/>
<path d="M977 295.75h3v86.75h-3z" fill="url(#k547)" opacity=".167"/>
<path d="M980 295.75h3v86.75h-3z" fill="url(#k548)" opacity=".278"/>
<path d="M983 295.75h3v86.75h-3z" fill="url(#k549)" opacity=".389"/>
<path d="M986 295.75h3v86.75h-3z" fill="url(#k550)" opacity=".5"/>
<path d="M989 295.75h3v86.75h-3z" fill="url(#k551)" opacity=".611"/>
<path d="M992 295.75h3v86.75h-3z" fill="url(#k552)" opacity=".722"/>
<path d="M995 295.75h3v86.75h-3z" fill="url(#k553)" opacity=".833"/>
<path d="M998 295.75h3v86.75h-3z" fill="url(#k554)" opacity=".944"/>
<path d="M1001 295.75h3v86.75h-3z" fill="url(#k555)" opacity=".944"/>
<path d="M1004 295.75h3v86.75h-3z" fill="url(#k556)" opacity=".833"/>
<path d="M1007 295.75h3v86.75h-3z" fill="url(#k557)" opacity=".722"/>
<path d="M1010 295.75h3v86.75h-3z" fill="url(#k558)" opacity=".611"/>
<path d="M1013 295.75h3v86.75h-3z" fill="url(#k559)" opacity=".5"/>
<path d="M1016 295.75h3v86.75h-3z" fill="url(#k560)" opacity=".389"/>
<path d="M1019 295.75h3v86.75h-3z" fill="url(#k561)" opacity=".278"/>
<path d="M1022 295.75h3v86.75h-3z" fill="url(#k562)" opacity=".167"/>
<path d="M1025 295.75h3v86.75h-3z" fill="url(#k563)" opacity=".056"/>
<path d="M1028 295.75h3v86.75h-3z" fill="url(#k584)" opacity=".056"/>
<path d="M1031 295.75h3v86.75h-3z" fill="url(#k585)" opacity=".167"/>
<path d="M1034 295.75h3v86.75h-3z" fill="url(#k586)" opacity=".278"/>
<path d="M1037 295.75h3v86.75h-3z" fill="url(#k587)" opacity=".389"/>
<path d="M1040 295.75h3v86.75h-3z" fill="url(#k588)" opacity=".5"/>
<path d="M1043 295.75h3v86.75h-3z" fill="url(#k589)" opacity=".611"/>
<path d="M1046 295.75h3v86.75h-3z" fill="url(#k590)" opacity=".722"/>
<path d="M1049 295.75h3v86.75h-3z" fill="url(#k591)" opacity=".833"/>
<path d="M1052 295.75h3v86.75h-3z" fill="url(#k592)" opacity=".944"/>
<path d="M1055 295.75h3v86.75h-3z" fill="url(#k593)" opacity=".944"/>
<path d="M1058 295.75h3v86.75h-3z" fill="url(#k594)" opacity=".833"/>
<path d="M1061 295.75h3v86.75h-3z" fill="url(#k595)" opacity=".722"/>
<path d="M1064 295.75h3v86.75h-3z" fill="url(#k596)" opacity=".611"/>
<path d="M1067 295.75h3v86.75h-3z" fill="url(#k597)" opacity=".5"/>
<path d="M1070 295.75h3v86.75h-3z" fill="url(#k598)" opacity=".389"/>
<path d="M1073 295.75h3v86.75h-3z" fill="url(#k599)" opacity=".278"/>
<path d="M1076 295.75h3v86.75h-3z" fill="url(#k600)" opacity=".167"/>
<path d="M1079 295.75h3v86.75h-3z" fill="url(#k601)" opacity=".056"/>
<path d="M607 408.75h3v86.75h-3z" fill="url(#k623)" opacity=".056"/>
<path d="M610 408.75h3v86.75h-3z" fill="url(#k624)" opacity=".167"/>
<path d="M613 408.75h3v86.75h-3z" fill="url(#k625)" opacity=".278"/>
<path d="M616 408.75h3v86.75h-3z" fill="url(#k626)" opacity=".389"/>
<path d="M619 408.75h3v86.75h-3z" fill="url(#k627)" opacity=".5"/>
<path d="M622 408.75h3v86.75h-3z" fill="url(#k628)" opacity=".611"/>
<path d="M625 408.75h3v86.75h-3z" fill="url(#k629)" opacity=".722"/>
<path d="M628 408.75h3v86.75h-3z" fill="url(#k630)" opacity=".833"/>
<path d="M631 408.75h3v86.75h-3z" fill="url(#k631)" opacity=".944"/>
<path d="M634 408.75h3v86.75h-3z" fill="url(#k632)" opacity=".944"/>
<path d="M637 408.75h3v86.75h-3z" fill="url(#k633)" opacity=".833"/>
<path d="M640 408.75h3v86.75h-3z" fill="url(#k634)" opacity=".722"/>
<path d="M643 408.75h3v86.75h-3z" fill="url(#k635)" opacity=".611"/>
<path d="M646 408.75h3v86.75h-3z" fill="url(#k636)" opacity=".5"/>
<path d="M649 408.75h3v86.75h-3z" fill="url(#k637)" opacity=".389"/>
<path d="M652 408.75h3v86.75h-3z" fill="url(#k638)" opacity=".278"/>
<path d="M655 408.75h3v86.75h-3z" fill="url(#k639)" opacity=".167"/>
<path d="M658 408.75h3v86.75h-3z" fill="url(#k640)" opacity=".056"/>
<path d="M661 408.75h3v86.75h-3z" fill="url(#k661)" opacity=".056"/>
<path d="M664 408.75h3v86.75h-3z" fill="url(#k662)" opacity=".167"/>
<path d="M667 408.75h3v86.75h-3z" fill="url(#k663)" opacity=".278"/>
<path d="M670 408.75h3v86.75h-3z" fill="url(#k664)" opacity=".389"/>
<path d="M673 408.75h3v86.75h-3z" fill="url(#k665)" opacity=".5"/>
<path d="M676 408.75h3v86.75h-3z" fill="url(#k666)" opacity=".611"/>
<path d="M679 408.75h3v86.75h-3z" fill="url(#k667)" opacity=".722"/>
<path d="M682 408.75h3v86.75h-3z" fill="url(#k668)" opacity=".833"/>
<path d="M685 408.75h3v86.75h-3z" fill="url(#k669)" opacity=".944"/>
<path d="M688 408.75h3v86.75h-3z" fill="url(#k670)" opacity=".944"/>
<path d="M691 408.75h3v86.75h-3z" fill="url(#k671)" opacity=".833"/>
<path d="M694 408.75h3v86.75h-3z" fill="url(#k672)" opacity=".722"/>
<path d="M697 408.75h3v86.75h-3z" fill="url(#k673)" opacity=".611"/>
<path d="M700 408.75h3v86.75h-3z" fill="url(#k674)" opacity=".5"/>
<path d="M703 408.75h3v86.75h-3z" fill="url(#k675)" opacity=".389"/>
<path d="M706 408.75h3v86.75h-3z" fill="url(#k676)" opacity=".278"/>
<path d="M709 408.75h3v86.75h-3z" fill="url(#k677)" opacity=".167"/>
<path d="M712 408.75h3v86.75h-3z" fill="url(#k678)" opacity=".056"/>
<path d="M715 408.75h3v86.75h-3z" fill="url(#k699)" opacity=".056"/>
<path d="M718 408.75h3v86.75h-3z" fill="url(#k700)" opacity=".167"/>
<path d="M721 408.75h3v86.75h-3z" fill="url(#k701)" opacity=".278"/>
<path d="M724 408.75h3v86.75h-3z" fill="url(#k702)" opacity=".389"/>
<path d="M727 408.75h3v86.75h-3z" fill="url(#k703)" opacity=".5"/>
<path d="M730 408.75h3v86.75h-3z" fill="url(#k704)" opacity=".611"/>
<path d="M733 408.75h3v86.75h-3z" fill="url(#k705)" opacity=".722"/>
<path d="M736 408.75h3v86.75h-3z" fill="url(#k706)" opacity=".833"/>
<path d="M739 408.75h3v86.75h-3z" fill="url(#k707)" opacity=".944"/>
<path d="M742 408.75h3v86.75h-3z" fill="url(#k708)" opacity=".944"/>
<path d="M745 408.75h3v86.75h-3z" fill="url(#k709)" opacity=".833"/>
<path d="M748 408.75h3v86.75h-3z" fill="url(#k710)" opacity=".722"/>
<path d="M751 408.75h3v86.75h-3z" fill="url(#k711)" opacity=".611"/>
<path d="M754 408.75h3v86.75h-3z" fill="url(#k712)" opacity=".5"/>
<path d="M757 408.75h3v86.75h-3z" fill="url(#k713)" opacity=".389"/>
<path d="M760 408.75h3v86.75h-3z" fill="url(#k714)" opacity=".278"/>
<path d="M763 408.75h3v86.75h-3z" fill="url(#k715)" opacity=".167"/>
<path d="M766 408.75h3v86.75h-3z" fill="url(#k716)" opacity=".056"/>
<path d="M769 408.75h3v86.75h-3z" fill="url(#k737)" opacity=".056"/>
<path d="M772 408.75h3v86.75h-3z" fill="url(#k738)" opacity=".167"/>
<path d="M775 408.75h3v86.75h-3z" fill="url(#k739)" opacity=".278"/>
<path d="M778 408.75h3v86.75h-3z" fill="url(#k740)" opacity=".389"/>
<path d="M781 408.75h3v86.75h-3z" fill="url(#k741)" opacity=".5"/>
<path d="M784 408.75h3v86.75h-3z" fill="url(#k742)" opacity=".611"/>
<path d="M787 408.75h3v86.75h-3z" fill="url(#k743)" opacity=".722"/>
<path d="M790 408.75h3v86.75h-3z" fill="url(#k744)" opacity=".833"/>
<path d="M793 408.75h3v86.75h-3z" fill="url(#k745)" opacity=".944"/>
<path d="M796 408.75h3v86.75h-3z" fill="url(#k746)" opacity=".944"/>
<path d="M799 408.75h3v86.75h-3z" fill="url(#k747)" opacity=".833"/>
<path d="M802 408.75h3v86.75h-3z" fill="url(#k748)" opacity=".722"/>
<path d="M805 408.75h3v86.75h-3z" fill="url(#k749)" opacity=".611"/>
<path d="M808 408.75h3v86.75h-3z" fill="url(#k750)" opacity=".5"/>
<path d="M811 408.75h3v86.75h-3z" fill="url(#k751)" opacity=".389"/>
<path d="M814 408.75h3v86.75h-3z" fill="url(#k752)" opacity=".278"/>
<path d="M817 408.75h3v86.75h-3z" fill="url(#k753)" opacity=".167"/>
<path d="M820 408.75h3v86.75h-3z" fill="url(#k754)" opacity=".056"/>
<path d="M866 408.75h3v86.75h-3z" fill="url(#k776)" opacity=".056"/>
<path d="M869 408.75h3v86.75h-3z" fill="url(#k777)" opacity=".167"/>
<path d="M872 408.75h3v86.75h-3z" fill="url(#k778)" opacity=".278"/>
<path d="M875 408.75h3v86.75h-3z" fill="url(#k779)" opacity=".389"/>
<path d="M878 408.75h3v86.75h-3z" fill="url(#k780)" opacity=".5"/>
<path d="M881 408.75h3v86.75h-3z" fill="url(#k781)" opacity=".611"/>
<path d="M884 408.75h3v86.75h-3z" fill="url(#k782)" opacity=".722"/>
<path d="M887 408.75h3v86.75h-3z" fill="url(#k783)" opacity=".833"/>
<path d="M890 408.75h3v86.75h-3z" fill="url(#k784)" opacity=".944"/>
<path d="M893 408.75h3v86.75h-3z" fill="url(#k785)" opacity=".944"/>
<path d="M896 408.75h3v86.75h-3z" fill="url(#k786)" opacity=".833"/>
<path d="M899 408.75h3v86.75h-3z" fill="url(#k787)" opacity=".722"/>
<path d="M902 408.75h3v86.75h-3z" fill="url(#k788)" opacity=".611"/>
<path d="M905 408.75h3v86.75h-3z" fill="url(#k789)" opacity=".5"/>
<path d="M908 408.75h3v86.75h-3z" fill="url(#k790)" opacity=".389"/>
<path d="M911 408.75h3v86.75h-3z" fill="url(#k791)" opacity=".278"/>
<path d="M914 408.75h3v86.75h-3z" fill="url(#k792)" opacity=".167"/>
<path d="M917 408.75h3v86.75h-3z" fill="url(#k793)" opacity=".056"/>
<path d="M920 408.75h3v86.75h-3z" fill="url(#k814)" opacity=".056"/>
<path d="M923 408.75h3v86.75h-3z" fill="url(#k815)" opacity=".167"/>
<path d="M926 408.75h3v86.75h-3z" fill="url(#k816)" opacity=".278"/>
<path d="M929 408.75h3v86.75h-3z" fill="url(#k817)" opacity=".389"/>
<path d="M932 408.75h3v86.75h-3z" fill="url(#k818)" opacity=".5"/>
<path d="M935 408.75h3v86.75h-3z" fill="url(#k819)" opacity=".611"/>
<path d="M938 408.75h3v86.75h-3z" fill="url(#k820)" opacity=".722"/>
<path d="M941 408.75h3v86.75h-3z" fill="url(#k821)" opacity=".833"/>
<path d="M944 408.75h3v86.75h-3z" fill="url(#k822)" opacity=".944"/>
<path d="M947 408.75h3v86.75h-3z" fill="url(#k823)" opacity=".944"/>
<path d="M950 408.75h3v86.75h-3z" fill="url(#k824)" opacity=".833"/>
<path d="M953 408.75h3v86.75h-3z" fill="url(#k825)" opacity=".722"/>
<path d="M956 408.75h3v86.75h-3z" fill="url(#k826)" opacity=".611"/>
<path d="M959 408.75h3v86.75h-3z" fill="url(#k827)" opacity=".5"/>
<path d="M962 408.75h3v86.75h-3z" fill="url(#k828)" opacity=".389"/>
<path d="M965 408.75h3v86.75h-3z" fill="url(#k829)" opacity=".278"/>
<path d="M968 408.75h3v86.75h-3z" fill="url(#k830)" opacity=".167"/>
<path d="M971 408.75h3v86.75h-3z" fill="url(#k831)" opacity=".056"/>
<path d="M974 408.75h3v86.75h-3z" fill="url(#k852)" opacity=".056"/>
<path d="M977 408.75h3v86.75h-3z" fill="url(#k853)" opacity=".167"/>
<path d="M980 408.75h3v86.75h-3z" fill="url(#k854)" opacity=".278"/>
<path d="M983 408.75h3v86.75h-3z" fill="url(#k855)" opacity=".389"/>
<path d="M986 408.75h3v86.75h-3z" fill="url(#k856)" opacity=".5"/>
<path d="M989 408.75h3v86.75h-3z" fill="url(#k857)" opacity=".611"/>
<path d="M992 408.75h3v86.75h-3z" fill="url(#k858)" opacity=".722"/>
<path d="M995 408.75h3v86.75h-3z" fill="url(#k859)" opacity=".833"/>
<path d="M998 408.75h3v86.75h-3z" fill="url(#k860)" opacity=".944"/>
<path d="M1001 408.75h3v86.75h-3z" fill="url(#k861)" opacity=".944"/>
<path d="M1004 408.75h3v86.75h-3z" fill="url(#k862)" opacity=".833"/>
<path d="M1007 408.75h3v86.75h-3z" fill="url(#k863)" opacity=".722"/>
<path d="M1010 408.75h3v86.75h-3z" fill="url(#k864)" opacity=".611"/>
<path d="M1013 408.75h3v86.75h-3z" fill="url(#k865)" opacity=".5"/>
<path d="M1016 408.75h3v86.75h-3z" fill="url(#k866)" opacity=".389"/>
<path d="M1019 408.75h3v86.75h-3z" fill="url(#k867)" opacity=".278"/>
<path d="M1022 408.75h3v86.75h-3z" fill="url(#k868)" opacity=".167"/>
<path d="M1025 408.75h3v86.75h-3z" fill="url(#k869)" opacity=".056"/>
<path d="M1028 408.75h3v86.75h-3z" fill="url(#k890)" opacity=".056"/>
<path d="M1031 408.75h3v86.75h-3z" fill="url(#k891)" opacity=".167"/>
<path d="M1034 408.75h3v86.75h-3z" fill="url(#k892)" opacity=".278"/>
<path d="M1037 408.75h3v86.75h-3z" fill="url(#k893)" opacity=".389"/>
<path d="M1040 408.75h3v86.75h-3z" fill="url(#k894)" opacity=".5"/>
<path d="M1043 408.75h3v86.75h-3z" fill="url(#k895)" opacity=".611"/>
<path d="M1046 408.75h3v86.75h-3z" fill="url(#k896)" opacity=".722"/>
<path d="M1049 408.75h3v86.75h-3z" fill="url(#k897)" opacity=".833"/>
<path d="M1052 408.75h3v86.75h-3z" fill="url(#k898)" opacity=".944"/>
<path d="M1055 408.75h3v86.75h-3z" fill="url(#k899)" opacity=".944"/>
<path d="M1058 408.75h3v86.75h-3z" fill="url(#k900)" opacity=".833"/>
<path d="M1061 408.75h3v86.75h-3z" fill="url(#k901)" opacity=".722"/>
<path d="M1064 408.75h3v86.75h-3z" fill="url(#k902)" opacity=".611"/>
<path d="M1067 408.75h3v86.75h-3z" fill="url(#k903)" opacity=".5"/>
<path d="M1070 408.75h3v86.75h-3z" fill="url(#k904)" opacity=".389"/>
<path d="M1073 408.75h3v86.75h-3z" fill="url(#k905)" opacity=".278"/>
<path d="M1076 408.75h3v86.75h-3z" fill="url(#k906)" opacity=".167"/>
<path d="M1079 408.75h3v86.75h-3z" fill="url(#k907)" opacity=".056"/></g>
<rect x="606.90" y="182.75" width="216.00" height="86.75" fill="none" stroke="#222" stroke-opacity=".55" stroke-width="0.9"/>
<rect x="866.25" y="182.75" width="216.00" height="86.75" fill="none" stroke="#222" stroke-opacity=".55" stroke-width="0.9"/>
<rect x="606.90" y="295.75" width="216.00" height="86.75" fill="none" stroke="#222" stroke-opacity=".55" stroke-width="0.9"/>
<rect x="866.25" y="295.75" width="216.00" height="86.75" fill="none" stroke="#222" stroke-opacity=".55" stroke-width="0.9"/>
<rect x="606.90" y="408.75" width="216.00" height="86.75" fill="none" stroke="#222" stroke-opacity=".55" stroke-width="0.9"/>
<rect x="866.25" y="408.75" width="216.00" height="86.75" fill="none" stroke="#222" stroke-opacity=".55" stroke-width="0.9"/>
<text x="685.1" y="177.2" class="tt" font-style="italic">u</text>
<text x="691.4" y="173.7" class="tt" style="font-size:8.5px">2</text>
<path d="M685.0 165.7H696.1" stroke="#222" stroke-width="0.7"/>
<text x="699.1" y="177.2" class="tt" textLength="45.6" lengthAdjust="spacingAndGlyphs">reference</text>
<text x="950.8" y="177.2" class="tt" font-style="italic">u</text>
<text x="957.1" y="173.7" class="tt" style="font-size:8.5px">2</text>
<path d="M950.7 165.7H961.7" stroke="#222" stroke-width="0.7"/>
<text x="964.7" y="177.2" class="tt" textLength="33.0" lengthAdjust="spacingAndGlyphs">PINNs</text>
<text x="600.3" y="273.1" class="tk" text-anchor="end">0</text>
<text x="600.3" y="241.8" class="tk" text-anchor="end">50</text>
<text x="600.3" y="210.6" class="tk" text-anchor="end">100</text>
<text transform="translate(580.5 226.1) rotate(-90)" class="tk" style="font-style:italic;font-size:9.1px" text-anchor="middle">y</text>
<text x="684.5" y="290.2" class="tt" font-style="italic">uv</text>
<path d="M684.4 283.1H695.9" stroke="#222" stroke-width="0.7"/>
<text x="699.7" y="290.2" class="tt" textLength="45.6" lengthAdjust="spacingAndGlyphs">reference</text>
<text x="950.2" y="290.2" class="tt" font-style="italic">uv</text>
<path d="M950.1 283.1H961.5" stroke="#222" stroke-width="0.7"/>
<text x="965.3" y="290.2" class="tt" textLength="33.0" lengthAdjust="spacingAndGlyphs">PINNs</text>
<text x="600.3" y="386.1" class="tk" text-anchor="end">0</text>
<text x="600.3" y="354.9" class="tk" text-anchor="end">50</text>
<text x="600.3" y="323.6" class="tk" text-anchor="end">100</text>
<text transform="translate(580.5 339.1) rotate(-90)" class="tk" style="font-style:italic;font-size:9.1px" text-anchor="middle">y</text>
<text x="685.5" y="403.2" class="tt" font-style="italic">v</text>
<text x="691.1" y="399.6" class="tt" style="font-size:8.5px">2</text>
<path d="M685.4 391.6H695.7" stroke="#222" stroke-width="0.7"/>
<text x="698.7" y="403.2" class="tt" textLength="45.6" lengthAdjust="spacingAndGlyphs">reference</text>
<text x="951.1" y="403.2" class="tt" font-style="italic">v</text>
<text x="956.7" y="399.6" class="tt" style="font-size:8.5px">2</text>
<path d="M951.0 391.6H961.4" stroke="#222" stroke-width="0.7"/>
<text x="964.4" y="403.2" class="tt" textLength="33.0" lengthAdjust="spacingAndGlyphs">PINNs</text>
<text x="600.3" y="499.1" class="tk" text-anchor="end">0</text>
<text x="600.3" y="467.9" class="tk" text-anchor="end">50</text>
<text x="600.3" y="436.6" class="tk" text-anchor="end">100</text>
<text transform="translate(580.5 452.1) rotate(-90)" class="tk" style="font-style:italic;font-size:9.1px" text-anchor="middle">y</text>
<text x="633.6" y="508.1" class="tk" text-anchor="middle">1250</text>
<text x="660.8" y="508.1" class="tk" text-anchor="middle">1500</text>
<text x="687.9" y="508.1" class="tk" text-anchor="middle">1750</text>
<text x="715.0" y="508.1" class="tk" text-anchor="middle">2000</text>
<text x="742.0" y="508.1" class="tk" text-anchor="middle">2250</text>
<text x="769.1" y="508.1" class="tk" text-anchor="middle">2500</text>
<text x="796.2" y="508.1" class="tk" text-anchor="middle">2750</text>
<text x="707.9" y="520.1" class="tk" style="font-style:italic;font-size:10.6px">Re<tspan dy="2.2" font-size="7.6" font-style="normal">θ</tspan></text>
<text x="893.0" y="508.1" class="tk" text-anchor="middle">1250</text>
<text x="920.1" y="508.1" class="tk" text-anchor="middle">1500</text>
<text x="947.2" y="508.1" class="tk" text-anchor="middle">1750</text>
<text x="974.3" y="508.1" class="tk" text-anchor="middle">2000</text>
<text x="1001.4" y="508.1" class="tk" text-anchor="middle">2250</text>
<text x="1028.5" y="508.1" class="tk" text-anchor="middle">2500</text>
<text x="1055.6" y="508.1" class="tk" text-anchor="middle">2750</text>
<text x="967.2" y="520.1" class="tk" style="font-style:italic;font-size:10.6px">Re<tspan dy="2.2" font-size="7.6" font-style="normal">θ</tspan></text>
<path d="M633.65 269.50v3.1M660.75 269.50v3.1M687.85 269.50v3.1M714.95 269.50v3.1M742.05 269.50v3.1M769.15 269.50v3.1M796.25 269.50v3.1M606.90 269.80h-3.1M606.90 238.55h-3.1M606.90 207.30h-3.1M893.00 269.50v3.1M920.10 269.50v3.1M947.20 269.50v3.1M974.30 269.50v3.1M1001.40 269.50v3.1M1028.50 269.50v3.1M1055.60 269.50v3.1M866.25 269.80h-3.1M866.25 238.55h-3.1M866.25 207.30h-3.1M633.65 382.50v3.1M660.75 382.50v3.1M687.85 382.50v3.1M714.95 382.50v3.1M742.05 382.50v3.1M769.15 382.50v3.1M796.25 382.50v3.1M606.90 382.80h-3.1M606.90 351.55h-3.1M606.90 320.30h-3.1M893.00 382.50v3.1M920.10 382.50v3.1M947.20 382.50v3.1M974.30 382.50v3.1M1001.40 382.50v3.1M1028.50 382.50v3.1M1055.60 382.50v3.1M866.25 382.80h-3.1M866.25 351.55h-3.1M866.25 320.30h-3.1M633.65 495.50v3.1M660.75 495.50v3.1M687.85 495.50v3.1M714.95 495.50v3.1M742.05 495.50v3.1M769.15 495.50v3.1M796.25 495.50v3.1M606.90 495.80h-3.1M606.90 464.55h-3.1M606.90 433.30h-3.1M893.00 495.50v3.1M920.10 495.50v3.1M947.20 495.50v3.1M974.30 495.50v3.1M1001.40 495.50v3.1M1028.50 495.50v3.1M1055.60 495.50v3.1M866.25 495.80h-3.1M866.25 464.55h-3.1M866.25 433.30h-3.1" stroke="#3a3a3a" stroke-width="0.9" fill="none"/>
<defs>
<linearGradient id="cb0" x1="0" y1="0" x2="0" y2="1"><stop offset="0.000" stop-color="#f0e14a"/><stop offset="0.042" stop-color="#eee048"/><stop offset="0.083" stop-color="#ece046"/><stop offset="0.125" stop-color="#e7df43"/><stop offset="0.167" stop-color="#e5df41"/><stop offset="0.208" stop-color="#e1df3f"/><stop offset="0.250" stop-color="#dede3e"/><stop offset="0.292" stop-color="#dcde3d"/><stop offset="0.333" stop-color="#b1d943"/><stop offset="0.375" stop-color="#80cf5c"/><stop offset="0.417" stop-color="#55c274"/><stop offset="0.458" stop-color="#39b583"/><stop offset="0.500" stop-color="#2aa78c"/><stop offset="0.542" stop-color="#289a91"/><stop offset="0.583" stop-color="#2b8f93"/><stop offset="0.625" stop-color="#2e8694"/><stop offset="0.667" stop-color="#327d94"/><stop offset="0.708" stop-color="#357594"/><stop offset="0.750" stop-color="#396c94"/><stop offset="0.792" stop-color="#3f6192"/><stop offset="0.833" stop-color="#45528f"/><stop offset="0.875" stop-color="#4a4389"/><stop offset="0.917" stop-color="#4d327d"/><stop offset="0.958" stop-color="#4c216f"/><stop offset="1.000" stop-color="#491462"/></linearGradient>
<linearGradient id="cb1" x1="0" y1="0" x2="0" y2="1"><stop offset="0.000" stop-color="#f0e14a"/><stop offset="0.042" stop-color="#e3df40"/><stop offset="0.083" stop-color="#bbda3f"/><stop offset="0.125" stop-color="#8ed254"/><stop offset="0.167" stop-color="#65c76c"/><stop offset="0.208" stop-color="#46bb7c"/><stop offset="0.250" stop-color="#38b484"/><stop offset="0.292" stop-color="#2dab8a"/><stop offset="0.333" stop-color="#28a38e"/><stop offset="0.375" stop-color="#289a91"/><stop offset="0.417" stop-color="#2a9293"/><stop offset="0.458" stop-color="#2d8994"/><stop offset="0.500" stop-color="#318094"/><stop offset="0.542" stop-color="#347794"/><stop offset="0.583" stop-color="#396e94"/><stop offset="0.625" stop-color="#3d6493"/><stop offset="0.667" stop-color="#425891"/><stop offset="0.708" stop-color="#484b8d"/><stop offset="0.750" stop-color="#4b3e86"/><stop offset="0.792" stop-color="#4d2e7b"/><stop offset="0.833" stop-color="#4c2270"/><stop offset="0.875" stop-color="#4c1e6c"/><stop offset="0.917" stop-color="#4b1a69"/><stop offset="0.958" stop-color="#4a1665"/><stop offset="1.000" stop-color="#491462"/></linearGradient>
<linearGradient id="cb2" x1="0" y1="0" x2="0" y2="1"><stop offset="0.000" stop-color="#f0e14a"/><stop offset="0.042" stop-color="#eee048"/><stop offset="0.083" stop-color="#e9e045"/><stop offset="0.125" stop-color="#e5df41"/><stop offset="0.167" stop-color="#e1df3f"/><stop offset="0.208" stop-color="#dede3e"/><stop offset="0.250" stop-color="#d0dd3a"/><stop offset="0.292" stop-color="#a3d649"/><stop offset="0.333" stop-color="#7acd60"/><stop offset="0.375" stop-color="#54c175"/><stop offset="0.417" stop-color="#3db781"/><stop offset="0.458" stop-color="#2fad89"/><stop offset="0.500" stop-color="#28a48e"/><stop offset="0.542" stop-color="#289992"/><stop offset="0.583" stop-color="#2b8f93"/><stop offset="0.625" stop-color="#2e8794"/><stop offset="0.667" stop-color="#317f94"/><stop offset="0.708" stop-color="#357694"/><stop offset="0.750" stop-color="#396e94"/><stop offset="0.792" stop-color="#3d6493"/><stop offset="0.833" stop-color="#445590"/><stop offset="0.875" stop-color="#49468a"/><stop offset="0.917" stop-color="#4d347f"/><stop offset="0.958" stop-color="#4c2270"/><stop offset="1.000" stop-color="#491462"/></linearGradient>
</defs>
<rect x="1112.3" y="179.2" width="5.3" height="94.1" fill="url(#cb0)" stroke="#333" stroke-width="0.6"/>
<text x="1122.8" y="190.5" class="tk">1e-02</text>
<text x="1122.8" y="201.2" class="tk">9e-03</text>
<text x="1122.8" y="211.9" class="tk">7e-03</text>
<text x="1122.8" y="222.7" class="tk">6e-03</text>
<text x="1122.8" y="233.4" class="tk">5e-03</text>
<text x="1122.8" y="244.1" class="tk">4e-03</text>
<text x="1122.8" y="254.9" class="tk">3e-03</text>
<text x="1122.8" y="265.6" class="tk">1e-03</text>
<text x="1122.8" y="276.3" class="tk">0e+00</text>
<rect x="1112.3" y="292.0" width="5.3" height="93.8" fill="url(#cb1)" stroke="#333" stroke-width="0.6"/>
<text x="1122.8" y="297.5" class="tk">0e+00</text>
<text x="1122.8" y="307.6" class="tk">-2e-04</text>
<text x="1122.8" y="317.6" class="tk">-4e-04</text>
<text x="1122.8" y="327.7" class="tk">-6e-04</text>
<text x="1122.8" y="337.7" class="tk">-8e-04</text>
<text x="1122.8" y="347.8" class="tk">-1e-03</text>
<text x="1122.8" y="357.8" class="tk">-1e-03</text>
<text x="1122.8" y="367.9" class="tk">-1e-03</text>
<text x="1122.8" y="377.9" class="tk">-2e-03</text>
<text x="1122.8" y="388.0" class="tk">-2e-03</text>
<rect x="1112.3" y="405.3" width="5.3" height="93.9" fill="url(#cb2)" stroke="#333" stroke-width="0.6"/>
<text x="1122.8" y="416.3" class="tk">2e-03</text>
<text x="1122.8" y="425.8" class="tk">2e-03</text>
<text x="1122.8" y="435.4" class="tk">2e-03</text>
<text x="1122.8" y="444.9" class="tk">2e-03</text>
<text x="1122.8" y="454.5" class="tk">1e-03</text>
<text x="1122.8" y="464.0" class="tk">1e-03</text>
<text x="1122.8" y="473.6" class="tk">8e-04</text>
<text x="1122.8" y="483.1" class="tk">5e-04</text>
<text x="1122.8" y="492.7" class="tk">3e-04</text>
<text x="1122.8" y="502.2" class="tk">0e+00</text>
<path d="M1117.6 187.50h2.4M1117.6 198.22h2.4M1117.6 208.95h2.4M1117.6 219.68h2.4M1117.6 230.40h2.4M1117.6 241.12h2.4M1117.6 251.85h2.4M1117.6 262.58h2.4M1117.6 273.30h2.4M1117.6 294.50h2.4M1117.6 304.56h2.4M1117.6 314.61h2.4M1117.6 324.67h2.4M1117.6 334.72h2.4M1117.6 344.78h2.4M1117.6 354.83h2.4M1117.6 364.89h2.4M1117.6 374.94h2.4M1117.6 385.00h2.4M1117.6 413.30h2.4M1117.6 422.84h2.4M1117.6 432.39h2.4M1117.6 441.93h2.4M1117.6 451.48h2.4M1117.6 461.02h2.4M1117.6 470.57h2.4M1117.6 480.11h2.4M1117.6 489.66h2.4M1117.6 499.20h2.4" stroke="#222" stroke-width="0.7" fill="none"/>
</svg>
</body></html>
